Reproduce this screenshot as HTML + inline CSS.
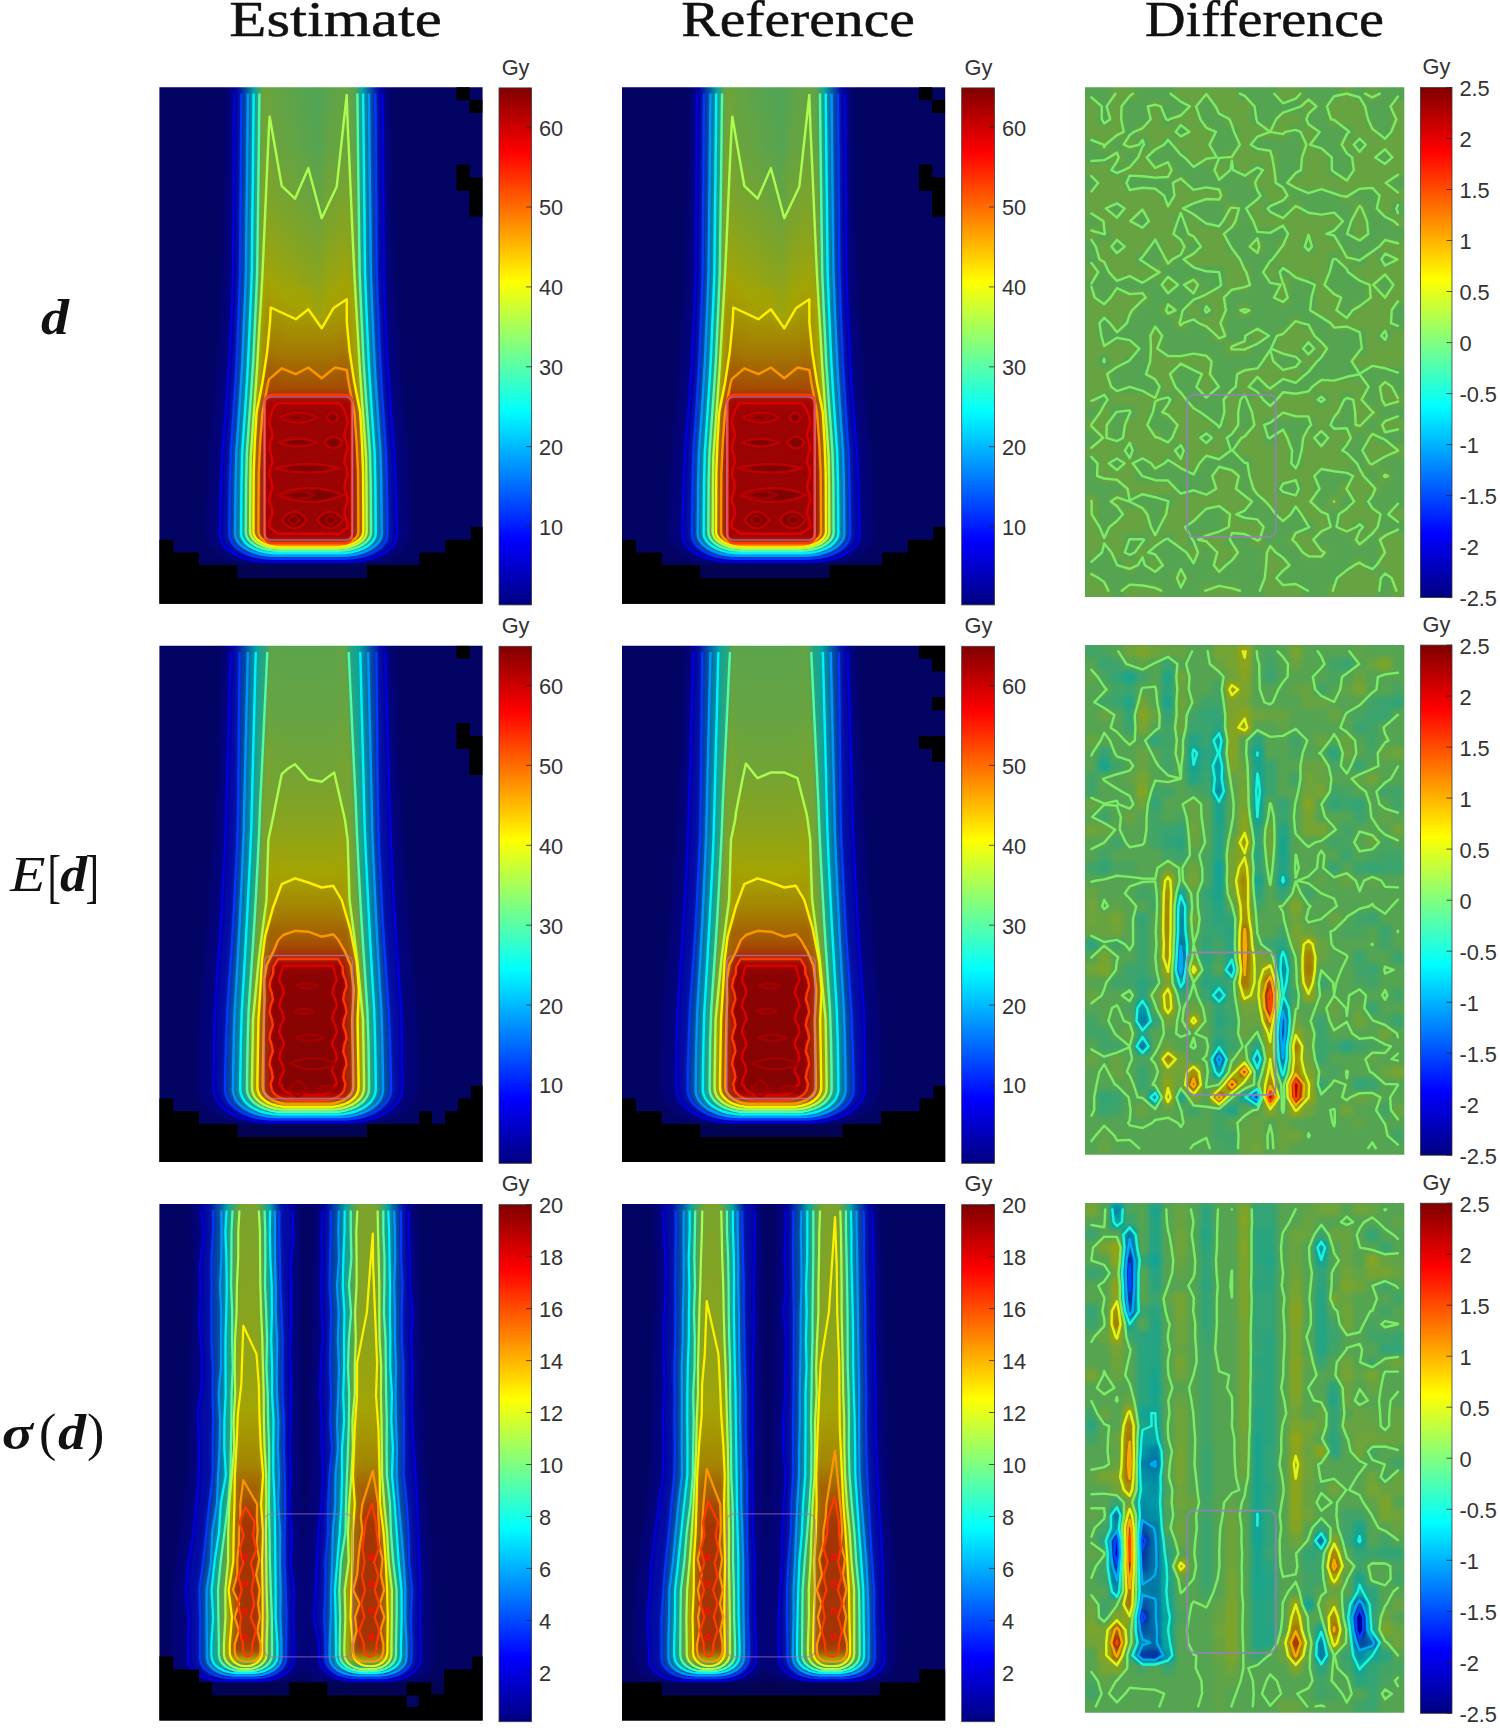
<!DOCTYPE html>
<html lang="en"><head><meta charset="utf-8"><title>Estimate / Reference / Difference</title>
<style>html,body{margin:0;padding:0;background:#fff}svg{display:block}</style></head>
<body>
<svg width="1500" height="1735" viewBox="0 0 1500 1735" role="img" aria-label="Estimate, reference and difference dose maps">
<defs>
<filter id="jet" x="-5%" y="-5%" width="110%" height="110%" color-interpolation-filters="sRGB"><feGaussianBlur stdDeviation="2.6 2.2"/><feComponentTransfer><feFuncR type="table" tableValues="0.015 0.015 0.015 0.015 0.330 0.645 0.645 0.645 0.330"/><feFuncG type="table" tableValues="0.015 0.015 0.330 0.645 0.645 0.645 0.330 0.015 0.015"/><feFuncB type="table" tableValues="0.330 0.645 0.645 0.645 0.330 0.015 0.015 0.015 0.015"/><feFuncA type="linear" slope="0" intercept="1"/></feComponentTransfer></filter>
<filter id="jetd" x="-5%" y="-5%" width="110%" height="110%" color-interpolation-filters="sRGB"><feGaussianBlur stdDeviation="2.6 2.6"/><feComponentTransfer><feFuncR type="table" tableValues="0.015 0.015 0.015 0.015 0.330 0.645 0.645 0.645 0.330"/><feFuncG type="table" tableValues="0.015 0.015 0.330 0.645 0.645 0.645 0.330 0.015 0.015"/><feFuncB type="table" tableValues="0.330 0.645 0.645 0.645 0.330 0.015 0.015 0.015 0.015"/><feFuncA type="linear" slope="0" intercept="1"/></feComponentTransfer></filter>
<filter id="soft" x="-5%" y="-5%" width="110%" height="110%"><feGaussianBlur stdDeviation="0.6"/></filter>
<linearGradient id="cb" x1="0" y1="1" x2="0" y2="0"><stop offset="0.000" stop-color="#000080"/><stop offset="0.125" stop-color="#0000ff"/><stop offset="0.250" stop-color="#0080ff"/><stop offset="0.375" stop-color="#00ffff"/><stop offset="0.500" stop-color="#80ff80"/><stop offset="0.625" stop-color="#ffff00"/><stop offset="0.750" stop-color="#ff8000"/><stop offset="0.875" stop-color="#ff0000"/><stop offset="1.000" stop-color="#800000"/></linearGradient>
<linearGradient id="core00" gradientUnits="userSpaceOnUse" x1="0" y1="87.3" x2="0" y2="603.7"><stop offset="0.0000" stop-color="#838383"/><stop offset="0.1162" stop-color="#868686"/><stop offset="0.2130" stop-color="#8c8c8c"/><stop offset="0.3292" stop-color="#969696"/><stop offset="0.4376" stop-color="#a2a2a2"/><stop offset="0.5074" stop-color="#afafaf"/><stop offset="0.5538" stop-color="#bababa"/><stop offset="0.5809" stop-color="#c1c1c1"/><stop offset="0.5945" stop-color="#cacaca"/><stop offset="0.6022" stop-color="#dadada"/><stop offset="0.6158" stop-color="#e0e0e0"/><stop offset="0.6390" stop-color="#e2e2e2"/><stop offset="0.8521" stop-color="#e3e3e3"/><stop offset="0.8714" stop-color="#e0e0e0"/><stop offset="0.8830" stop-color="#c4c4c4"/><stop offset="0.9218" stop-color="#000000"/><stop offset="0.9992" stop-color="#000000"/></linearGradient>
<clipPath id="l00"><rect x="159.4" y="93.6" width="323.2" height="516.4"/></clipPath>
<clipPath id="c00"><rect x="159.4" y="87.3" width="323.2" height="516.4"/></clipPath>
<linearGradient id="core10" gradientUnits="userSpaceOnUse" x1="0" y1="87.3" x2="0" y2="603.7"><stop offset="0.0000" stop-color="#838383"/><stop offset="0.1162" stop-color="#868686"/><stop offset="0.2130" stop-color="#8c8c8c"/><stop offset="0.3292" stop-color="#969696"/><stop offset="0.4376" stop-color="#a2a2a2"/><stop offset="0.5074" stop-color="#afafaf"/><stop offset="0.5538" stop-color="#bababa"/><stop offset="0.5809" stop-color="#c1c1c1"/><stop offset="0.5945" stop-color="#cacaca"/><stop offset="0.6022" stop-color="#dadada"/><stop offset="0.6158" stop-color="#e0e0e0"/><stop offset="0.6390" stop-color="#e2e2e2"/><stop offset="0.8521" stop-color="#e3e3e3"/><stop offset="0.8714" stop-color="#e0e0e0"/><stop offset="0.8830" stop-color="#c4c4c4"/><stop offset="0.9218" stop-color="#000000"/><stop offset="0.9992" stop-color="#000000"/></linearGradient>
<clipPath id="l10"><rect x="622" y="93.6" width="323.2" height="516.4"/></clipPath>
<clipPath id="c10"><rect x="622" y="87.3" width="323.2" height="516.4"/></clipPath>
<linearGradient id="core01" gradientUnits="userSpaceOnUse" x1="0" y1="645.7" x2="0" y2="1162.1"><stop offset="0.0000" stop-color="#838383"/><stop offset="0.1356" stop-color="#868686"/><stop offset="0.2421" stop-color="#8c8c8c"/><stop offset="0.3582" stop-color="#969696"/><stop offset="0.4609" stop-color="#a2a2a2"/><stop offset="0.5190" stop-color="#afafaf"/><stop offset="0.5596" stop-color="#bababa"/><stop offset="0.5868" stop-color="#c6c6c6"/><stop offset="0.6061" stop-color="#d2d2d2"/><stop offset="0.6235" stop-color="#e6e6e6"/><stop offset="0.6468" stop-color="#eaeaea"/><stop offset="0.8482" stop-color="#ebebeb"/><stop offset="0.8637" stop-color="#e7e7e7"/><stop offset="0.8792" stop-color="#cccccc"/><stop offset="0.9256" stop-color="#000000"/><stop offset="0.9992" stop-color="#000000"/></linearGradient>
<clipPath id="l01"><rect x="159.4" y="652" width="323.2" height="516.4"/></clipPath>
<clipPath id="c01"><rect x="159.4" y="645.7" width="323.2" height="516.4"/></clipPath>
<linearGradient id="core11" gradientUnits="userSpaceOnUse" x1="0" y1="645.7" x2="0" y2="1162.1"><stop offset="0.0000" stop-color="#838383"/><stop offset="0.1356" stop-color="#868686"/><stop offset="0.2421" stop-color="#8c8c8c"/><stop offset="0.3582" stop-color="#969696"/><stop offset="0.4609" stop-color="#a2a2a2"/><stop offset="0.5190" stop-color="#afafaf"/><stop offset="0.5596" stop-color="#bababa"/><stop offset="0.5868" stop-color="#c6c6c6"/><stop offset="0.6061" stop-color="#d2d2d2"/><stop offset="0.6235" stop-color="#e6e6e6"/><stop offset="0.6468" stop-color="#eaeaea"/><stop offset="0.8482" stop-color="#ebebeb"/><stop offset="0.8637" stop-color="#e7e7e7"/><stop offset="0.8792" stop-color="#cccccc"/><stop offset="0.9256" stop-color="#000000"/><stop offset="0.9992" stop-color="#000000"/></linearGradient>
<clipPath id="l11"><rect x="622" y="652" width="323.2" height="516.4"/></clipPath>
<clipPath id="c11"><rect x="622" y="645.7" width="323.2" height="516.4"/></clipPath>
<linearGradient id="core02" gradientUnits="userSpaceOnUse" x1="0" y1="1204.1" x2="0" y2="1720.5"><stop offset="0.0000" stop-color="#8f8f8f"/><stop offset="0.2324" stop-color="#959595"/><stop offset="0.3873" stop-color="#9e9e9e"/><stop offset="0.5035" stop-color="#acacac"/><stop offset="0.5616" stop-color="#bdbdbd"/><stop offset="0.5926" stop-color="#c6c6c6"/><stop offset="0.6197" stop-color="#cbcbcb"/><stop offset="0.6584" stop-color="#cccccc"/><stop offset="0.8443" stop-color="#cccccc"/><stop offset="0.8637" stop-color="#c6c6c6"/><stop offset="0.8792" stop-color="#a6a6a6"/><stop offset="0.9256" stop-color="#000000"/><stop offset="0.9992" stop-color="#000000"/></linearGradient>
<clipPath id="l02"><rect x="159.4" y="1210.4" width="323.2" height="516.4"/></clipPath>
<clipPath id="c02"><rect x="159.4" y="1204.1" width="323.2" height="516.4"/></clipPath>
<linearGradient id="core12" gradientUnits="userSpaceOnUse" x1="0" y1="1204.1" x2="0" y2="1720.5"><stop offset="0.0000" stop-color="#8f8f8f"/><stop offset="0.2324" stop-color="#959595"/><stop offset="0.3873" stop-color="#9e9e9e"/><stop offset="0.5035" stop-color="#acacac"/><stop offset="0.5616" stop-color="#bdbdbd"/><stop offset="0.5926" stop-color="#c6c6c6"/><stop offset="0.6197" stop-color="#cbcbcb"/><stop offset="0.6584" stop-color="#cccccc"/><stop offset="0.8443" stop-color="#cccccc"/><stop offset="0.8637" stop-color="#c6c6c6"/><stop offset="0.8792" stop-color="#a6a6a6"/><stop offset="0.9256" stop-color="#000000"/><stop offset="0.9992" stop-color="#000000"/></linearGradient>
<clipPath id="l12"><rect x="622" y="1210.4" width="323.2" height="516.4"/></clipPath>
<clipPath id="c12"><rect x="622" y="1204.1" width="323.2" height="516.4"/></clipPath>
<clipPath id="c20"><rect x="1085" y="87.3" width="319.3" height="509.8"/></clipPath>
<clipPath id="c21"><rect x="1085" y="644.9" width="319.3" height="509.8"/></clipPath>
<clipPath id="c22"><rect x="1085" y="1203" width="319.3" height="509.8"/></clipPath>
</defs>
<rect width="1500" height="1735" fill="#fff"/>
<text x="229.3" y="35.7" font-family="'Liberation Serif','DejaVu Serif',serif" font-size="50" fill="#111" text-anchor="start" textLength="212.5" lengthAdjust="spacingAndGlyphs" stroke="#111" stroke-width="0.5">Estimate</text>
<text x="681.3" y="35.7" font-family="'Liberation Serif','DejaVu Serif',serif" font-size="50" fill="#111" text-anchor="start" textLength="233.5" lengthAdjust="spacingAndGlyphs" stroke="#111" stroke-width="0.5">Reference</text>
<text x="1145" y="35.7" font-family="'Liberation Serif','DejaVu Serif',serif" font-size="50" fill="#111" text-anchor="start" textLength="239" lengthAdjust="spacingAndGlyphs" stroke="#111" stroke-width="0.5">Difference</text>
<text x="41" y="334" font-family="'Liberation Serif','DejaVu Serif',serif" font-size="51" font-weight="bold" font-style="italic" fill="#111" textLength="28" lengthAdjust="spacingAndGlyphs">d</text>
<text y="891" font-family="'Liberation Serif','DejaVu Serif',serif" font-size="50" fill="#111"><tspan x="10" font-style="italic" textLength="35.5" lengthAdjust="spacingAndGlyphs">E</tspan><tspan x="47.5" dy="4.5" font-size="59" textLength="13.5" lengthAdjust="spacingAndGlyphs">[</tspan><tspan x="60" dy="-4.5" font-size="51" font-weight="bold" font-style="italic" textLength="27" lengthAdjust="spacingAndGlyphs">d</tspan><tspan x="85.5" dy="4.5" font-size="59" textLength="13.5" lengthAdjust="spacingAndGlyphs">]</tspan></text>
<text y="1449" font-family="'Liberation Serif','DejaVu Serif',serif" font-size="50" fill="#111"><tspan x="2" font-size="49" font-weight="bold" font-style="italic" textLength="31" lengthAdjust="spacingAndGlyphs">σ</tspan><tspan x="39" dy="1" font-size="52">(</tspan><tspan x="58" dy="-1" font-size="51" font-weight="bold" font-style="italic" textLength="28" lengthAdjust="spacingAndGlyphs">d</tspan><tspan x="87" dy="1" font-size="52">)</tspan></text>
<rect x="499" y="87.9" width="32.6" height="517" fill="url(#cb)" stroke="#3a3a3a" stroke-width="0.8"/><text x="515.6" y="74.5" font-family="'Liberation Sans','DejaVu Sans',sans-serif" font-size="21.8" fill="#333" text-anchor="middle" >Gy</text><path d="M526.1 526.6H531.6" stroke="#222" stroke-width="1" opacity=".75"/><text x="539" y="535" font-family="'Liberation Sans','DejaVu Sans',sans-serif" font-size="21.8" fill="#333" text-anchor="start" >10</text><path d="M526.1 446.7H531.6" stroke="#222" stroke-width="1" opacity=".75"/><text x="539" y="455.1" font-family="'Liberation Sans','DejaVu Sans',sans-serif" font-size="21.8" fill="#333" text-anchor="start" >20</text><path d="M526.1 366.8H531.6" stroke="#222" stroke-width="1" opacity=".75"/><text x="539" y="375.2" font-family="'Liberation Sans','DejaVu Sans',sans-serif" font-size="21.8" fill="#333" text-anchor="start" >30</text><path d="M526.1 286.9H531.6" stroke="#222" stroke-width="1" opacity=".75"/><text x="539" y="295.3" font-family="'Liberation Sans','DejaVu Sans',sans-serif" font-size="21.8" fill="#333" text-anchor="start" >40</text><path d="M526.1 207H531.6" stroke="#222" stroke-width="1" opacity=".75"/><text x="539" y="215.4" font-family="'Liberation Sans','DejaVu Sans',sans-serif" font-size="21.8" fill="#333" text-anchor="start" >50</text><path d="M526.1 127.1H531.6" stroke="#222" stroke-width="1" opacity=".75"/><text x="539" y="135.5" font-family="'Liberation Sans','DejaVu Sans',sans-serif" font-size="21.8" fill="#333" text-anchor="start" >60</text>
<rect x="961.7" y="87.9" width="32.8" height="517" fill="url(#cb)" stroke="#3a3a3a" stroke-width="0.8"/><text x="978.4" y="74.5" font-family="'Liberation Sans','DejaVu Sans',sans-serif" font-size="21.8" fill="#333" text-anchor="middle" >Gy</text><path d="M989 526.6H994.5" stroke="#222" stroke-width="1" opacity=".75"/><text x="1001.9" y="535" font-family="'Liberation Sans','DejaVu Sans',sans-serif" font-size="21.8" fill="#333" text-anchor="start" >10</text><path d="M989 446.7H994.5" stroke="#222" stroke-width="1" opacity=".75"/><text x="1001.9" y="455.1" font-family="'Liberation Sans','DejaVu Sans',sans-serif" font-size="21.8" fill="#333" text-anchor="start" >20</text><path d="M989 366.8H994.5" stroke="#222" stroke-width="1" opacity=".75"/><text x="1001.9" y="375.2" font-family="'Liberation Sans','DejaVu Sans',sans-serif" font-size="21.8" fill="#333" text-anchor="start" >30</text><path d="M989 286.9H994.5" stroke="#222" stroke-width="1" opacity=".75"/><text x="1001.9" y="295.3" font-family="'Liberation Sans','DejaVu Sans',sans-serif" font-size="21.8" fill="#333" text-anchor="start" >40</text><path d="M989 207H994.5" stroke="#222" stroke-width="1" opacity=".75"/><text x="1001.9" y="215.4" font-family="'Liberation Sans','DejaVu Sans',sans-serif" font-size="21.8" fill="#333" text-anchor="start" >50</text><path d="M989 127.1H994.5" stroke="#222" stroke-width="1" opacity=".75"/><text x="1001.9" y="135.5" font-family="'Liberation Sans','DejaVu Sans',sans-serif" font-size="21.8" fill="#333" text-anchor="start" >60</text>
<rect x="1420.4" y="87.5" width="31.6" height="510.1" fill="url(#cb)" stroke="#3a3a3a" stroke-width="0.8"/><text x="1436.5" y="74.1" font-family="'Liberation Sans','DejaVu Sans',sans-serif" font-size="21.8" fill="#333" text-anchor="middle" >Gy</text><path d="M1446.5 597.6H1452" stroke="#222" stroke-width="1" opacity=".75"/><text x="1459.4" y="606" font-family="'Liberation Sans','DejaVu Sans',sans-serif" font-size="21.8" fill="#333" text-anchor="start" >-2.5</text><path d="M1446.5 546.6H1452" stroke="#222" stroke-width="1" opacity=".75"/><text x="1459.4" y="555" font-family="'Liberation Sans','DejaVu Sans',sans-serif" font-size="21.8" fill="#333" text-anchor="start" >-2</text><path d="M1446.5 495.6H1452" stroke="#222" stroke-width="1" opacity=".75"/><text x="1459.4" y="504" font-family="'Liberation Sans','DejaVu Sans',sans-serif" font-size="21.8" fill="#333" text-anchor="start" >-1.5</text><path d="M1446.5 444.6H1452" stroke="#222" stroke-width="1" opacity=".75"/><text x="1459.4" y="453" font-family="'Liberation Sans','DejaVu Sans',sans-serif" font-size="21.8" fill="#333" text-anchor="start" >-1</text><path d="M1446.5 393.6H1452" stroke="#222" stroke-width="1" opacity=".75"/><text x="1459.4" y="402" font-family="'Liberation Sans','DejaVu Sans',sans-serif" font-size="21.8" fill="#333" text-anchor="start" >-0.5</text><path d="M1446.5 342.6H1452" stroke="#222" stroke-width="1" opacity=".75"/><text x="1459.4" y="350.9" font-family="'Liberation Sans','DejaVu Sans',sans-serif" font-size="21.8" fill="#333" text-anchor="start" >0</text><path d="M1446.5 291.5H1452" stroke="#222" stroke-width="1" opacity=".75"/><text x="1459.4" y="299.9" font-family="'Liberation Sans','DejaVu Sans',sans-serif" font-size="21.8" fill="#333" text-anchor="start" >0.5</text><path d="M1446.5 240.5H1452" stroke="#222" stroke-width="1" opacity=".75"/><text x="1459.4" y="248.9" font-family="'Liberation Sans','DejaVu Sans',sans-serif" font-size="21.8" fill="#333" text-anchor="start" >1</text><path d="M1446.5 189.5H1452" stroke="#222" stroke-width="1" opacity=".75"/><text x="1459.4" y="197.9" font-family="'Liberation Sans','DejaVu Sans',sans-serif" font-size="21.8" fill="#333" text-anchor="start" >1.5</text><path d="M1446.5 138.5H1452" stroke="#222" stroke-width="1" opacity=".75"/><text x="1459.4" y="146.9" font-family="'Liberation Sans','DejaVu Sans',sans-serif" font-size="21.8" fill="#333" text-anchor="start" >2</text><path d="M1446.5 87.5H1452" stroke="#222" stroke-width="1" opacity=".75"/><text x="1459.4" y="95.9" font-family="'Liberation Sans','DejaVu Sans',sans-serif" font-size="21.8" fill="#333" text-anchor="start" >2.5</text>
<rect x="499" y="646.3" width="32.6" height="517" fill="url(#cb)" stroke="#3a3a3a" stroke-width="0.8"/><text x="515.6" y="632.9" font-family="'Liberation Sans','DejaVu Sans',sans-serif" font-size="21.8" fill="#333" text-anchor="middle" >Gy</text><path d="M526.1 1085H531.6" stroke="#222" stroke-width="1" opacity=".75"/><text x="539" y="1093.4" font-family="'Liberation Sans','DejaVu Sans',sans-serif" font-size="21.8" fill="#333" text-anchor="start" >10</text><path d="M526.1 1005.1H531.6" stroke="#222" stroke-width="1" opacity=".75"/><text x="539" y="1013.5" font-family="'Liberation Sans','DejaVu Sans',sans-serif" font-size="21.8" fill="#333" text-anchor="start" >20</text><path d="M526.1 925.2H531.6" stroke="#222" stroke-width="1" opacity=".75"/><text x="539" y="933.6" font-family="'Liberation Sans','DejaVu Sans',sans-serif" font-size="21.8" fill="#333" text-anchor="start" >30</text><path d="M526.1 845.3H531.6" stroke="#222" stroke-width="1" opacity=".75"/><text x="539" y="853.7" font-family="'Liberation Sans','DejaVu Sans',sans-serif" font-size="21.8" fill="#333" text-anchor="start" >40</text><path d="M526.1 765.4H531.6" stroke="#222" stroke-width="1" opacity=".75"/><text x="539" y="773.8" font-family="'Liberation Sans','DejaVu Sans',sans-serif" font-size="21.8" fill="#333" text-anchor="start" >50</text><path d="M526.1 685.5H531.6" stroke="#222" stroke-width="1" opacity=".75"/><text x="539" y="693.9" font-family="'Liberation Sans','DejaVu Sans',sans-serif" font-size="21.8" fill="#333" text-anchor="start" >60</text>
<rect x="961.7" y="646.3" width="32.8" height="517" fill="url(#cb)" stroke="#3a3a3a" stroke-width="0.8"/><text x="978.4" y="632.9" font-family="'Liberation Sans','DejaVu Sans',sans-serif" font-size="21.8" fill="#333" text-anchor="middle" >Gy</text><path d="M989 1085H994.5" stroke="#222" stroke-width="1" opacity=".75"/><text x="1001.9" y="1093.4" font-family="'Liberation Sans','DejaVu Sans',sans-serif" font-size="21.8" fill="#333" text-anchor="start" >10</text><path d="M989 1005.1H994.5" stroke="#222" stroke-width="1" opacity=".75"/><text x="1001.9" y="1013.5" font-family="'Liberation Sans','DejaVu Sans',sans-serif" font-size="21.8" fill="#333" text-anchor="start" >20</text><path d="M989 925.2H994.5" stroke="#222" stroke-width="1" opacity=".75"/><text x="1001.9" y="933.6" font-family="'Liberation Sans','DejaVu Sans',sans-serif" font-size="21.8" fill="#333" text-anchor="start" >30</text><path d="M989 845.3H994.5" stroke="#222" stroke-width="1" opacity=".75"/><text x="1001.9" y="853.7" font-family="'Liberation Sans','DejaVu Sans',sans-serif" font-size="21.8" fill="#333" text-anchor="start" >40</text><path d="M989 765.4H994.5" stroke="#222" stroke-width="1" opacity=".75"/><text x="1001.9" y="773.8" font-family="'Liberation Sans','DejaVu Sans',sans-serif" font-size="21.8" fill="#333" text-anchor="start" >50</text><path d="M989 685.5H994.5" stroke="#222" stroke-width="1" opacity=".75"/><text x="1001.9" y="693.9" font-family="'Liberation Sans','DejaVu Sans',sans-serif" font-size="21.8" fill="#333" text-anchor="start" >60</text>
<rect x="1420.4" y="645.1" width="31.6" height="510.1" fill="url(#cb)" stroke="#3a3a3a" stroke-width="0.8"/><text x="1436.5" y="631.7" font-family="'Liberation Sans','DejaVu Sans',sans-serif" font-size="21.8" fill="#333" text-anchor="middle" >Gy</text><path d="M1446.5 1155.2H1452" stroke="#222" stroke-width="1" opacity=".75"/><text x="1459.4" y="1163.6" font-family="'Liberation Sans','DejaVu Sans',sans-serif" font-size="21.8" fill="#333" text-anchor="start" >-2.5</text><path d="M1446.5 1104.2H1452" stroke="#222" stroke-width="1" opacity=".75"/><text x="1459.4" y="1112.6" font-family="'Liberation Sans','DejaVu Sans',sans-serif" font-size="21.8" fill="#333" text-anchor="start" >-2</text><path d="M1446.5 1053.2H1452" stroke="#222" stroke-width="1" opacity=".75"/><text x="1459.4" y="1061.6" font-family="'Liberation Sans','DejaVu Sans',sans-serif" font-size="21.8" fill="#333" text-anchor="start" >-1.5</text><path d="M1446.5 1002.2H1452" stroke="#222" stroke-width="1" opacity=".75"/><text x="1459.4" y="1010.6" font-family="'Liberation Sans','DejaVu Sans',sans-serif" font-size="21.8" fill="#333" text-anchor="start" >-1</text><path d="M1446.5 951.2H1452" stroke="#222" stroke-width="1" opacity=".75"/><text x="1459.4" y="959.6" font-family="'Liberation Sans','DejaVu Sans',sans-serif" font-size="21.8" fill="#333" text-anchor="start" >-0.5</text><path d="M1446.5 900.2H1452" stroke="#222" stroke-width="1" opacity=".75"/><text x="1459.4" y="908.6" font-family="'Liberation Sans','DejaVu Sans',sans-serif" font-size="21.8" fill="#333" text-anchor="start" >0</text><path d="M1446.5 849.1H1452" stroke="#222" stroke-width="1" opacity=".75"/><text x="1459.4" y="857.5" font-family="'Liberation Sans','DejaVu Sans',sans-serif" font-size="21.8" fill="#333" text-anchor="start" >0.5</text><path d="M1446.5 798.1H1452" stroke="#222" stroke-width="1" opacity=".75"/><text x="1459.4" y="806.5" font-family="'Liberation Sans','DejaVu Sans',sans-serif" font-size="21.8" fill="#333" text-anchor="start" >1</text><path d="M1446.5 747.1H1452" stroke="#222" stroke-width="1" opacity=".75"/><text x="1459.4" y="755.5" font-family="'Liberation Sans','DejaVu Sans',sans-serif" font-size="21.8" fill="#333" text-anchor="start" >1.5</text><path d="M1446.5 696.1H1452" stroke="#222" stroke-width="1" opacity=".75"/><text x="1459.4" y="704.5" font-family="'Liberation Sans','DejaVu Sans',sans-serif" font-size="21.8" fill="#333" text-anchor="start" >2</text><path d="M1446.5 645.1H1452" stroke="#222" stroke-width="1" opacity=".75"/><text x="1459.4" y="653.5" font-family="'Liberation Sans','DejaVu Sans',sans-serif" font-size="21.8" fill="#333" text-anchor="start" >2.5</text>
<rect x="499" y="1204.7" width="32.6" height="517" fill="url(#cb)" stroke="#3a3a3a" stroke-width="0.8"/><text x="515.6" y="1191.3" font-family="'Liberation Sans','DejaVu Sans',sans-serif" font-size="21.8" fill="#333" text-anchor="middle" >Gy</text><path d="M526.1 1672.3H531.6" stroke="#222" stroke-width="1" opacity=".75"/><text x="539" y="1680.7" font-family="'Liberation Sans','DejaVu Sans',sans-serif" font-size="21.8" fill="#333" text-anchor="start" >2</text><path d="M526.1 1620.4H531.6" stroke="#222" stroke-width="1" opacity=".75"/><text x="539" y="1628.8" font-family="'Liberation Sans','DejaVu Sans',sans-serif" font-size="21.8" fill="#333" text-anchor="start" >4</text><path d="M526.1 1568.4H531.6" stroke="#222" stroke-width="1" opacity=".75"/><text x="539" y="1576.8" font-family="'Liberation Sans','DejaVu Sans',sans-serif" font-size="21.8" fill="#333" text-anchor="start" >6</text><path d="M526.1 1516.5H531.6" stroke="#222" stroke-width="1" opacity=".75"/><text x="539" y="1524.9" font-family="'Liberation Sans','DejaVu Sans',sans-serif" font-size="21.8" fill="#333" text-anchor="start" >8</text><path d="M526.1 1464.5H531.6" stroke="#222" stroke-width="1" opacity=".75"/><text x="539" y="1472.9" font-family="'Liberation Sans','DejaVu Sans',sans-serif" font-size="21.8" fill="#333" text-anchor="start" >10</text><path d="M526.1 1412.5H531.6" stroke="#222" stroke-width="1" opacity=".75"/><text x="539" y="1420.9" font-family="'Liberation Sans','DejaVu Sans',sans-serif" font-size="21.8" fill="#333" text-anchor="start" >12</text><path d="M526.1 1360.6H531.6" stroke="#222" stroke-width="1" opacity=".75"/><text x="539" y="1369" font-family="'Liberation Sans','DejaVu Sans',sans-serif" font-size="21.8" fill="#333" text-anchor="start" >14</text><path d="M526.1 1308.6H531.6" stroke="#222" stroke-width="1" opacity=".75"/><text x="539" y="1317" font-family="'Liberation Sans','DejaVu Sans',sans-serif" font-size="21.8" fill="#333" text-anchor="start" >16</text><path d="M526.1 1256.7H531.6" stroke="#222" stroke-width="1" opacity=".75"/><text x="539" y="1265.1" font-family="'Liberation Sans','DejaVu Sans',sans-serif" font-size="21.8" fill="#333" text-anchor="start" >18</text><path d="M526.1 1204.7H531.6" stroke="#222" stroke-width="1" opacity=".75"/><text x="539" y="1213.1" font-family="'Liberation Sans','DejaVu Sans',sans-serif" font-size="21.8" fill="#333" text-anchor="start" >20</text>
<rect x="961.7" y="1204.7" width="32.8" height="517" fill="url(#cb)" stroke="#3a3a3a" stroke-width="0.8"/><text x="978.4" y="1191.3" font-family="'Liberation Sans','DejaVu Sans',sans-serif" font-size="21.8" fill="#333" text-anchor="middle" >Gy</text><path d="M989 1672.3H994.5" stroke="#222" stroke-width="1" opacity=".75"/><text x="1001.9" y="1680.7" font-family="'Liberation Sans','DejaVu Sans',sans-serif" font-size="21.8" fill="#333" text-anchor="start" >2</text><path d="M989 1620.4H994.5" stroke="#222" stroke-width="1" opacity=".75"/><text x="1001.9" y="1628.8" font-family="'Liberation Sans','DejaVu Sans',sans-serif" font-size="21.8" fill="#333" text-anchor="start" >4</text><path d="M989 1568.4H994.5" stroke="#222" stroke-width="1" opacity=".75"/><text x="1001.9" y="1576.8" font-family="'Liberation Sans','DejaVu Sans',sans-serif" font-size="21.8" fill="#333" text-anchor="start" >6</text><path d="M989 1516.5H994.5" stroke="#222" stroke-width="1" opacity=".75"/><text x="1001.9" y="1524.9" font-family="'Liberation Sans','DejaVu Sans',sans-serif" font-size="21.8" fill="#333" text-anchor="start" >8</text><path d="M989 1464.5H994.5" stroke="#222" stroke-width="1" opacity=".75"/><text x="1001.9" y="1472.9" font-family="'Liberation Sans','DejaVu Sans',sans-serif" font-size="21.8" fill="#333" text-anchor="start" >10</text><path d="M989 1412.5H994.5" stroke="#222" stroke-width="1" opacity=".75"/><text x="1001.9" y="1420.9" font-family="'Liberation Sans','DejaVu Sans',sans-serif" font-size="21.8" fill="#333" text-anchor="start" >12</text><path d="M989 1360.6H994.5" stroke="#222" stroke-width="1" opacity=".75"/><text x="1001.9" y="1369" font-family="'Liberation Sans','DejaVu Sans',sans-serif" font-size="21.8" fill="#333" text-anchor="start" >14</text><path d="M989 1308.6H994.5" stroke="#222" stroke-width="1" opacity=".75"/><text x="1001.9" y="1317" font-family="'Liberation Sans','DejaVu Sans',sans-serif" font-size="21.8" fill="#333" text-anchor="start" >16</text><path d="M989 1256.7H994.5" stroke="#222" stroke-width="1" opacity=".75"/><text x="1001.9" y="1265.1" font-family="'Liberation Sans','DejaVu Sans',sans-serif" font-size="21.8" fill="#333" text-anchor="start" >18</text><path d="M989 1204.7H994.5" stroke="#222" stroke-width="1" opacity=".75"/><text x="1001.9" y="1213.1" font-family="'Liberation Sans','DejaVu Sans',sans-serif" font-size="21.8" fill="#333" text-anchor="start" >20</text>
<rect x="1420.4" y="1203.2" width="31.6" height="510.1" fill="url(#cb)" stroke="#3a3a3a" stroke-width="0.8"/><text x="1436.5" y="1189.8" font-family="'Liberation Sans','DejaVu Sans',sans-serif" font-size="21.8" fill="#333" text-anchor="middle" >Gy</text><path d="M1446.5 1713.3H1452" stroke="#222" stroke-width="1" opacity=".75"/><text x="1459.4" y="1721.7" font-family="'Liberation Sans','DejaVu Sans',sans-serif" font-size="21.8" fill="#333" text-anchor="start" >-2.5</text><path d="M1446.5 1662.3H1452" stroke="#222" stroke-width="1" opacity=".75"/><text x="1459.4" y="1670.7" font-family="'Liberation Sans','DejaVu Sans',sans-serif" font-size="21.8" fill="#333" text-anchor="start" >-2</text><path d="M1446.5 1611.3H1452" stroke="#222" stroke-width="1" opacity=".75"/><text x="1459.4" y="1619.7" font-family="'Liberation Sans','DejaVu Sans',sans-serif" font-size="21.8" fill="#333" text-anchor="start" >-1.5</text><path d="M1446.5 1560.3H1452" stroke="#222" stroke-width="1" opacity=".75"/><text x="1459.4" y="1568.7" font-family="'Liberation Sans','DejaVu Sans',sans-serif" font-size="21.8" fill="#333" text-anchor="start" >-1</text><path d="M1446.5 1509.3H1452" stroke="#222" stroke-width="1" opacity=".75"/><text x="1459.4" y="1517.7" font-family="'Liberation Sans','DejaVu Sans',sans-serif" font-size="21.8" fill="#333" text-anchor="start" >-0.5</text><path d="M1446.5 1458.2H1452" stroke="#222" stroke-width="1" opacity=".75"/><text x="1459.4" y="1466.7" font-family="'Liberation Sans','DejaVu Sans',sans-serif" font-size="21.8" fill="#333" text-anchor="start" >0</text><path d="M1446.5 1407.2H1452" stroke="#222" stroke-width="1" opacity=".75"/><text x="1459.4" y="1415.6" font-family="'Liberation Sans','DejaVu Sans',sans-serif" font-size="21.8" fill="#333" text-anchor="start" >0.5</text><path d="M1446.5 1356.2H1452" stroke="#222" stroke-width="1" opacity=".75"/><text x="1459.4" y="1364.6" font-family="'Liberation Sans','DejaVu Sans',sans-serif" font-size="21.8" fill="#333" text-anchor="start" >1</text><path d="M1446.5 1305.2H1452" stroke="#222" stroke-width="1" opacity=".75"/><text x="1459.4" y="1313.6" font-family="'Liberation Sans','DejaVu Sans',sans-serif" font-size="21.8" fill="#333" text-anchor="start" >1.5</text><path d="M1446.5 1254.2H1452" stroke="#222" stroke-width="1" opacity=".75"/><text x="1459.4" y="1262.6" font-family="'Liberation Sans','DejaVu Sans',sans-serif" font-size="21.8" fill="#333" text-anchor="start" >2</text><path d="M1446.5 1203.2H1452" stroke="#222" stroke-width="1" opacity=".75"/><text x="1459.4" y="1211.6" font-family="'Liberation Sans','DejaVu Sans',sans-serif" font-size="21.8" fill="#333" text-anchor="start" >2.5</text>
<g clip-path="url(#c00)"><g filter="url(#jet)"><rect x="129.4" y="57.3" width="383.2" height="576.4" fill="#060606"/><polygon points="227.2,62.3 227.1,92.3 226.4,122.3 225.7,152.3 224.9,182.3 224.2,212.3 223.5,242.3 222.8,272.3 221.2,302.3 219.3,332.3 217.5,362.3 214.8,392.3 211.9,422.3 209,452.3 207.5,482.3 206.4,512.3 205.8,533 206.7,538.9 209.5,544.6 214.1,550 220.3,554.9 227.9,559 236.8,562.4 246.6,564.9 257,566.5 267.8,567 349,567 359.8,566.5 370.2,564.9 380,562.4 388.9,559 396.5,554.9 402.7,550 407.3,544.6 410.1,538.9 411,533 410.4,512.3 409.3,482.3 407.8,452.3 404.9,422.3 402,392.3 399.3,362.3 397.5,332.3 395.6,302.3 394,272.3 393.3,242.3 392.6,212.3 391.9,182.3 391.1,152.3 390.4,122.3 389.7,92.3 389.6,62.3" fill="#0f0f0f"/><polygon points="234.2,62.3 234.2,92.3 234,122.3 233.8,152.3 233.6,182.3 233.4,212.3 233.2,242.3 233,272.3 232,302.3 230.6,332.3 229.3,362.3 227.2,392.3 224.8,422.3 222.4,452.3 221.1,482.3 220.2,512.3 219.8,535 220.6,539.7 222.8,544.2 226.5,548.5 231.5,552.4 237.7,555.7 244.8,558.4 252.7,560.4 261.1,561.6 269.8,562 347,562 355.7,561.6 364.1,560.4 372,558.4 379.1,555.7 385.3,552.4 390.3,548.5 394,544.2 396.2,539.7 397,535 396.6,512.3 395.7,482.3 394.4,452.3 392,422.3 389.6,392.3 387.5,362.3 386.2,332.3 384.8,302.3 383.8,272.3 383.6,242.3 383.4,212.3 383.2,182.3 383,152.3 382.8,122.3 382.6,92.3 382.6,62.3" fill="#232323"/><polygon points="241.5,62.3 241.5,92.3 241.2,122.3 241,152.3 240.8,182.3 240.5,212.3 240.3,242.3 240.1,272.3 239.1,302.3 237.9,332.3 236.7,362.3 234.9,392.3 232.9,422.3 230.9,452.3 230.1,482.3 229.6,512.3 229.4,534.8 230.1,539 232.1,543 235.3,546.8 239.7,550.2 245.1,553.2 251.4,555.6 258.4,557.4 265.8,558.4 273.4,558.8 343.4,558.8 351,558.4 358.4,557.4 365.4,555.6 371.7,553.2 377.1,550.2 381.5,546.8 384.7,543 386.7,539 387.4,534.8 387.2,512.3 386.7,482.3 385.9,452.3 383.9,422.3 381.9,392.3 380.1,362.3 378.9,332.3 377.7,302.3 376.7,272.3 376.5,242.3 376.3,212.3 376,182.3 375.8,152.3 375.6,122.3 375.3,92.3 375.3,62.3" fill="#3a3a3a"/><polygon points="248,62.3 247.9,92.3 247.6,122.3 247.3,152.3 247,182.3 246.6,212.3 246.3,242.3 246,272.3 244.9,302.3 243.6,332.3 242.3,362.3 240.5,392.3 238.5,422.3 236.4,452.3 235.6,482.3 235.3,512.3 235.1,533.8 235.7,537.6 237.5,541.3 240.5,544.8 244.5,547.9 249.4,550.7 255.1,552.9 261.4,554.5 268.2,555.5 275.1,555.8 341.7,555.8 348.6,555.5 355.4,554.5 361.7,552.9 367.4,550.7 372.3,547.9 376.3,544.8 379.3,541.3 381.1,537.6 381.7,533.8 381.5,512.3 381.2,482.3 380.4,452.3 378.3,422.3 376.3,392.3 374.5,362.3 373.2,332.3 371.9,302.3 370.8,272.3 370.5,242.3 370.2,212.3 369.8,182.3 369.5,152.3 369.2,122.3 368.9,92.3 368.8,62.3" fill="#515151"/><polygon points="253.8,62.3 253.7,92.3 253.4,122.3 253.1,152.3 252.8,182.3 252.4,212.3 252.1,242.3 251.8,272.3 250.7,302.3 249.4,332.3 248.1,362.3 246.3,392.3 244.3,422.3 242.2,452.3 241.5,482.3 241.2,512.3 241.1,533.3 241.6,536.8 243.3,540.1 245.9,543.3 249.5,546.2 254,548.6 259.1,550.6 264.8,552.1 270.8,553 277.1,553.3 339.7,553.3 346,553 352,552.1 357.7,550.6 362.8,548.6 367.3,546.2 370.9,543.3 373.5,540.1 375.2,536.8 375.7,533.3 375.6,512.3 375.3,482.3 374.6,452.3 372.5,422.3 370.5,392.3 368.7,362.3 367.4,332.3 366.1,302.3 365,272.3 364.7,242.3 364.4,212.3 364,182.3 363.7,152.3 363.4,122.3 363.1,92.3 363,62.3" fill="#686868"/><polygon points="259.6,62.3 259.5,92.3 259.1,122.3 258.8,152.3 258.4,182.3 258,212.3 257.6,242.3 257.2,272.3 256,302.3 254.6,332.3 253.2,362.3 251.2,392.3 249,422.3 246.9,452.3 246.1,482.3 245.9,512.3 245.8,532.4 246.3,535.6 247.8,538.7 250.2,541.6 253.5,544.3 257.6,546.6 262.3,548.4 267.5,549.8 273.1,550.6 278.8,550.9 338,550.9 343.7,550.6 349.3,549.8 354.5,548.4 359.2,546.6 363.3,544.3 366.6,541.6 369,538.7 370.5,535.6 371,532.4 370.9,512.3 370.7,482.3 369.9,452.3 367.8,422.3 365.6,392.3 363.6,362.3 362.2,332.3 360.8,302.3 359.6,272.3 359.2,242.3 358.8,212.3 358.4,182.3 358,152.3 357.7,122.3 357.3,92.3 357.2,62.3" fill="#8b8b8b"/><polygon points="269,127.3 267.6,157.3 266.3,187.3 265,217.3 263.7,247.3 262.3,277.3 260.6,307.3 258.8,337.3 257.1,367.3 255,397.3 252.8,427.3 250.7,457.3 250.3,487.3 250.2,517.3 250.1,531.7 250.6,534.7 251.9,537.5 254.1,540.2 257.1,542.6 260.8,544.7 265.1,546.4 269.8,547.7 274.9,548.4 280.1,548.7 336.7,548.7 341.9,548.4 347,547.7 351.7,546.4 356,544.7 359.7,542.6 362.7,540.2 364.9,537.5 366.2,534.7 366.7,531.7 366.6,517.3 366.5,487.3 366.1,457.3 364,427.3 361.8,397.3 359.7,367.3 358,337.3 356.2,307.3 354.5,277.3 353.1,247.3 351.8,217.3 350.5,187.3 349.2,157.3 347.8,127.3 346.7,95 336.7,186.7 321.7,218.3 308.3,168.3 295,198.7 281.7,185.8 269.7,116.7" fill="#a2a2a2"/><polygon points="270,322.3 267.1,352.3 262.5,382.3 256.6,412.3 254.8,442.3 253.7,472.3 253.5,502.3 253.4,531.7 253.8,534.3 255,536.8 257,539.2 259.7,541.3 263,543.2 266.9,544.7 271.2,545.8 275.7,546.5 280.4,546.7 336.4,546.7 341.1,546.5 345.6,545.8 349.9,544.7 353.8,543.2 357.1,541.3 359.8,539.2 361.8,536.8 363,534.3 363.4,531.7 363.3,502.3 363.1,472.3 362,442.3 360.2,412.3 354.3,382.3 349.7,352.3 346.8,322.3 346.7,299.2 333.3,308.3 321.7,328.3 308.3,309.2 295.8,319.2 270.8,307.5" fill="#b9b9b9"/><polygon points="267.9,383.3 262.3,413.3 260.1,443.3 258.7,473.3 258.5,503.3 258.4,531.9 258.7,534.2 259.8,536.3 261.5,538.4 263.8,540.3 266.6,541.9 269.9,543.2 273.5,544.1 277.4,544.7 281.4,544.9 335.4,544.9 339.4,544.7 343.3,544.1 346.9,543.2 350.2,541.9 353,540.3 355.3,538.4 357,536.3 358.1,534.2 358.4,531.9 358.3,503.3 358.1,473.3 356.7,443.3 354.5,413.3 348.8,383.3 346.7,370 335,367.5 321.7,378.3 308.3,367.5 295.8,374.2 281.7,368.3 269.2,379.2" fill="#d1d1d1"/><polygon points="264.8,401.8 265.1,399.6 266.1,397.7 267.7,396.1 269.6,395.1 271.8,394.8 345,394.8 347.2,395.1 349.1,396.1 350.7,397.7 351.7,399.6 352,401.8 352,536.3 351.7,538.5 350.7,540.4 349.1,542 347.2,543 345,543.3 271.8,543.3 269.6,543 267.7,542 266.1,540.4 265.1,538.5 264.8,536.3" fill="#e8e8e8"/><polygon points="277.1,403.3 272.6,409.8 270.4,416.4 269,422.9 271.3,429.4 272.5,435.9 270.3,442.4 269.1,449 271.4,455.5 272.5,462 270.1,468.5 269.2,475.1 271.6,481.6 272.4,488.1 269.9,494.6 269.2,501.2 271.7,507.7 272.3,514.2 269.8,520.8 269.3,527.3 277.9,533.8 338.9,533.8 347.5,527.3 347,520.8 344.5,514.2 345.1,507.7 347.6,501.2 346.9,494.6 344.4,488.1 345.2,481.6 347.6,475.1 346.7,468.5 344.3,462 345.4,455.5 347.7,449 346.5,442.4 344.3,435.9 345.5,429.4 347.8,422.9 346.4,416.4 344.2,409.8 339.7,403.3" fill="#ffffff"/><rect x="129.4" y="57.3" width="383.2" height="576.4" fill="url(#core00)" style="mix-blend-mode:darken"/><polygon points="280,417.5 284.6,415.2 289.2,413.7 293.8,412.8 298.4,412.5 302.9,412.8 307.5,413.7 312.1,415.2 316.7,417.5 312.1,419.8 307.5,421.3 302.9,422.2 298.4,422.5 293.8,422.2 289.2,421.3 284.6,419.8" fill="#efefef"/><polygon points="326.7,417.5 328.1,415.2 329.6,413.7 331,412.8 332.5,412.5 333.9,412.8 335.4,413.7 336.8,415.2 338.3,417.5 336.8,419.8 335.4,421.3 333.9,422.2 332.5,422.5 331,422.2 329.6,421.3 328.1,419.8" fill="#efefef"/><polygon points="279.2,442.5 283.9,440.6 288.6,439.5 293.3,438.7 297.9,438.5 302.6,438.7 307.3,439.5 312,440.6 316.7,442.5 312,444.4 307.3,445.5 302.6,446.3 297.9,446.5 293.3,446.3 288.6,445.5 283.9,444.4" fill="#efefef"/><polygon points="324.2,442.5 326.5,439.7 328.8,438 331,436.9 333.3,436.5 335.6,436.9 337.8,438 340.1,439.7 342.4,442.5 340.1,445.3 337.8,447 335.6,448.1 333.3,448.5 331,448.1 328.8,447 326.5,445.3" fill="#efefef"/><polygon points="275,468.3 283.1,466.3 291.2,465 299.4,464.3 307.5,464 315.6,464.3 323.8,465 331.9,466.3 340,468.3 331.9,470.3 323.8,471.6 315.6,472.3 307.5,472.6 299.4,472.3 291.2,471.6 283.1,470.3" fill="#efefef"/><polygon points="277.5,495 285.7,491.8 293.9,489.7 302.2,488.4 310.4,488 318.6,488.4 326.8,489.7 335.1,491.8 343.3,495 335.1,498.2 326.8,500.3 318.6,501.6 310.4,502 302.2,501.6 293.9,500.3 285.7,498.2" fill="#efefef"/><polygon points="281.7,520 284.8,516.1 287.9,513.6 291.1,512 294.2,511.5 297.3,512 300.4,513.6 303.6,516.1 306.7,520 303.6,523.9 300.4,526.4 297.3,528 294.2,528.5 291.1,528 287.9,526.4 284.8,523.9" fill="#efefef"/><polygon points="316.7,520 320,516.1 323.3,513.6 326.7,512 330,511.5 333.3,512 336.6,513.6 340,516.1 343.3,520 340,523.9 336.6,526.4 333.3,528 330,528.5 326.7,528 323.3,526.4 320,523.9" fill="#efefef"/><rect x="259.4" y="87.3" width="13" height="300" fill="#fff" opacity="0.050"/><rect x="272.4" y="87.3" width="13" height="300" fill="#fff" opacity="0.025"/><rect x="337.4" y="87.3" width="13" height="300" fill="#fff" opacity="0.030"/><rect x="298.4" y="87.3" width="13" height="200" fill="#000" opacity="0.020"/><rect x="311.4" y="87.3" width="13" height="230" fill="#000" opacity="0.030"/></g><g clip-path="url(#l00)"><g fill="none" stroke-width="2.45" stroke-linejoin="round" stroke-linecap="round" opacity=".97" filter="url(#soft)"><path d="M234.2 62.3 L234.2 92.3 L234 122.3 L233.8 152.3 L233.6 182.3 L233.4 212.3 L233.2 242.3 L233 272.3 L232 302.3 L230.6 332.3 L229.3 362.3 L227.2 392.3 L224.8 422.3 L222.4 452.3 L221.1 482.3 L220.2 512.3 L219.8 535 L220.6 539.7 L222.8 544.2 L226.5 548.5 L231.5 552.4 L237.7 555.7 L244.8 558.4 L252.7 560.4 L261.1 561.6 L269.8 562 L347 562 L355.7 561.6 L364.1 560.4 L372 558.4 L379.1 555.7 L385.3 552.4 L390.3 548.5 L394 544.2 L396.2 539.7 L397 535 L396.6 512.3 L395.7 482.3 L394.4 452.3 L392 422.3 L389.6 392.3 L387.5 362.3 L386.2 332.3 L384.8 302.3 L383.8 272.3 L383.6 242.3 L383.4 212.3 L383.2 182.3 L383 152.3 L382.8 122.3 L382.6 92.3 L382.6 62.3Z" stroke="#0000dc"/><path d="M241.5 62.3 L241.5 92.3 L241.2 122.3 L241 152.3 L240.8 182.3 L240.5 212.3 L240.3 242.3 L240.1 272.3 L239.1 302.3 L237.9 332.3 L236.7 362.3 L234.9 392.3 L232.9 422.3 L230.9 452.3 L230.1 482.3 L229.6 512.3 L229.4 534.8 L230.1 539 L232.1 543 L235.3 546.8 L239.7 550.2 L245.1 553.2 L251.4 555.6 L258.4 557.4 L265.8 558.4 L273.4 558.8 L343.4 558.8 L351 558.4 L358.4 557.4 L365.4 555.6 L371.7 553.2 L377.1 550.2 L381.5 546.8 L384.7 543 L386.7 539 L387.4 534.8 L387.2 512.3 L386.7 482.3 L385.9 452.3 L383.9 422.3 L381.9 392.3 L380.1 362.3 L378.9 332.3 L377.7 302.3 L376.7 272.3 L376.5 242.3 L376.3 212.3 L376 182.3 L375.8 152.3 L375.6 122.3 L375.3 92.3 L375.3 62.3Z" stroke="#003aff"/><path d="M248 62.3 L247.9 92.3 L247.6 122.3 L247.3 152.3 L247 182.3 L246.6 212.3 L246.3 242.3 L246 272.3 L244.9 302.3 L243.6 332.3 L242.3 362.3 L240.5 392.3 L238.5 422.3 L236.4 452.3 L235.6 482.3 L235.3 512.3 L235.1 533.8 L235.7 537.6 L237.5 541.3 L240.5 544.8 L244.5 547.9 L249.4 550.7 L255.1 552.9 L261.4 554.5 L268.2 555.5 L275.1 555.8 L341.7 555.8 L348.6 555.5 L355.4 554.5 L361.7 552.9 L367.4 550.7 L372.3 547.9 L376.3 544.8 L379.3 541.3 L381.1 537.6 L381.7 533.8 L381.5 512.3 L381.2 482.3 L380.4 452.3 L378.3 422.3 L376.3 392.3 L374.5 362.3 L373.2 332.3 L371.9 302.3 L370.8 272.3 L370.5 242.3 L370.2 212.3 L369.8 182.3 L369.5 152.3 L369.2 122.3 L368.9 92.3 L368.8 62.3Z" stroke="#0097ff"/><path d="M253.8 62.3 L253.7 92.3 L253.4 122.3 L253.1 152.3 L252.8 182.3 L252.4 212.3 L252.1 242.3 L251.8 272.3 L250.7 302.3 L249.4 332.3 L248.1 362.3 L246.3 392.3 L244.3 422.3 L242.2 452.3 L241.5 482.3 L241.2 512.3 L241.1 533.3 L241.6 536.8 L243.3 540.1 L245.9 543.3 L249.5 546.2 L254 548.6 L259.1 550.6 L264.8 552.1 L270.8 553 L277.1 553.3 L339.7 553.3 L346 553 L352 552.1 L357.7 550.6 L362.8 548.6 L367.3 546.2 L370.9 543.3 L373.5 540.1 L375.2 536.8 L375.7 533.3 L375.6 512.3 L375.3 482.3 L374.6 452.3 L372.5 422.3 L370.5 392.3 L368.7 362.3 L367.4 332.3 L366.1 302.3 L365 272.3 L364.7 242.3 L364.4 212.3 L364 182.3 L363.7 152.3 L363.4 122.3 L363.1 92.3 L363 62.3Z" stroke="#00f3ff"/><path d="M259.6 62.3 L259.5 92.3 L259.1 122.3 L258.8 152.3 L258.4 182.3 L258 212.3 L257.6 242.3 L257.2 272.3 L256 302.3 L254.6 332.3 L253.2 362.3 L251.2 392.3 L249 422.3 L246.9 452.3 L246.1 482.3 L245.9 512.3 L245.8 532.4 L246.3 535.6 L247.8 538.7 L250.2 541.6 L253.5 544.3 L257.6 546.6 L262.3 548.4 L267.5 549.8 L273.1 550.6 L278.8 550.9 L338 550.9 L343.7 550.6 L349.3 549.8 L354.5 548.4 L359.2 546.6 L363.3 544.3 L366.6 541.6 L369 538.7 L370.5 535.6 L371 532.4 L370.9 512.3 L370.7 482.3 L369.9 452.3 L367.8 422.3 L365.6 392.3 L363.6 362.3 L362.2 332.3 L360.8 302.3 L359.6 272.3 L359.2 242.3 L358.8 212.3 L358.4 182.3 L358 152.3 L357.7 122.3 L357.3 92.3 L357.2 62.3Z" stroke="#51ffae"/><path d="M269 127.3 L267.6 157.3 L266.3 187.3 L265 217.3 L263.7 247.3 L262.3 277.3 L260.6 307.3 L258.8 337.3 L257.1 367.3 L255 397.3 L252.8 427.3 L250.7 457.3 L250.3 487.3 L250.2 517.3 L250.1 531.7 L250.6 534.7 L251.9 537.5 L254.1 540.2 L257.1 542.6 L260.8 544.7 L265.1 546.4 L269.8 547.7 L274.9 548.4 L280.1 548.7 L336.7 548.7 L341.9 548.4 L347 547.7 L351.7 546.4 L356 544.7 L359.7 542.6 L362.7 540.2 L364.9 537.5 L366.2 534.7 L366.7 531.7 L366.6 517.3 L366.5 487.3 L366.1 457.3 L364 427.3 L361.8 397.3 L359.7 367.3 L358 337.3 L356.2 307.3 L354.5 277.3 L353.1 247.3 L351.8 217.3 L350.5 187.3 L349.2 157.3 L347.8 127.3 L346.7 95 L336.7 186.7 L321.7 218.3 L308.3 168.3 L295 198.7 L281.7 185.8 L269.7 116.7Z" stroke="#aeff51"/><path d="M270 322.3 L267.1 352.3 L262.5 382.3 L256.6 412.3 L254.8 442.3 L253.7 472.3 L253.5 502.3 L253.4 531.7 L253.8 534.3 L255 536.8 L257 539.2 L259.7 541.3 L263 543.2 L266.9 544.7 L271.2 545.8 L275.7 546.5 L280.4 546.7 L336.4 546.7 L341.1 546.5 L345.6 545.8 L349.9 544.7 L353.8 543.2 L357.1 541.3 L359.8 539.2 L361.8 536.8 L363 534.3 L363.4 531.7 L363.3 502.3 L363.1 472.3 L362 442.3 L360.2 412.3 L354.3 382.3 L349.7 352.3 L346.8 322.3 L346.7 299.2 L333.3 308.3 L321.7 328.3 L308.3 309.2 L295.8 319.2 L270.8 307.5Z" stroke="#fff300"/><path d="M267.9 383.3 L262.3 413.3 L260.1 443.3 L258.7 473.3 L258.5 503.3 L258.4 531.9 L258.7 534.2 L259.8 536.3 L261.5 538.4 L263.8 540.3 L266.6 541.9 L269.9 543.2 L273.5 544.1 L277.4 544.7 L281.4 544.9 L335.4 544.9 L339.4 544.7 L343.3 544.1 L346.9 543.2 L350.2 541.9 L353 540.3 L355.3 538.4 L357 536.3 L358.1 534.2 L358.4 531.9 L358.3 503.3 L358.1 473.3 L356.7 443.3 L354.5 413.3 L348.8 383.3 L346.7 370 L335 367.5 L321.7 378.3 L308.3 367.5 L295.8 374.2 L281.7 368.3 L269.2 379.2Z" stroke="#ff9700"/><path d="M264.8 401.8 L265.1 399.6 L266.1 397.7 L267.7 396.1 L269.6 395.1 L271.8 394.8 L345 394.8 L347.2 395.1 L349.1 396.1 L350.7 397.7 L351.7 399.6 L352 401.8 L352 536.3 L351.7 538.5 L350.7 540.4 L349.1 542 L347.2 543 L345 543.3 L271.8 543.3 L269.6 543 L267.7 542 L266.1 540.4 L265.1 538.5 L264.8 536.3Z" stroke="#ff3a00"/><path d="M277.1 403.3 L272.6 409.8 L270.4 416.4 L269 422.9 L271.3 429.4 L272.5 435.9 L270.3 442.4 L269.1 449 L271.4 455.5 L272.5 462 L270.1 468.5 L269.2 475.1 L271.6 481.6 L272.4 488.1 L269.9 494.6 L269.2 501.2 L271.7 507.7 L272.3 514.2 L269.8 520.8 L269.3 527.3 L277.9 533.8 L338.9 533.8 L347.5 527.3 L347 520.8 L344.5 514.2 L345.1 507.7 L347.6 501.2 L346.9 494.6 L344.4 488.1 L345.2 481.6 L347.6 475.1 L346.7 468.5 L344.3 462 L345.4 455.5 L347.7 449 L346.5 442.4 L344.3 435.9 L345.5 429.4 L347.8 422.9 L346.4 416.4 L344.2 409.8 L339.7 403.3Z" stroke="#dc0000"/><path d="M280 417.5 L284.6 415.2 L289.2 413.7 L293.8 412.8 L298.4 412.5 L302.9 412.8 L307.5 413.7 L312.1 415.2 L316.7 417.5 L312.1 419.8 L307.5 421.3 L302.9 422.2 L298.4 422.5 L293.8 422.2 L289.2 421.3 L284.6 419.8Z" stroke="#c00000"/><path d="M326.7 417.5 L328.1 415.2 L329.6 413.7 L331 412.8 L332.5 412.5 L333.9 412.8 L335.4 413.7 L336.8 415.2 L338.3 417.5 L336.8 419.8 L335.4 421.3 L333.9 422.2 L332.5 422.5 L331 422.2 L329.6 421.3 L328.1 419.8Z" stroke="#c00000"/><path d="M279.2 442.5 L283.9 440.6 L288.6 439.5 L293.3 438.7 L297.9 438.5 L302.6 438.7 L307.3 439.5 L312 440.6 L316.7 442.5 L312 444.4 L307.3 445.5 L302.6 446.3 L297.9 446.5 L293.3 446.3 L288.6 445.5 L283.9 444.4Z" stroke="#c00000"/><path d="M324.2 442.5 L326.5 439.7 L328.8 438 L331 436.9 L333.3 436.5 L335.6 436.9 L337.8 438 L340.1 439.7 L342.4 442.5 L340.1 445.3 L337.8 447 L335.6 448.1 L333.3 448.5 L331 448.1 L328.8 447 L326.5 445.3Z" stroke="#c00000"/><path d="M275 468.3 L283.1 466.3 L291.2 465 L299.4 464.3 L307.5 464 L315.6 464.3 L323.8 465 L331.9 466.3 L340 468.3 L331.9 470.3 L323.8 471.6 L315.6 472.3 L307.5 472.6 L299.4 472.3 L291.2 471.6 L283.1 470.3Z" stroke="#c00000"/><path d="M277.5 495 L285.7 491.8 L293.9 489.7 L302.2 488.4 L310.4 488 L318.6 488.4 L326.8 489.7 L335.1 491.8 L343.3 495 L335.1 498.2 L326.8 500.3 L318.6 501.6 L310.4 502 L302.2 501.6 L293.9 500.3 L285.7 498.2Z" stroke="#c00000"/><path d="M281.7 520 L284.8 516.1 L287.9 513.6 L291.1 512 L294.2 511.5 L297.3 512 L300.4 513.6 L303.6 516.1 L306.7 520 L303.6 523.9 L300.4 526.4 L297.3 528 L294.2 528.5 L291.1 528 L287.9 526.4 L284.8 523.9Z" stroke="#c00000"/><path d="M316.7 520 L320 516.1 L323.3 513.6 L326.7 512 L330 511.5 L333.3 512 L336.6 513.6 L340 516.1 L343.3 520 L340 523.9 L336.6 526.4 L333.3 528 L330 528.5 L326.7 528 L323.3 526.4 L320 523.9Z" stroke="#c00000"/><path d="M286.4 417.5 L288.9 416.5 L291.4 415.8 L293.9 415.4 L296.4 415.3 L298.9 415.4 L301.4 415.8 L303.9 416.5 L306.4 417.5 L303.9 418.5 L301.4 419.2 L298.9 419.6 L296.4 419.7 L293.9 419.6 L291.4 419.2 L288.9 418.5Z" stroke="#a50000"/><path d="M284.4 495 L288.1 493.3 L291.9 492.3 L295.6 491.6 L299.4 491.4 L303.1 491.6 L306.9 492.3 L310.6 493.3 L314.4 495 L310.6 496.7 L306.9 497.7 L303.1 498.4 L299.4 498.6 L295.6 498.4 L291.9 497.7 L288.1 496.7Z" stroke="#a50000"/><path d="M288.4 520 L289.8 518.1 L291.1 516.8 L292.5 516.1 L293.9 515.8 L295.3 516.1 L296.6 516.8 L298 518.1 L299.4 520 L298 521.9 L296.6 523.2 L295.3 523.9 L293.9 524.2 L292.5 523.9 L291.1 523.2 L289.8 521.9Z" stroke="#a50000"/><path d="M325.4 520 L326.8 518.1 L328.1 516.8 L329.5 516.1 L330.9 515.8 L332.3 516.1 L333.6 516.8 L335 518.1 L336.4 520 L335 521.9 L333.6 523.2 L332.3 523.9 L330.9 524.2 L329.5 523.9 L328.1 523.2 L326.8 521.9Z" stroke="#a50000"/></g></g><rect x="264.2" y="397" width="88.3" height="143" rx="7" ry="7" fill="none" stroke="#c070c8" stroke-width="1.5" opacity=".7"/><path d="M157.4 605.7L157.4 539.7L173.3 539.7L173.3 552.5L199 552.5L199 565.3L237.5 565.3L237.5 578.2L367 578.2L367 565.3L419.5 565.3L419.5 552.5L445.2 552.5L445.2 539.7L470.8 539.7L470.8 526.8L484.6 526.8L484.6 605.7ZM456.5 87h13.2v13.2h-13.2ZM469.4 99.9h13.2v13.2h-13.2ZM456.5 164.6h13.2v13.2h-13.2ZM456.5 177.5h13.2v13.2h-13.2ZM469.4 177.5h13.2v13.2h-13.2ZM469.4 190.4h13.2v13.2h-13.2ZM469.4 203.4h13.2v13.2h-13.2Z" fill="#000"/></g>
<g clip-path="url(#c10)"><g filter="url(#jet)"><rect x="592" y="57.3" width="383.2" height="576.4" fill="#060606"/><polygon points="689.8,62.3 689.7,92.3 689,122.3 688.3,152.3 687.5,182.3 686.8,212.3 686.1,242.3 685.4,272.3 683.8,302.3 681.9,332.3 680.1,362.3 677.4,392.3 674.5,422.3 671.6,452.3 670.1,482.3 669,512.3 668.4,533 669.3,538.9 672.1,544.6 676.7,550 682.9,554.9 690.5,559 699.4,562.4 709.2,564.9 719.6,566.5 730.4,567 811.6,567 822.4,566.5 832.8,564.9 842.6,562.4 851.5,559 859.1,554.9 865.3,550 869.9,544.6 872.7,538.9 873.6,533 873,512.3 871.9,482.3 870.4,452.3 867.5,422.3 864.6,392.3 861.9,362.3 860.1,332.3 858.2,302.3 856.6,272.3 855.9,242.3 855.2,212.3 854.5,182.3 853.7,152.3 853,122.3 852.3,92.3 852.2,62.3" fill="#0f0f0f"/><polygon points="696.8,62.3 696.8,92.3 696.6,122.3 696.4,152.3 696.2,182.3 696,212.3 695.8,242.3 695.6,272.3 694.6,302.3 693.2,332.3 691.9,362.3 689.8,392.3 687.4,422.3 685,452.3 683.7,482.3 682.8,512.3 682.4,535 683.2,539.7 685.4,544.2 689.1,548.5 694.1,552.4 700.3,555.7 707.4,558.4 715.3,560.4 723.7,561.6 732.4,562 809.6,562 818.3,561.6 826.7,560.4 834.6,558.4 841.7,555.7 847.9,552.4 852.9,548.5 856.6,544.2 858.8,539.7 859.6,535 859.2,512.3 858.3,482.3 857,452.3 854.6,422.3 852.2,392.3 850.1,362.3 848.8,332.3 847.4,302.3 846.4,272.3 846.2,242.3 846,212.3 845.8,182.3 845.6,152.3 845.4,122.3 845.2,92.3 845.2,62.3" fill="#232323"/><polygon points="704.1,62.3 704.1,92.3 703.8,122.3 703.6,152.3 703.4,182.3 703.1,212.3 702.9,242.3 702.7,272.3 701.7,302.3 700.5,332.3 699.3,362.3 697.5,392.3 695.5,422.3 693.5,452.3 692.7,482.3 692.2,512.3 692,534.8 692.7,539 694.7,543 697.9,546.8 702.3,550.2 707.7,553.2 714,555.6 721,557.4 728.4,558.4 736,558.8 806,558.8 813.6,558.4 821,557.4 828,555.6 834.3,553.2 839.7,550.2 844.1,546.8 847.3,543 849.3,539 850,534.8 849.8,512.3 849.3,482.3 848.5,452.3 846.5,422.3 844.5,392.3 842.7,362.3 841.5,332.3 840.3,302.3 839.3,272.3 839.1,242.3 838.9,212.3 838.6,182.3 838.4,152.3 838.2,122.3 837.9,92.3 837.9,62.3" fill="#3a3a3a"/><polygon points="710.6,62.3 710.5,92.3 710.2,122.3 709.9,152.3 709.6,182.3 709.2,212.3 708.9,242.3 708.6,272.3 707.5,302.3 706.2,332.3 704.9,362.3 703.1,392.3 701.1,422.3 699,452.3 698.2,482.3 697.9,512.3 697.7,533.8 698.3,537.6 700.1,541.3 703.1,544.8 707.1,547.9 712,550.7 717.7,552.9 724,554.5 730.8,555.5 737.7,555.8 804.3,555.8 811.2,555.5 818,554.5 824.3,552.9 830,550.7 834.9,547.9 838.9,544.8 841.9,541.3 843.7,537.6 844.3,533.8 844.1,512.3 843.8,482.3 843,452.3 840.9,422.3 838.9,392.3 837.1,362.3 835.8,332.3 834.5,302.3 833.4,272.3 833.1,242.3 832.8,212.3 832.4,182.3 832.1,152.3 831.8,122.3 831.5,92.3 831.4,62.3" fill="#515151"/><polygon points="716.4,62.3 716.3,92.3 716,122.3 715.7,152.3 715.4,182.3 715,212.3 714.7,242.3 714.4,272.3 713.3,302.3 712,332.3 710.7,362.3 708.9,392.3 706.9,422.3 704.8,452.3 704.1,482.3 703.8,512.3 703.7,533.3 704.2,536.8 705.9,540.1 708.5,543.3 712.1,546.2 716.6,548.6 721.7,550.6 727.4,552.1 733.4,553 739.7,553.3 802.3,553.3 808.6,553 814.6,552.1 820.3,550.6 825.4,548.6 829.9,546.2 833.5,543.3 836.1,540.1 837.8,536.8 838.3,533.3 838.2,512.3 837.9,482.3 837.2,452.3 835.1,422.3 833.1,392.3 831.3,362.3 830,332.3 828.7,302.3 827.6,272.3 827.3,242.3 827,212.3 826.6,182.3 826.3,152.3 826,122.3 825.7,92.3 825.6,62.3" fill="#686868"/><polygon points="722.2,62.3 722.1,92.3 721.7,122.3 721.4,152.3 721,182.3 720.6,212.3 720.2,242.3 719.8,272.3 718.6,302.3 717.2,332.3 715.8,362.3 713.8,392.3 711.6,422.3 709.5,452.3 708.7,482.3 708.5,512.3 708.4,532.4 708.9,535.6 710.4,538.7 712.8,541.6 716.1,544.3 720.2,546.6 724.9,548.4 730.1,549.8 735.7,550.6 741.4,550.9 800.6,550.9 806.3,550.6 811.9,549.8 817.1,548.4 821.8,546.6 825.9,544.3 829.2,541.6 831.6,538.7 833.1,535.6 833.6,532.4 833.5,512.3 833.3,482.3 832.5,452.3 830.4,422.3 828.2,392.3 826.2,362.3 824.8,332.3 823.4,302.3 822.2,272.3 821.8,242.3 821.4,212.3 821,182.3 820.6,152.3 820.3,122.3 819.9,92.3 819.8,62.3" fill="#8b8b8b"/><polygon points="731.6,127.3 730.2,157.3 728.9,187.3 727.6,217.3 726.3,247.3 724.9,277.3 723.2,307.3 721.4,337.3 719.7,367.3 717.6,397.3 715.4,427.3 713.3,457.3 712.9,487.3 712.8,517.3 712.7,531.7 713.2,534.7 714.5,537.5 716.7,540.2 719.7,542.6 723.4,544.7 727.7,546.4 732.4,547.7 737.5,548.4 742.7,548.7 799.3,548.7 804.5,548.4 809.6,547.7 814.3,546.4 818.6,544.7 822.3,542.6 825.3,540.2 827.5,537.5 828.8,534.7 829.3,531.7 829.2,517.3 829.1,487.3 828.7,457.3 826.6,427.3 824.4,397.3 822.3,367.3 820.6,337.3 818.8,307.3 817.1,277.3 815.7,247.3 814.4,217.3 813.1,187.3 811.8,157.3 810.4,127.3 809.3,95 799.3,186.7 784.3,218.3 770.9,168.3 757.6,198.7 744.3,185.8 732.3,116.7" fill="#a2a2a2"/><polygon points="732.6,322.3 729.7,352.3 725.1,382.3 719.2,412.3 717.4,442.3 716.3,472.3 716.1,502.3 716,531.7 716.4,534.3 717.6,536.8 719.6,539.2 722.3,541.3 725.6,543.2 729.5,544.7 733.8,545.8 738.3,546.5 743,546.7 799,546.7 803.7,546.5 808.2,545.8 812.5,544.7 816.4,543.2 819.7,541.3 822.4,539.2 824.4,536.8 825.6,534.3 826,531.7 825.9,502.3 825.7,472.3 824.6,442.3 822.8,412.3 816.9,382.3 812.3,352.3 809.4,322.3 809.3,299.2 795.9,308.3 784.3,328.3 770.9,309.2 758.4,319.2 733.4,307.5" fill="#b9b9b9"/><polygon points="730.5,383.3 724.9,413.3 722.7,443.3 721.3,473.3 721.1,503.3 721,531.9 721.3,534.2 722.4,536.3 724.1,538.4 726.4,540.3 729.2,541.9 732.5,543.2 736.1,544.1 740,544.7 744,544.9 798,544.9 802,544.7 805.9,544.1 809.5,543.2 812.8,541.9 815.6,540.3 817.9,538.4 819.6,536.3 820.7,534.2 821,531.9 820.9,503.3 820.7,473.3 819.3,443.3 817.1,413.3 811.5,383.3 809.3,370 797.6,367.5 784.3,378.3 770.9,367.5 758.4,374.2 744.3,368.3 731.8,379.2" fill="#d1d1d1"/><polygon points="727.4,401.8 727.7,399.6 728.7,397.7 730.3,396.1 732.2,395.1 734.4,394.8 807.6,394.8 809.8,395.1 811.7,396.1 813.3,397.7 814.3,399.6 814.6,401.8 814.6,536.3 814.3,538.5 813.3,540.4 811.7,542 809.8,543 807.6,543.3 734.4,543.3 732.2,543 730.3,542 728.7,540.4 727.7,538.5 727.4,536.3" fill="#e8e8e8"/><polygon points="739.7,403.3 735.2,409.8 733,416.4 731.6,422.9 733.9,429.4 735.1,435.9 732.9,442.4 731.7,449 734,455.5 735.1,462 732.7,468.5 731.8,475.1 734.2,481.6 735,488.1 732.5,494.6 731.8,501.2 734.3,507.7 734.9,514.2 732.4,520.8 731.9,527.3 740.5,533.8 801.5,533.8 810.1,527.3 809.6,520.8 807.1,514.2 807.7,507.7 810.2,501.2 809.5,494.6 807,488.1 807.8,481.6 810.2,475.1 809.3,468.5 806.9,462 808,455.5 810.3,449 809.1,442.4 806.9,435.9 808.1,429.4 810.4,422.9 809,416.4 806.8,409.8 802.3,403.3" fill="#ffffff"/><rect x="592" y="57.3" width="383.2" height="576.4" fill="url(#core10)" style="mix-blend-mode:darken"/><polygon points="742.6,417.5 747.2,415.2 751.8,413.7 756.4,412.8 761,412.5 765.5,412.8 770.1,413.7 774.7,415.2 779.3,417.5 774.7,419.8 770.1,421.3 765.5,422.2 761,422.5 756.4,422.2 751.8,421.3 747.2,419.8" fill="#efefef"/><polygon points="789.3,417.5 790.8,415.2 792.2,413.7 793.6,412.8 795.1,412.5 796.5,412.8 798,413.7 799.4,415.2 800.9,417.5 799.4,419.8 798,421.3 796.5,422.2 795.1,422.5 793.6,422.2 792.2,421.3 790.8,419.8" fill="#efefef"/><polygon points="741.8,442.5 746.5,440.6 751.2,439.5 755.9,438.7 760.5,438.5 765.2,438.7 769.9,439.5 774.6,440.6 779.3,442.5 774.6,444.4 769.9,445.5 765.2,446.3 760.5,446.5 755.9,446.3 751.2,445.5 746.5,444.4" fill="#efefef"/><polygon points="786.8,442.5 789.1,439.7 791.3,438 793.6,436.9 795.9,436.5 798.2,436.9 800.5,438 802.7,439.7 805,442.5 802.7,445.3 800.5,447 798.2,448.1 795.9,448.5 793.6,448.1 791.3,447 789.1,445.3" fill="#efefef"/><polygon points="737.6,468.3 745.7,466.3 753.9,465 762,464.3 770.1,464 778.2,464.3 786.4,465 794.5,466.3 802.6,468.3 794.5,470.3 786.4,471.6 778.2,472.3 770.1,472.6 762,472.3 753.9,471.6 745.7,470.3" fill="#efefef"/><polygon points="740.1,495 748.3,491.8 756.5,489.7 764.8,488.4 773,488 781.2,488.4 789.5,489.7 797.7,491.8 805.9,495 797.7,498.2 789.5,500.3 781.2,501.6 773,502 764.8,501.6 756.5,500.3 748.3,498.2" fill="#efefef"/><polygon points="744.3,520 747.4,516.1 750.5,513.6 753.7,512 756.8,511.5 759.9,512 763,513.6 766.2,516.1 769.3,520 766.2,523.9 763,526.4 759.9,528 756.8,528.5 753.7,528 750.5,526.4 747.4,523.9" fill="#efefef"/><polygon points="779.3,520 782.6,516.1 785.9,513.6 789.3,512 792.6,511.5 795.9,512 799.2,513.6 802.6,516.1 805.9,520 802.6,523.9 799.2,526.4 795.9,528 792.6,528.5 789.3,528 785.9,526.4 782.6,523.9" fill="#efefef"/><rect x="722" y="87.3" width="13" height="300" fill="#fff" opacity="0.050"/><rect x="735" y="87.3" width="13" height="300" fill="#fff" opacity="0.025"/><rect x="800" y="87.3" width="13" height="300" fill="#fff" opacity="0.030"/><rect x="761" y="87.3" width="13" height="200" fill="#000" opacity="0.020"/><rect x="774" y="87.3" width="13" height="230" fill="#000" opacity="0.030"/></g><g clip-path="url(#l10)"><g fill="none" stroke-width="2.45" stroke-linejoin="round" stroke-linecap="round" opacity=".97" filter="url(#soft)"><path d="M696.8 62.3 L696.8 92.3 L696.6 122.3 L696.4 152.3 L696.2 182.3 L696 212.3 L695.8 242.3 L695.6 272.3 L694.6 302.3 L693.2 332.3 L691.9 362.3 L689.8 392.3 L687.4 422.3 L685 452.3 L683.7 482.3 L682.8 512.3 L682.4 535 L683.2 539.7 L685.4 544.2 L689.1 548.5 L694.1 552.4 L700.3 555.7 L707.4 558.4 L715.3 560.4 L723.7 561.6 L732.4 562 L809.6 562 L818.3 561.6 L826.7 560.4 L834.6 558.4 L841.7 555.7 L847.9 552.4 L852.9 548.5 L856.6 544.2 L858.8 539.7 L859.6 535 L859.2 512.3 L858.3 482.3 L857 452.3 L854.6 422.3 L852.2 392.3 L850.1 362.3 L848.8 332.3 L847.4 302.3 L846.4 272.3 L846.2 242.3 L846 212.3 L845.8 182.3 L845.6 152.3 L845.4 122.3 L845.2 92.3 L845.2 62.3Z" stroke="#0000dc"/><path d="M704.1 62.3 L704.1 92.3 L703.8 122.3 L703.6 152.3 L703.4 182.3 L703.1 212.3 L702.9 242.3 L702.7 272.3 L701.7 302.3 L700.5 332.3 L699.3 362.3 L697.5 392.3 L695.5 422.3 L693.5 452.3 L692.7 482.3 L692.2 512.3 L692 534.8 L692.7 539 L694.7 543 L697.9 546.8 L702.3 550.2 L707.7 553.2 L714 555.6 L721 557.4 L728.4 558.4 L736 558.8 L806 558.8 L813.6 558.4 L821 557.4 L828 555.6 L834.3 553.2 L839.7 550.2 L844.1 546.8 L847.3 543 L849.3 539 L850 534.8 L849.8 512.3 L849.3 482.3 L848.5 452.3 L846.5 422.3 L844.5 392.3 L842.7 362.3 L841.5 332.3 L840.3 302.3 L839.3 272.3 L839.1 242.3 L838.9 212.3 L838.6 182.3 L838.4 152.3 L838.2 122.3 L837.9 92.3 L837.9 62.3Z" stroke="#003aff"/><path d="M710.6 62.3 L710.5 92.3 L710.2 122.3 L709.9 152.3 L709.6 182.3 L709.2 212.3 L708.9 242.3 L708.6 272.3 L707.5 302.3 L706.2 332.3 L704.9 362.3 L703.1 392.3 L701.1 422.3 L699 452.3 L698.2 482.3 L697.9 512.3 L697.7 533.8 L698.3 537.6 L700.1 541.3 L703.1 544.8 L707.1 547.9 L712 550.7 L717.7 552.9 L724 554.5 L730.8 555.5 L737.7 555.8 L804.3 555.8 L811.2 555.5 L818 554.5 L824.3 552.9 L830 550.7 L834.9 547.9 L838.9 544.8 L841.9 541.3 L843.7 537.6 L844.3 533.8 L844.1 512.3 L843.8 482.3 L843 452.3 L840.9 422.3 L838.9 392.3 L837.1 362.3 L835.8 332.3 L834.5 302.3 L833.4 272.3 L833.1 242.3 L832.8 212.3 L832.4 182.3 L832.1 152.3 L831.8 122.3 L831.5 92.3 L831.4 62.3Z" stroke="#0097ff"/><path d="M716.4 62.3 L716.3 92.3 L716 122.3 L715.7 152.3 L715.4 182.3 L715 212.3 L714.7 242.3 L714.4 272.3 L713.3 302.3 L712 332.3 L710.7 362.3 L708.9 392.3 L706.9 422.3 L704.8 452.3 L704.1 482.3 L703.8 512.3 L703.7 533.3 L704.2 536.8 L705.9 540.1 L708.5 543.3 L712.1 546.2 L716.6 548.6 L721.7 550.6 L727.4 552.1 L733.4 553 L739.7 553.3 L802.3 553.3 L808.6 553 L814.6 552.1 L820.3 550.6 L825.4 548.6 L829.9 546.2 L833.5 543.3 L836.1 540.1 L837.8 536.8 L838.3 533.3 L838.2 512.3 L837.9 482.3 L837.2 452.3 L835.1 422.3 L833.1 392.3 L831.3 362.3 L830 332.3 L828.7 302.3 L827.6 272.3 L827.3 242.3 L827 212.3 L826.6 182.3 L826.3 152.3 L826 122.3 L825.7 92.3 L825.6 62.3Z" stroke="#00f3ff"/><path d="M722.2 62.3 L722.1 92.3 L721.7 122.3 L721.4 152.3 L721 182.3 L720.6 212.3 L720.2 242.3 L719.8 272.3 L718.6 302.3 L717.2 332.3 L715.8 362.3 L713.8 392.3 L711.6 422.3 L709.5 452.3 L708.7 482.3 L708.5 512.3 L708.4 532.4 L708.9 535.6 L710.4 538.7 L712.8 541.6 L716.1 544.3 L720.2 546.6 L724.9 548.4 L730.1 549.8 L735.7 550.6 L741.4 550.9 L800.6 550.9 L806.3 550.6 L811.9 549.8 L817.1 548.4 L821.8 546.6 L825.9 544.3 L829.2 541.6 L831.6 538.7 L833.1 535.6 L833.6 532.4 L833.5 512.3 L833.3 482.3 L832.5 452.3 L830.4 422.3 L828.2 392.3 L826.2 362.3 L824.8 332.3 L823.4 302.3 L822.2 272.3 L821.8 242.3 L821.4 212.3 L821 182.3 L820.6 152.3 L820.3 122.3 L819.9 92.3 L819.8 62.3Z" stroke="#51ffae"/><path d="M731.6 127.3 L730.2 157.3 L728.9 187.3 L727.6 217.3 L726.3 247.3 L724.9 277.3 L723.2 307.3 L721.4 337.3 L719.7 367.3 L717.6 397.3 L715.4 427.3 L713.3 457.3 L712.9 487.3 L712.8 517.3 L712.7 531.7 L713.2 534.7 L714.5 537.5 L716.7 540.2 L719.7 542.6 L723.4 544.7 L727.7 546.4 L732.4 547.7 L737.5 548.4 L742.7 548.7 L799.3 548.7 L804.5 548.4 L809.6 547.7 L814.3 546.4 L818.6 544.7 L822.3 542.6 L825.3 540.2 L827.5 537.5 L828.8 534.7 L829.3 531.7 L829.2 517.3 L829.1 487.3 L828.7 457.3 L826.6 427.3 L824.4 397.3 L822.3 367.3 L820.6 337.3 L818.8 307.3 L817.1 277.3 L815.7 247.3 L814.4 217.3 L813.1 187.3 L811.8 157.3 L810.4 127.3 L809.3 95 L799.3 186.7 L784.3 218.3 L770.9 168.3 L757.6 198.7 L744.3 185.8 L732.3 116.7Z" stroke="#aeff51"/><path d="M732.6 322.3 L729.7 352.3 L725.1 382.3 L719.2 412.3 L717.4 442.3 L716.3 472.3 L716.1 502.3 L716 531.7 L716.4 534.3 L717.6 536.8 L719.6 539.2 L722.3 541.3 L725.6 543.2 L729.5 544.7 L733.8 545.8 L738.3 546.5 L743 546.7 L799 546.7 L803.7 546.5 L808.2 545.8 L812.5 544.7 L816.4 543.2 L819.7 541.3 L822.4 539.2 L824.4 536.8 L825.6 534.3 L826 531.7 L825.9 502.3 L825.7 472.3 L824.6 442.3 L822.8 412.3 L816.9 382.3 L812.3 352.3 L809.4 322.3 L809.3 299.2 L795.9 308.3 L784.3 328.3 L770.9 309.2 L758.4 319.2 L733.4 307.5Z" stroke="#fff300"/><path d="M730.5 383.3 L724.9 413.3 L722.7 443.3 L721.3 473.3 L721.1 503.3 L721 531.9 L721.3 534.2 L722.4 536.3 L724.1 538.4 L726.4 540.3 L729.2 541.9 L732.5 543.2 L736.1 544.1 L740 544.7 L744 544.9 L798 544.9 L802 544.7 L805.9 544.1 L809.5 543.2 L812.8 541.9 L815.6 540.3 L817.9 538.4 L819.6 536.3 L820.7 534.2 L821 531.9 L820.9 503.3 L820.7 473.3 L819.3 443.3 L817.1 413.3 L811.5 383.3 L809.3 370 L797.6 367.5 L784.3 378.3 L770.9 367.5 L758.4 374.2 L744.3 368.3 L731.8 379.2Z" stroke="#ff9700"/><path d="M727.4 401.8 L727.7 399.6 L728.7 397.7 L730.3 396.1 L732.2 395.1 L734.4 394.8 L807.6 394.8 L809.8 395.1 L811.7 396.1 L813.3 397.7 L814.3 399.6 L814.6 401.8 L814.6 536.3 L814.3 538.5 L813.3 540.4 L811.7 542 L809.8 543 L807.6 543.3 L734.4 543.3 L732.2 543 L730.3 542 L728.7 540.4 L727.7 538.5 L727.4 536.3Z" stroke="#ff3a00"/><path d="M739.7 403.3 L735.2 409.8 L733 416.4 L731.6 422.9 L733.9 429.4 L735.1 435.9 L732.9 442.4 L731.7 449 L734 455.5 L735.1 462 L732.7 468.5 L731.8 475.1 L734.2 481.6 L735 488.1 L732.5 494.6 L731.8 501.2 L734.3 507.7 L734.9 514.2 L732.4 520.8 L731.9 527.3 L740.5 533.8 L801.5 533.8 L810.1 527.3 L809.6 520.8 L807.1 514.2 L807.7 507.7 L810.2 501.2 L809.5 494.6 L807 488.1 L807.8 481.6 L810.2 475.1 L809.3 468.5 L806.9 462 L808 455.5 L810.3 449 L809.1 442.4 L806.9 435.9 L808.1 429.4 L810.4 422.9 L809 416.4 L806.8 409.8 L802.3 403.3Z" stroke="#dc0000"/><path d="M742.6 417.5 L747.2 415.2 L751.8 413.7 L756.4 412.8 L761 412.5 L765.5 412.8 L770.1 413.7 L774.7 415.2 L779.3 417.5 L774.7 419.8 L770.1 421.3 L765.5 422.2 L761 422.5 L756.4 422.2 L751.8 421.3 L747.2 419.8Z" stroke="#c00000"/><path d="M789.3 417.5 L790.8 415.2 L792.2 413.7 L793.6 412.8 L795.1 412.5 L796.5 412.8 L798 413.7 L799.4 415.2 L800.9 417.5 L799.4 419.8 L798 421.3 L796.5 422.2 L795.1 422.5 L793.6 422.2 L792.2 421.3 L790.8 419.8Z" stroke="#c00000"/><path d="M741.8 442.5 L746.5 440.6 L751.2 439.5 L755.9 438.7 L760.5 438.5 L765.2 438.7 L769.9 439.5 L774.6 440.6 L779.3 442.5 L774.6 444.4 L769.9 445.5 L765.2 446.3 L760.5 446.5 L755.9 446.3 L751.2 445.5 L746.5 444.4Z" stroke="#c00000"/><path d="M786.8 442.5 L789.1 439.7 L791.3 438 L793.6 436.9 L795.9 436.5 L798.2 436.9 L800.5 438 L802.7 439.7 L805 442.5 L802.7 445.3 L800.5 447 L798.2 448.1 L795.9 448.5 L793.6 448.1 L791.3 447 L789.1 445.3Z" stroke="#c00000"/><path d="M737.6 468.3 L745.7 466.3 L753.9 465 L762 464.3 L770.1 464 L778.2 464.3 L786.4 465 L794.5 466.3 L802.6 468.3 L794.5 470.3 L786.4 471.6 L778.2 472.3 L770.1 472.6 L762 472.3 L753.9 471.6 L745.7 470.3Z" stroke="#c00000"/><path d="M740.1 495 L748.3 491.8 L756.5 489.7 L764.8 488.4 L773 488 L781.2 488.4 L789.5 489.7 L797.7 491.8 L805.9 495 L797.7 498.2 L789.5 500.3 L781.2 501.6 L773 502 L764.8 501.6 L756.5 500.3 L748.3 498.2Z" stroke="#c00000"/><path d="M744.3 520 L747.4 516.1 L750.5 513.6 L753.7 512 L756.8 511.5 L759.9 512 L763 513.6 L766.2 516.1 L769.3 520 L766.2 523.9 L763 526.4 L759.9 528 L756.8 528.5 L753.7 528 L750.5 526.4 L747.4 523.9Z" stroke="#c00000"/><path d="M779.3 520 L782.6 516.1 L785.9 513.6 L789.3 512 L792.6 511.5 L795.9 512 L799.2 513.6 L802.6 516.1 L805.9 520 L802.6 523.9 L799.2 526.4 L795.9 528 L792.6 528.5 L789.3 528 L785.9 526.4 L782.6 523.9Z" stroke="#c00000"/><path d="M749 417.5 L751.5 416.5 L754 415.8 L756.5 415.4 L759 415.3 L761.5 415.4 L764 415.8 L766.5 416.5 L769 417.5 L766.5 418.5 L764 419.2 L761.5 419.6 L759 419.7 L756.5 419.6 L754 419.2 L751.5 418.5Z" stroke="#a50000"/><path d="M747 495 L750.8 493.3 L754.5 492.3 L758.2 491.6 L762 491.4 L765.8 491.6 L769.5 492.3 L773.2 493.3 L777 495 L773.2 496.7 L769.5 497.7 L765.8 498.4 L762 498.6 L758.2 498.4 L754.5 497.7 L750.8 496.7Z" stroke="#a50000"/><path d="M751 520 L752.4 518.1 L753.8 516.8 L755.1 516.1 L756.5 515.8 L757.9 516.1 L759.2 516.8 L760.6 518.1 L762 520 L760.6 521.9 L759.2 523.2 L757.9 523.9 L756.5 524.2 L755.1 523.9 L753.8 523.2 L752.4 521.9Z" stroke="#a50000"/><path d="M788 520 L789.4 518.1 L790.8 516.8 L792.1 516.1 L793.5 515.8 L794.9 516.1 L796.2 516.8 L797.6 518.1 L799 520 L797.6 521.9 L796.2 523.2 L794.9 523.9 L793.5 524.2 L792.1 523.9 L790.8 523.2 L789.4 521.9Z" stroke="#a50000"/></g></g><rect x="726.8" y="397" width="88.3" height="143" rx="7" ry="7" fill="none" stroke="#c070c8" stroke-width="1.5" opacity=".7"/><path d="M620 605.7L620 539.7L635.9 539.7L635.9 552.5L661.6 552.5L661.6 565.3L700.1 565.3L700.1 578.2L829.6 578.2L829.6 565.3L882.1 565.3L882.1 552.5L907.8 552.5L907.8 539.7L933.4 539.7L933.4 526.8L947.2 526.8L947.2 605.7ZM919.1 87h13.2v13.2h-13.2ZM932 99.9h13.2v13.2h-13.2ZM919.1 164.6h13.2v13.2h-13.2ZM919.1 177.5h13.2v13.2h-13.2ZM932 177.5h13.2v13.2h-13.2ZM932 190.4h13.2v13.2h-13.2ZM932 203.4h13.2v13.2h-13.2Z" fill="#000"/></g>
<g clip-path="url(#c01)"><g filter="url(#jet)"><rect x="129.4" y="615.7" width="383.2" height="576.4" fill="#060606"/><polygon points="222.9,620.7 222.7,650.7 221.2,680.7 219.7,710.7 218.3,740.7 216.8,770.7 215.3,800.7 213.9,830.7 212,860.7 209.7,890.7 207.5,920.7 204.9,950.7 202.2,980.7 199.5,1010.7 198.3,1040.7 197.8,1070.7 197.6,1087.5 198.6,1094.4 201.7,1101.2 206.7,1107.5 213.5,1113.2 221.9,1118.1 231.6,1122.1 242.3,1125.1 253.8,1126.9 265.6,1127.5 350.4,1127.5 362.2,1126.9 373.7,1125.1 384.4,1122.1 394.1,1118.1 402.5,1113.2 409.3,1107.5 414.3,1101.2 417.4,1094.4 418.4,1087.5 418.2,1070.7 417.7,1040.7 416.5,1010.7 413.8,980.7 411.1,950.7 408.5,920.7 406.3,890.7 404,860.7 402.1,830.7 400.7,800.7 399.2,770.7 397.7,740.7 396.3,710.7 394.8,680.7 393.3,650.7 393.1,620.7" fill="#0f0f0f"/><polygon points="230.9,620.7 230.8,650.7 229.9,680.7 229,710.7 228.2,740.7 227.3,770.7 226.4,800.7 225.6,830.7 224.3,860.7 222.6,890.7 221,920.7 219,950.7 216.9,980.7 214.8,1010.7 214,1040.7 213.7,1070.7 213.6,1088.5 214.4,1094.4 216.9,1100.1 221,1105.5 226.5,1110.4 233.2,1114.5 241.1,1117.9 249.8,1120.4 259,1122 268.6,1122.5 347.4,1122.5 357,1122 366.2,1120.4 374.9,1117.9 382.8,1114.5 389.5,1110.4 395,1105.5 399.1,1100.1 401.6,1094.4 402.4,1088.5 402.3,1070.7 402,1040.7 401.2,1010.7 399.1,980.7 397,950.7 395,920.7 393.4,890.7 391.7,860.7 390.4,830.7 389.6,800.7 388.7,770.7 387.8,740.7 387,710.7 386.1,680.7 385.2,650.7 385.1,620.7" fill="#232323"/><polygon points="239.7,620.7 239.7,650.7 239.4,680.7 239.1,710.7 238.8,740.7 238.5,770.7 238.2,800.7 237.7,830.7 236.4,860.7 234.9,890.7 233.4,920.7 231.5,950.7 229.4,980.7 227.3,1010.7 226.1,1040.7 225.3,1070.7 225,1089.5 225.7,1094.7 227.9,1099.8 231.4,1104.5 236.2,1108.8 242.1,1112.5 249,1115.5 256.6,1117.7 264.7,1119 273,1119.5 343,1119.5 351.3,1119 359.4,1117.7 367,1115.5 373.9,1112.5 379.8,1108.8 384.6,1104.5 388.1,1099.8 390.3,1094.7 391,1089.5 390.7,1070.7 389.9,1040.7 388.7,1010.7 386.6,980.7 384.5,950.7 382.6,920.7 381.1,890.7 379.6,860.7 378.3,830.7 377.8,800.7 377.5,770.7 377.2,740.7 376.9,710.7 376.6,680.7 376.3,650.7 376.3,620.7" fill="#3a3a3a"/><polygon points="248,620.7 247.9,650.7 247.2,680.7 246.5,710.7 245.8,740.7 245.1,770.7 244.4,800.7 243.8,830.7 242.6,860.7 241.2,890.7 239.8,920.7 238.2,950.7 236.5,980.7 234.7,1010.7 233.8,1040.7 233.2,1070.7 233,1090 233.7,1094.7 235.6,1099.2 238.8,1103.5 243.1,1107.4 248.4,1110.7 254.5,1113.4 261.3,1115.4 268.5,1116.6 276,1117 340,1117 347.5,1116.6 354.7,1115.4 361.5,1113.4 367.6,1110.7 372.9,1107.4 377.2,1103.5 380.4,1099.2 382.3,1094.7 383,1090 382.8,1070.7 382.2,1040.7 381.3,1010.7 379.5,980.7 377.8,950.7 376.2,920.7 374.8,890.7 373.4,860.7 372.2,830.7 371.6,800.7 370.9,770.7 370.2,740.7 369.5,710.7 368.8,680.7 368.1,650.7 368,620.7" fill="#515151"/><polygon points="255.9,620.7 255.8,650.7 255,680.7 254.3,710.7 253.5,740.7 252.7,770.7 252,800.7 251.2,830.7 249.9,860.7 248.4,890.7 246.9,920.7 245.3,950.7 243.6,980.7 241.8,1010.7 240.9,1040.7 240.4,1070.7 240.2,1089.5 240.8,1093.8 242.6,1098.1 245.4,1102 249.3,1105.6 254.1,1108.7 259.7,1111.2 265.9,1113 272.4,1114.1 279.2,1114.5 336.8,1114.5 343.6,1114.1 350.1,1113 356.3,1111.2 361.9,1108.7 366.7,1105.6 370.6,1102 373.4,1098.1 375.2,1093.8 375.8,1089.5 375.6,1070.7 375.1,1040.7 374.2,1010.7 372.4,980.7 370.7,950.7 369.1,920.7 367.6,890.7 366.1,860.7 364.8,830.7 364,800.7 363.3,770.7 362.5,740.7 361.7,710.7 361,680.7 360.2,650.7 360.1,620.7" fill="#686868"/><polygon points="267.6,620.7 267.4,650.7 266,680.7 264.6,710.7 263.2,740.7 261.8,770.7 260.3,800.7 259.2,830.7 257.8,860.7 256.2,890.7 254.5,920.7 252.6,950.7 250.6,980.7 248.6,1010.7 247.7,1040.7 247.2,1070.7 247,1089 247.5,1093 249.2,1096.9 251.8,1100.5 255.4,1103.8 259.9,1106.6 265,1108.9 270.7,1110.6 276.7,1111.7 283,1112 333,1112 339.3,1111.7 345.3,1110.6 351,1108.9 356.1,1106.6 360.6,1103.8 364.2,1100.5 366.8,1096.9 368.5,1093 369,1089 368.9,1070.7 368.4,1040.7 367.4,1010.7 365.4,980.7 363.4,950.7 361.5,920.7 359.8,890.7 358.2,860.7 356.8,830.7 355.7,800.7 354.2,770.7 352.8,740.7 351.4,710.7 350,680.7 348.6,650.7 348.4,620.7" fill="#8b8b8b"/><polygon points="268.4,839.7 267.4,869.7 266.5,899.7 262.6,929.7 258.8,959.7 255.9,989.7 253,1019.7 252.5,1049.7 252,1079.7 252,1088.5 252.5,1092.1 254,1095.7 256.4,1099 259.7,1102 263.8,1104.6 268.5,1106.7 273.7,1108.2 279.3,1109.2 285,1109.5 331,1109.5 336.7,1109.2 342.3,1108.2 347.5,1106.7 352.2,1104.6 356.3,1102 359.6,1099 362,1095.7 363.5,1092.1 364,1088.5 364,1079.7 363.5,1049.7 363,1019.7 360.1,989.7 357.2,959.7 353.4,929.7 349.5,899.7 348.6,869.7 347.6,839.7 345,820 334.2,772.5 321.7,781.7 308.3,779.2 295,764.2 288,768.5 281.7,774.2 272.5,820" fill="#a2a2a2"/><polygon points="258.4,1020 257.9,1050 257.4,1080 257.4,1088 257.9,1091.3 259.2,1094.5 261.4,1097.5 264.4,1100.2 268.1,1102.6 272.4,1104.5 277.1,1105.9 282.2,1106.7 287.4,1107 328.6,1107 333.8,1106.7 338.9,1105.9 343.6,1104.5 347.9,1102.6 351.6,1100.2 354.6,1097.5 356.8,1094.5 358.1,1091.3 358.6,1088 358.6,1080 358.1,1050 357.6,1020 359,990 356.7,961.7 350,928.3 341.7,900 333.3,885.8 321.7,887.5 308.3,882.5 295,878.3 281.7,884.2 273.3,906.7 265,936.7 262,960 260.6,985" fill="#b9b9b9"/><polygon points="263.8,1020 263.2,1050 262.7,1080 262.7,1087 263.1,1090 264.3,1092.8 266.3,1095.5 269,1097.9 272.3,1100 276.2,1101.7 280.5,1103 285,1103.7 289.7,1104 326.3,1104 331,1103.7 335.5,1103 339.8,1101.7 343.7,1100 347,1097.9 349.7,1095.5 351.7,1092.8 352.9,1090 353.3,1087 353.3,1080 352.8,1050 352.2,1020 353.8,990 351,966 345,951.7 338.3,940 333.3,934.2 321.7,936.7 308.3,931.7 295,930.8 283.3,935 278.3,940 273.3,951.7 266.7,965 264.2,980 264.5,1000" fill="#d1d1d1"/><polygon points="278,959 273.3,967 273.2,973.5 270.5,980 269.4,986.5 271.7,993 272.8,999.5 270.5,1006 269.4,1012.5 271.7,1019 272.8,1025.5 270.5,1032 269.4,1038.5 271.7,1045 272.8,1051.5 270.5,1058 269.4,1064.5 271.7,1071 272.8,1077.5 270.5,1084 271.1,1086.5 271.8,1090.1 274,1093.5 277.5,1096.4 282.1,1098.6 287.4,1100 293.1,1100.5 322.9,1100.5 328.6,1100 333.9,1098.6 338.5,1096.4 342,1093.5 344.2,1090.1 344.9,1086.5 345.5,1084 343.2,1077.5 344.3,1071 346.6,1064.5 345.5,1058 343.2,1051.5 344.3,1045 346.6,1038.5 345.5,1032 343.2,1025.5 344.3,1019 346.6,1012.5 345.5,1006 343.2,999.5 344.3,993 346.6,986.5 345.5,980 342.8,973.5 342.7,967 338,959" fill="#e8e8e8"/><polygon points="283,965.8 280.9,973.8 279.2,980.3 282.4,986.8 283.9,993.3 280.6,999.8 279.1,1006.3 282.4,1012.8 283.9,1019.3 280.6,1025.8 279.1,1032.3 282.4,1038.8 283.9,1045.3 280.6,1051.8 279.1,1058.3 282.4,1064.8 283.9,1071.3 280.6,1077.8 279.1,1084.3 281.5,1085 282,1087.6 283.6,1090 286.2,1092.1 289.5,1093.7 293.4,1094.7 297.5,1095 318.5,1095 322.6,1094.7 326.5,1093.7 329.8,1092.1 332.4,1090 334,1087.6 334.5,1085 336.9,1084.3 335.4,1077.8 332.1,1071.3 333.6,1064.8 336.9,1058.3 335.4,1051.8 332.1,1045.3 333.6,1038.8 336.9,1032.3 335.4,1025.8 332.1,1019.3 333.6,1012.8 336.9,1006.3 335.4,999.8 332.1,993.3 333.6,986.8 336.8,980.3 335.1,973.8 333,965.8" fill="#ffffff"/><rect x="129.4" y="615.7" width="383.2" height="576.4" fill="url(#core01)" style="mix-blend-mode:darken"/><rect x="259.4" y="645.7" width="13" height="260" fill="#fff" opacity="0.030"/><rect x="337.4" y="645.7" width="13" height="260" fill="#fff" opacity="0.020"/></g><g clip-path="url(#l01)"><g fill="none" stroke-width="2.45" stroke-linejoin="round" stroke-linecap="round" opacity=".97" filter="url(#soft)"><path d="M230.9 620.7 L230.8 650.7 L229.9 680.7 L229 710.7 L228.2 740.7 L227.3 770.7 L226.4 800.7 L225.6 830.7 L224.3 860.7 L222.6 890.7 L221 920.7 L219 950.7 L216.9 980.7 L214.8 1010.7 L214 1040.7 L213.7 1070.7 L213.6 1088.5 L214.4 1094.4 L216.9 1100.1 L221 1105.5 L226.5 1110.4 L233.2 1114.5 L241.1 1117.9 L249.8 1120.4 L259 1122 L268.6 1122.5 L347.4 1122.5 L357 1122 L366.2 1120.4 L374.9 1117.9 L382.8 1114.5 L389.5 1110.4 L395 1105.5 L399.1 1100.1 L401.6 1094.4 L402.4 1088.5 L402.3 1070.7 L402 1040.7 L401.2 1010.7 L399.1 980.7 L397 950.7 L395 920.7 L393.4 890.7 L391.7 860.7 L390.4 830.7 L389.6 800.7 L388.7 770.7 L387.8 740.7 L387 710.7 L386.1 680.7 L385.2 650.7 L385.1 620.7Z" stroke="#0000dc"/><path d="M239.7 620.7 L239.7 650.7 L239.4 680.7 L239.1 710.7 L238.8 740.7 L238.5 770.7 L238.2 800.7 L237.7 830.7 L236.4 860.7 L234.9 890.7 L233.4 920.7 L231.5 950.7 L229.4 980.7 L227.3 1010.7 L226.1 1040.7 L225.3 1070.7 L225 1089.5 L225.7 1094.7 L227.9 1099.8 L231.4 1104.5 L236.2 1108.8 L242.1 1112.5 L249 1115.5 L256.6 1117.7 L264.7 1119 L273 1119.5 L343 1119.5 L351.3 1119 L359.4 1117.7 L367 1115.5 L373.9 1112.5 L379.8 1108.8 L384.6 1104.5 L388.1 1099.8 L390.3 1094.7 L391 1089.5 L390.7 1070.7 L389.9 1040.7 L388.7 1010.7 L386.6 980.7 L384.5 950.7 L382.6 920.7 L381.1 890.7 L379.6 860.7 L378.3 830.7 L377.8 800.7 L377.5 770.7 L377.2 740.7 L376.9 710.7 L376.6 680.7 L376.3 650.7 L376.3 620.7Z" stroke="#003aff"/><path d="M248 620.7 L247.9 650.7 L247.2 680.7 L246.5 710.7 L245.8 740.7 L245.1 770.7 L244.4 800.7 L243.8 830.7 L242.6 860.7 L241.2 890.7 L239.8 920.7 L238.2 950.7 L236.5 980.7 L234.7 1010.7 L233.8 1040.7 L233.2 1070.7 L233 1090 L233.7 1094.7 L235.6 1099.2 L238.8 1103.5 L243.1 1107.4 L248.4 1110.7 L254.5 1113.4 L261.3 1115.4 L268.5 1116.6 L276 1117 L340 1117 L347.5 1116.6 L354.7 1115.4 L361.5 1113.4 L367.6 1110.7 L372.9 1107.4 L377.2 1103.5 L380.4 1099.2 L382.3 1094.7 L383 1090 L382.8 1070.7 L382.2 1040.7 L381.3 1010.7 L379.5 980.7 L377.8 950.7 L376.2 920.7 L374.8 890.7 L373.4 860.7 L372.2 830.7 L371.6 800.7 L370.9 770.7 L370.2 740.7 L369.5 710.7 L368.8 680.7 L368.1 650.7 L368 620.7Z" stroke="#0097ff"/><path d="M255.9 620.7 L255.8 650.7 L255 680.7 L254.3 710.7 L253.5 740.7 L252.7 770.7 L252 800.7 L251.2 830.7 L249.9 860.7 L248.4 890.7 L246.9 920.7 L245.3 950.7 L243.6 980.7 L241.8 1010.7 L240.9 1040.7 L240.4 1070.7 L240.2 1089.5 L240.8 1093.8 L242.6 1098.1 L245.4 1102 L249.3 1105.6 L254.1 1108.7 L259.7 1111.2 L265.9 1113 L272.4 1114.1 L279.2 1114.5 L336.8 1114.5 L343.6 1114.1 L350.1 1113 L356.3 1111.2 L361.9 1108.7 L366.7 1105.6 L370.6 1102 L373.4 1098.1 L375.2 1093.8 L375.8 1089.5 L375.6 1070.7 L375.1 1040.7 L374.2 1010.7 L372.4 980.7 L370.7 950.7 L369.1 920.7 L367.6 890.7 L366.1 860.7 L364.8 830.7 L364 800.7 L363.3 770.7 L362.5 740.7 L361.7 710.7 L361 680.7 L360.2 650.7 L360.1 620.7Z" stroke="#00f3ff"/><path d="M267.6 620.7 L267.4 650.7 L266 680.7 L264.6 710.7 L263.2 740.7 L261.8 770.7 L260.3 800.7 L259.2 830.7 L257.8 860.7 L256.2 890.7 L254.5 920.7 L252.6 950.7 L250.6 980.7 L248.6 1010.7 L247.7 1040.7 L247.2 1070.7 L247 1089 L247.5 1093 L249.2 1096.9 L251.8 1100.5 L255.4 1103.8 L259.9 1106.6 L265 1108.9 L270.7 1110.6 L276.7 1111.7 L283 1112 L333 1112 L339.3 1111.7 L345.3 1110.6 L351 1108.9 L356.1 1106.6 L360.6 1103.8 L364.2 1100.5 L366.8 1096.9 L368.5 1093 L369 1089 L368.9 1070.7 L368.4 1040.7 L367.4 1010.7 L365.4 980.7 L363.4 950.7 L361.5 920.7 L359.8 890.7 L358.2 860.7 L356.8 830.7 L355.7 800.7 L354.2 770.7 L352.8 740.7 L351.4 710.7 L350 680.7 L348.6 650.7 L348.4 620.7Z" stroke="#51ffae"/><path d="M268.4 839.7 L267.4 869.7 L266.5 899.7 L262.6 929.7 L258.8 959.7 L255.9 989.7 L253 1019.7 L252.5 1049.7 L252 1079.7 L252 1088.5 L252.5 1092.1 L254 1095.7 L256.4 1099 L259.7 1102 L263.8 1104.6 L268.5 1106.7 L273.7 1108.2 L279.3 1109.2 L285 1109.5 L331 1109.5 L336.7 1109.2 L342.3 1108.2 L347.5 1106.7 L352.2 1104.6 L356.3 1102 L359.6 1099 L362 1095.7 L363.5 1092.1 L364 1088.5 L364 1079.7 L363.5 1049.7 L363 1019.7 L360.1 989.7 L357.2 959.7 L353.4 929.7 L349.5 899.7 L348.6 869.7 L347.6 839.7 L345 820 L334.2 772.5 L321.7 781.7 L308.3 779.2 L295 764.2 L288 768.5 L281.7 774.2 L272.5 820Z" stroke="#aeff51"/><path d="M258.4 1020 L257.9 1050 L257.4 1080 L257.4 1088 L257.9 1091.3 L259.2 1094.5 L261.4 1097.5 L264.4 1100.2 L268.1 1102.6 L272.4 1104.5 L277.1 1105.9 L282.2 1106.7 L287.4 1107 L328.6 1107 L333.8 1106.7 L338.9 1105.9 L343.6 1104.5 L347.9 1102.6 L351.6 1100.2 L354.6 1097.5 L356.8 1094.5 L358.1 1091.3 L358.6 1088 L358.6 1080 L358.1 1050 L357.6 1020 L359 990 L356.7 961.7 L350 928.3 L341.7 900 L333.3 885.8 L321.7 887.5 L308.3 882.5 L295 878.3 L281.7 884.2 L273.3 906.7 L265 936.7 L262 960 L260.6 985Z" stroke="#fff300"/><path d="M263.8 1020 L263.2 1050 L262.7 1080 L262.7 1087 L263.1 1090 L264.3 1092.8 L266.3 1095.5 L269 1097.9 L272.3 1100 L276.2 1101.7 L280.5 1103 L285 1103.7 L289.7 1104 L326.3 1104 L331 1103.7 L335.5 1103 L339.8 1101.7 L343.7 1100 L347 1097.9 L349.7 1095.5 L351.7 1092.8 L352.9 1090 L353.3 1087 L353.3 1080 L352.8 1050 L352.2 1020 L353.8 990 L351 966 L345 951.7 L338.3 940 L333.3 934.2 L321.7 936.7 L308.3 931.7 L295 930.8 L283.3 935 L278.3 940 L273.3 951.7 L266.7 965 L264.2 980 L264.5 1000Z" stroke="#ff9700"/><path d="M278 959 L273.3 967 L273.2 973.5 L270.5 980 L269.4 986.5 L271.7 993 L272.8 999.5 L270.5 1006 L269.4 1012.5 L271.7 1019 L272.8 1025.5 L270.5 1032 L269.4 1038.5 L271.7 1045 L272.8 1051.5 L270.5 1058 L269.4 1064.5 L271.7 1071 L272.8 1077.5 L270.5 1084 L271.1 1086.5 L271.8 1090.1 L274 1093.5 L277.5 1096.4 L282.1 1098.6 L287.4 1100 L293.1 1100.5 L322.9 1100.5 L328.6 1100 L333.9 1098.6 L338.5 1096.4 L342 1093.5 L344.2 1090.1 L344.9 1086.5 L345.5 1084 L343.2 1077.5 L344.3 1071 L346.6 1064.5 L345.5 1058 L343.2 1051.5 L344.3 1045 L346.6 1038.5 L345.5 1032 L343.2 1025.5 L344.3 1019 L346.6 1012.5 L345.5 1006 L343.2 999.5 L344.3 993 L346.6 986.5 L345.5 980 L342.8 973.5 L342.7 967 L338 959Z" stroke="#ff3a00"/><path d="M283 965.8 L280.9 973.8 L279.2 980.3 L282.4 986.8 L283.9 993.3 L280.6 999.8 L279.1 1006.3 L282.4 1012.8 L283.9 1019.3 L280.6 1025.8 L279.1 1032.3 L282.4 1038.8 L283.9 1045.3 L280.6 1051.8 L279.1 1058.3 L282.4 1064.8 L283.9 1071.3 L280.6 1077.8 L279.1 1084.3 L281.5 1085 L282 1087.6 L283.6 1090 L286.2 1092.1 L289.5 1093.7 L293.4 1094.7 L297.5 1095 L318.5 1095 L322.6 1094.7 L326.5 1093.7 L329.8 1092.1 L332.4 1090 L334 1087.6 L334.5 1085 L336.9 1084.3 L335.4 1077.8 L332.1 1071.3 L333.6 1064.8 L336.9 1058.3 L335.4 1051.8 L332.1 1045.3 L333.6 1038.8 L336.9 1032.3 L335.4 1025.8 L332.1 1019.3 L333.6 1012.8 L336.9 1006.3 L335.4 999.8 L332.1 993.3 L333.6 986.8 L336.8 980.3 L335.1 973.8 L333 965.8Z" stroke="#dc0000"/><path d="M296 985.7 L298.8 984.5 L301.5 983.7 L304.2 983.3 L307 983.1 L309.8 983.3 L312.5 983.7 L315.2 984.5 L318 985.7 L315.2 986.9 L312.5 987.7 L309.8 988.1 L307 988.3 L304.2 988.1 L301.5 987.7 L298.8 986.9Z" stroke="#a50000"/><path d="M294 1011.2 L296.5 1010 L299 1009.2 L301.5 1008.8 L304 1008.6 L306.5 1008.8 L309 1009.2 L311.5 1010 L314 1011.2 L311.5 1012.4 L309 1013.2 L306.5 1013.6 L304 1013.8 L301.5 1013.6 L299 1013.2 L296.5 1012.4Z" stroke="#a50000"/><path d="M296 1037.7 L299.5 1036.3 L303 1035.4 L306.5 1034.9 L310 1034.7 L313.5 1034.9 L317 1035.4 L320.5 1036.3 L324 1037.7 L320.5 1039.1 L317 1040 L313.5 1040.5 L310 1040.7 L306.5 1040.5 L303 1040 L299.5 1039.1Z" stroke="#a50000"/><path d="M290 1063.7 L295.8 1061.1 L301.5 1059.5 L307.2 1058.5 L313 1058.2 L318.8 1058.5 L324.5 1059.5 L330.2 1061.1 L336 1063.7 L330.2 1066.3 L324.5 1067.9 L318.8 1068.9 L313 1069.2 L307.2 1068.9 L301.5 1067.9 L295.8 1066.3Z" stroke="#a50000"/><path d="M290 1088.7 L292 1085.2 L294 1083 L296 1081.7 L298 1081.2 L300 1081.7 L302 1083 L304 1085.2 L306 1088.7 L304 1092.2 L302 1094.4 L300 1095.7 L298 1096.2 L296 1095.7 L294 1094.4 L292 1092.2Z" stroke="#a50000"/><path d="M318 1088.7 L320.1 1087.4 L322.2 1086.6 L324.4 1086.1 L326.5 1085.9 L328.6 1086.1 L330.8 1086.6 L332.9 1087.4 L335 1088.7 L332.9 1090 L330.8 1090.8 L328.6 1091.3 L326.5 1091.5 L324.4 1091.3 L322.2 1090.8 L320.1 1090Z" stroke="#a50000"/></g></g><rect x="264.2" y="955.4" width="88.3" height="143" rx="7" ry="7" fill="none" stroke="#c070c8" stroke-width="1.5" opacity=".7"/><path d="M157.4 1164.1L157.4 1098.5L173.3 1098.5L173.3 1111.3L199 1111.3L199 1124.2L237.5 1124.2L237.5 1137L367 1137L367 1124.2L419.5 1124.2L419.5 1111.3L432 1111.3L432 1124.2L445 1124.2L445 1111.3L458 1111.3L458 1098.5L471 1098.5L471 1085.7L484.6 1085.7L484.6 1164.1ZM456.5 645.4h13.2v13.2h-13.2ZM456.5 723h13.2v13.2h-13.2ZM456.5 735.9h13.2v13.2h-13.2ZM469.4 735.9h13.2v13.2h-13.2ZM469.4 748.8h13.2v13.2h-13.2ZM469.4 761.8h13.2v13.2h-13.2Z" fill="#000"/></g>
<g clip-path="url(#c11)"><g filter="url(#jet)"><rect x="592" y="615.7" width="383.2" height="576.4" fill="#060606"/><polygon points="685.5,620.7 685.3,650.7 683.8,680.7 682.3,710.7 680.9,740.7 679.4,770.7 677.9,800.7 676.5,830.7 674.6,860.7 672.3,890.7 670.1,920.7 667.5,950.7 664.8,980.7 662.1,1010.7 660.9,1040.7 660.4,1070.7 660.2,1087.5 661.2,1094.4 664.3,1101.2 669.3,1107.5 676.1,1113.2 684.5,1118.1 694.2,1122.1 704.9,1125.1 716.4,1126.9 728.2,1127.5 813,1127.5 824.8,1126.9 836.3,1125.1 847,1122.1 856.7,1118.1 865.1,1113.2 871.9,1107.5 876.9,1101.2 880,1094.4 881,1087.5 880.8,1070.7 880.3,1040.7 879.1,1010.7 876.4,980.7 873.7,950.7 871.1,920.7 868.9,890.7 866.6,860.7 864.7,830.7 863.3,800.7 861.8,770.7 860.3,740.7 858.9,710.7 857.4,680.7 855.9,650.7 855.7,620.7" fill="#0f0f0f"/><polygon points="693.5,620.7 693.4,650.7 692.5,680.7 691.6,710.7 690.8,740.7 689.9,770.7 689,800.7 688.2,830.7 686.9,860.7 685.2,890.7 683.6,920.7 681.6,950.7 679.5,980.7 677.4,1010.7 676.6,1040.7 676.3,1070.7 676.2,1088.5 677,1094.4 679.5,1100.1 683.6,1105.5 689.1,1110.4 695.8,1114.5 703.7,1117.9 712.4,1120.4 721.6,1122 731.2,1122.5 810,1122.5 819.6,1122 828.8,1120.4 837.5,1117.9 845.4,1114.5 852.1,1110.4 857.6,1105.5 861.7,1100.1 864.2,1094.4 865,1088.5 864.9,1070.7 864.6,1040.7 863.8,1010.7 861.7,980.7 859.6,950.7 857.6,920.7 856,890.7 854.3,860.7 853,830.7 852.2,800.7 851.3,770.7 850.4,740.7 849.6,710.7 848.7,680.7 847.8,650.7 847.7,620.7" fill="#232323"/><polygon points="702.3,620.7 702.3,650.7 702,680.7 701.7,710.7 701.4,740.7 701.1,770.7 700.8,800.7 700.3,830.7 699,860.7 697.5,890.7 696,920.7 694.1,950.7 692,980.7 689.9,1010.7 688.7,1040.7 687.9,1070.7 687.6,1089.5 688.3,1094.7 690.5,1099.8 694,1104.5 698.8,1108.8 704.7,1112.5 711.6,1115.5 719.2,1117.7 727.3,1119 735.6,1119.5 805.6,1119.5 813.9,1119 822,1117.7 829.6,1115.5 836.5,1112.5 842.4,1108.8 847.2,1104.5 850.7,1099.8 852.9,1094.7 853.6,1089.5 853.3,1070.7 852.5,1040.7 851.3,1010.7 849.2,980.7 847.1,950.7 845.2,920.7 843.7,890.7 842.2,860.7 840.9,830.7 840.4,800.7 840.1,770.7 839.8,740.7 839.5,710.7 839.2,680.7 838.9,650.7 838.9,620.7" fill="#3a3a3a"/><polygon points="710.6,620.7 710.5,650.7 709.8,680.7 709.1,710.7 708.4,740.7 707.7,770.7 707,800.7 706.4,830.7 705.2,860.7 703.8,890.7 702.4,920.7 700.8,950.7 699.1,980.7 697.3,1010.7 696.4,1040.7 695.8,1070.7 695.6,1090 696.3,1094.7 698.2,1099.2 701.4,1103.5 705.7,1107.4 711,1110.7 717.1,1113.4 723.9,1115.4 731.1,1116.6 738.6,1117 802.6,1117 810.1,1116.6 817.3,1115.4 824.1,1113.4 830.2,1110.7 835.5,1107.4 839.8,1103.5 843,1099.2 844.9,1094.7 845.6,1090 845.4,1070.7 844.8,1040.7 843.9,1010.7 842.1,980.7 840.4,950.7 838.8,920.7 837.4,890.7 836,860.7 834.8,830.7 834.2,800.7 833.5,770.7 832.8,740.7 832.1,710.7 831.4,680.7 830.7,650.7 830.6,620.7" fill="#515151"/><polygon points="718.5,620.7 718.4,650.7 717.6,680.7 716.9,710.7 716.1,740.7 715.3,770.7 714.6,800.7 713.8,830.7 712.6,860.7 711.1,890.7 709.6,920.7 707.9,950.7 706.2,980.7 704.4,1010.7 703.5,1040.7 703,1070.7 702.8,1089.5 703.4,1093.8 705.2,1098.1 708,1102 711.9,1105.6 716.7,1108.7 722.3,1111.2 728.5,1113 735,1114.1 741.8,1114.5 799.4,1114.5 806.2,1114.1 812.7,1113 818.9,1111.2 824.5,1108.7 829.3,1105.6 833.2,1102 836,1098.1 837.8,1093.8 838.4,1089.5 838.2,1070.7 837.7,1040.7 836.8,1010.7 835,980.7 833.3,950.7 831.6,920.7 830.1,890.7 828.6,860.7 827.4,830.7 826.6,800.7 825.9,770.7 825.1,740.7 824.3,710.7 823.6,680.7 822.8,650.7 822.7,620.7" fill="#686868"/><polygon points="730.2,620.7 730,650.7 728.6,680.7 727.2,710.7 725.8,740.7 724.4,770.7 722.9,800.7 721.8,830.7 720.4,860.7 718.8,890.7 717.1,920.7 715.2,950.7 713.2,980.7 711.2,1010.7 710.2,1040.7 709.8,1070.7 709.6,1089 710.1,1093 711.8,1096.9 714.4,1100.5 718,1103.8 722.5,1106.6 727.6,1108.9 733.3,1110.6 739.3,1111.7 745.6,1112 795.6,1112 801.9,1111.7 807.9,1110.6 813.6,1108.9 818.7,1106.6 823.2,1103.8 826.8,1100.5 829.4,1096.9 831.1,1093 831.6,1089 831.5,1070.7 831,1040.7 830,1010.7 828,980.7 826,950.7 824.1,920.7 822.4,890.7 820.8,860.7 819.4,830.7 818.3,800.7 816.8,770.7 815.4,740.7 814,710.7 812.6,680.7 811.2,650.7 811,620.7" fill="#8b8b8b"/><polygon points="731,839.7 730.1,869.7 729.1,899.7 725.2,929.7 721.4,959.7 718.5,989.7 715.6,1019.7 715.1,1049.7 714.6,1079.7 714.6,1088.5 715.1,1092.1 716.6,1095.7 719,1099 722.3,1102 726.4,1104.6 731.1,1106.7 736.3,1108.2 741.9,1109.2 747.6,1109.5 793.6,1109.5 799.3,1109.2 804.9,1108.2 810.1,1106.7 814.8,1104.6 818.9,1102 822.2,1099 824.6,1095.7 826.1,1092.1 826.6,1088.5 826.6,1079.7 826.1,1049.7 825.6,1019.7 822.7,989.7 819.8,959.7 816,929.7 812.1,899.7 811.1,869.7 810.2,839.7 807.6,820 806.6,813.7 797.5,778.2 784,772.4 771.1,772.4 757.5,778.2 745.9,763.6 742,781.4 736.1,812 735.1,820" fill="#a2a2a2"/><polygon points="721,1020 720.5,1050 720,1080 720,1088 720.5,1091.3 721.8,1094.5 724,1097.5 727,1100.2 730.7,1102.6 735,1104.5 739.7,1105.9 744.8,1106.7 750,1107 791.2,1107 796.4,1106.7 801.5,1105.9 806.2,1104.5 810.5,1102.6 814.2,1100.2 817.2,1097.5 819.4,1094.5 820.7,1091.3 821.2,1088 821.2,1080 820.7,1050 820.2,1020 821.6,990 819.3,961.7 812.6,928.3 804.3,900 795.9,885.8 784.3,887.5 770.9,882.5 757.6,878.3 744.3,884.2 735.9,906.7 727.6,936.7 724.6,960 723.2,985" fill="#b9b9b9"/><polygon points="726.4,1020 725.8,1050 725.3,1080 725.3,1087 725.7,1090 726.9,1092.8 728.9,1095.5 731.6,1097.9 734.9,1100 738.8,1101.7 743.1,1103 747.6,1103.7 752.3,1104 788.9,1104 793.6,1103.7 798.1,1103 802.4,1101.7 806.3,1100 809.6,1097.9 812.3,1095.5 814.3,1092.8 815.5,1090 815.9,1087 815.9,1080 815.4,1050 814.8,1020 816.4,990 813.6,966 807.6,951.7 800.9,940 795.9,934.2 784.3,936.7 770.9,931.7 757.6,930.8 745.9,935 740.9,940 735.9,951.7 729.3,965 726.8,980 727.1,1000" fill="#d1d1d1"/><polygon points="740.6,959 735.9,967 735.8,973.5 733.1,980 732,986.5 734.3,993 735.4,999.5 733.1,1006 732,1012.5 734.3,1019 735.4,1025.5 733.1,1032 732,1038.5 734.3,1045 735.4,1051.5 733.1,1058 732,1064.5 734.3,1071 735.4,1077.5 733.1,1084 733.7,1086.5 734.4,1090.1 736.6,1093.5 740.1,1096.4 744.7,1098.6 750,1100 755.7,1100.5 785.5,1100.5 791.2,1100 796.5,1098.6 801.1,1096.4 804.6,1093.5 806.8,1090.1 807.5,1086.5 808.1,1084 805.8,1077.5 806.9,1071 809.2,1064.5 808.1,1058 805.8,1051.5 806.9,1045 809.2,1038.5 808.1,1032 805.8,1025.5 806.9,1019 809.2,1012.5 808.1,1006 805.8,999.5 806.9,993 809.2,986.5 808.1,980 805.4,973.5 805.3,967 800.6,959" fill="#e8e8e8"/><polygon points="745.6,965.8 743.5,973.8 741.8,980.3 745,986.8 746.5,993.3 743.2,999.8 741.7,1006.3 745,1012.8 746.5,1019.3 743.2,1025.8 741.7,1032.3 745,1038.8 746.5,1045.3 743.2,1051.8 741.7,1058.3 745,1064.8 746.5,1071.3 743.2,1077.8 741.7,1084.3 744.1,1085 744.6,1087.6 746.2,1090 748.8,1092.1 752.1,1093.7 756,1094.7 760.1,1095 781.1,1095 785.2,1094.7 789.1,1093.7 792.4,1092.1 795,1090 796.6,1087.6 797.1,1085 799.5,1084.3 798,1077.8 794.7,1071.3 796.2,1064.8 799.5,1058.3 798,1051.8 794.7,1045.3 796.2,1038.8 799.5,1032.3 798,1025.8 794.7,1019.3 796.2,1012.8 799.5,1006.3 798,999.8 794.7,993.3 796.2,986.8 799.4,980.3 797.7,973.8 795.6,965.8" fill="#ffffff"/><rect x="592" y="615.7" width="383.2" height="576.4" fill="url(#core11)" style="mix-blend-mode:darken"/><rect x="722" y="645.7" width="13" height="260" fill="#fff" opacity="0.030"/><rect x="800" y="645.7" width="13" height="260" fill="#fff" opacity="0.020"/></g><g clip-path="url(#l11)"><g fill="none" stroke-width="2.45" stroke-linejoin="round" stroke-linecap="round" opacity=".97" filter="url(#soft)"><path d="M693.5 620.7 L693.4 650.7 L692.5 680.7 L691.6 710.7 L690.8 740.7 L689.9 770.7 L689 800.7 L688.2 830.7 L686.9 860.7 L685.2 890.7 L683.6 920.7 L681.6 950.7 L679.5 980.7 L677.4 1010.7 L676.6 1040.7 L676.3 1070.7 L676.2 1088.5 L677 1094.4 L679.5 1100.1 L683.6 1105.5 L689.1 1110.4 L695.8 1114.5 L703.7 1117.9 L712.4 1120.4 L721.6 1122 L731.2 1122.5 L810 1122.5 L819.6 1122 L828.8 1120.4 L837.5 1117.9 L845.4 1114.5 L852.1 1110.4 L857.6 1105.5 L861.7 1100.1 L864.2 1094.4 L865 1088.5 L864.9 1070.7 L864.6 1040.7 L863.8 1010.7 L861.7 980.7 L859.6 950.7 L857.6 920.7 L856 890.7 L854.3 860.7 L853 830.7 L852.2 800.7 L851.3 770.7 L850.4 740.7 L849.6 710.7 L848.7 680.7 L847.8 650.7 L847.7 620.7Z" stroke="#0000dc"/><path d="M702.3 620.7 L702.3 650.7 L702 680.7 L701.7 710.7 L701.4 740.7 L701.1 770.7 L700.8 800.7 L700.3 830.7 L699 860.7 L697.5 890.7 L696 920.7 L694.1 950.7 L692 980.7 L689.9 1010.7 L688.7 1040.7 L687.9 1070.7 L687.6 1089.5 L688.3 1094.7 L690.5 1099.8 L694 1104.5 L698.8 1108.8 L704.7 1112.5 L711.6 1115.5 L719.2 1117.7 L727.3 1119 L735.6 1119.5 L805.6 1119.5 L813.9 1119 L822 1117.7 L829.6 1115.5 L836.5 1112.5 L842.4 1108.8 L847.2 1104.5 L850.7 1099.8 L852.9 1094.7 L853.6 1089.5 L853.3 1070.7 L852.5 1040.7 L851.3 1010.7 L849.2 980.7 L847.1 950.7 L845.2 920.7 L843.7 890.7 L842.2 860.7 L840.9 830.7 L840.4 800.7 L840.1 770.7 L839.8 740.7 L839.5 710.7 L839.2 680.7 L838.9 650.7 L838.9 620.7Z" stroke="#003aff"/><path d="M710.6 620.7 L710.5 650.7 L709.8 680.7 L709.1 710.7 L708.4 740.7 L707.7 770.7 L707 800.7 L706.4 830.7 L705.2 860.7 L703.8 890.7 L702.4 920.7 L700.8 950.7 L699.1 980.7 L697.3 1010.7 L696.4 1040.7 L695.8 1070.7 L695.6 1090 L696.3 1094.7 L698.2 1099.2 L701.4 1103.5 L705.7 1107.4 L711 1110.7 L717.1 1113.4 L723.9 1115.4 L731.1 1116.6 L738.6 1117 L802.6 1117 L810.1 1116.6 L817.3 1115.4 L824.1 1113.4 L830.2 1110.7 L835.5 1107.4 L839.8 1103.5 L843 1099.2 L844.9 1094.7 L845.6 1090 L845.4 1070.7 L844.8 1040.7 L843.9 1010.7 L842.1 980.7 L840.4 950.7 L838.8 920.7 L837.4 890.7 L836 860.7 L834.8 830.7 L834.2 800.7 L833.5 770.7 L832.8 740.7 L832.1 710.7 L831.4 680.7 L830.7 650.7 L830.6 620.7Z" stroke="#0097ff"/><path d="M718.5 620.7 L718.4 650.7 L717.6 680.7 L716.9 710.7 L716.1 740.7 L715.3 770.7 L714.6 800.7 L713.8 830.7 L712.6 860.7 L711.1 890.7 L709.6 920.7 L707.9 950.7 L706.2 980.7 L704.4 1010.7 L703.5 1040.7 L703 1070.7 L702.8 1089.5 L703.4 1093.8 L705.2 1098.1 L708 1102 L711.9 1105.6 L716.7 1108.7 L722.3 1111.2 L728.5 1113 L735 1114.1 L741.8 1114.5 L799.4 1114.5 L806.2 1114.1 L812.7 1113 L818.9 1111.2 L824.5 1108.7 L829.3 1105.6 L833.2 1102 L836 1098.1 L837.8 1093.8 L838.4 1089.5 L838.2 1070.7 L837.7 1040.7 L836.8 1010.7 L835 980.7 L833.3 950.7 L831.6 920.7 L830.1 890.7 L828.6 860.7 L827.4 830.7 L826.6 800.7 L825.9 770.7 L825.1 740.7 L824.3 710.7 L823.6 680.7 L822.8 650.7 L822.7 620.7Z" stroke="#00f3ff"/><path d="M730.2 620.7 L730 650.7 L728.6 680.7 L727.2 710.7 L725.8 740.7 L724.4 770.7 L722.9 800.7 L721.8 830.7 L720.4 860.7 L718.8 890.7 L717.1 920.7 L715.2 950.7 L713.2 980.7 L711.2 1010.7 L710.2 1040.7 L709.8 1070.7 L709.6 1089 L710.1 1093 L711.8 1096.9 L714.4 1100.5 L718 1103.8 L722.5 1106.6 L727.6 1108.9 L733.3 1110.6 L739.3 1111.7 L745.6 1112 L795.6 1112 L801.9 1111.7 L807.9 1110.6 L813.6 1108.9 L818.7 1106.6 L823.2 1103.8 L826.8 1100.5 L829.4 1096.9 L831.1 1093 L831.6 1089 L831.5 1070.7 L831 1040.7 L830 1010.7 L828 980.7 L826 950.7 L824.1 920.7 L822.4 890.7 L820.8 860.7 L819.4 830.7 L818.3 800.7 L816.8 770.7 L815.4 740.7 L814 710.7 L812.6 680.7 L811.2 650.7 L811 620.7Z" stroke="#51ffae"/><path d="M731 839.7 L730.1 869.7 L729.1 899.7 L725.2 929.7 L721.4 959.7 L718.5 989.7 L715.6 1019.7 L715.1 1049.7 L714.6 1079.7 L714.6 1088.5 L715.1 1092.1 L716.6 1095.7 L719 1099 L722.3 1102 L726.4 1104.6 L731.1 1106.7 L736.3 1108.2 L741.9 1109.2 L747.6 1109.5 L793.6 1109.5 L799.3 1109.2 L804.9 1108.2 L810.1 1106.7 L814.8 1104.6 L818.9 1102 L822.2 1099 L824.6 1095.7 L826.1 1092.1 L826.6 1088.5 L826.6 1079.7 L826.1 1049.7 L825.6 1019.7 L822.7 989.7 L819.8 959.7 L816 929.7 L812.1 899.7 L811.1 869.7 L810.2 839.7 L807.6 820 L806.6 813.7 L797.5 778.2 L784 772.4 L771.1 772.4 L757.5 778.2 L745.9 763.6 L742 781.4 L736.1 812 L735.1 820Z" stroke="#aeff51"/><path d="M721 1020 L720.5 1050 L720 1080 L720 1088 L720.5 1091.3 L721.8 1094.5 L724 1097.5 L727 1100.2 L730.7 1102.6 L735 1104.5 L739.7 1105.9 L744.8 1106.7 L750 1107 L791.2 1107 L796.4 1106.7 L801.5 1105.9 L806.2 1104.5 L810.5 1102.6 L814.2 1100.2 L817.2 1097.5 L819.4 1094.5 L820.7 1091.3 L821.2 1088 L821.2 1080 L820.7 1050 L820.2 1020 L821.6 990 L819.3 961.7 L812.6 928.3 L804.3 900 L795.9 885.8 L784.3 887.5 L770.9 882.5 L757.6 878.3 L744.3 884.2 L735.9 906.7 L727.6 936.7 L724.6 960 L723.2 985Z" stroke="#fff300"/><path d="M726.4 1020 L725.8 1050 L725.3 1080 L725.3 1087 L725.7 1090 L726.9 1092.8 L728.9 1095.5 L731.6 1097.9 L734.9 1100 L738.8 1101.7 L743.1 1103 L747.6 1103.7 L752.3 1104 L788.9 1104 L793.6 1103.7 L798.1 1103 L802.4 1101.7 L806.3 1100 L809.6 1097.9 L812.3 1095.5 L814.3 1092.8 L815.5 1090 L815.9 1087 L815.9 1080 L815.4 1050 L814.8 1020 L816.4 990 L813.6 966 L807.6 951.7 L800.9 940 L795.9 934.2 L784.3 936.7 L770.9 931.7 L757.6 930.8 L745.9 935 L740.9 940 L735.9 951.7 L729.3 965 L726.8 980 L727.1 1000Z" stroke="#ff9700"/><path d="M740.6 959 L735.9 967 L735.8 973.5 L733.1 980 L732 986.5 L734.3 993 L735.4 999.5 L733.1 1006 L732 1012.5 L734.3 1019 L735.4 1025.5 L733.1 1032 L732 1038.5 L734.3 1045 L735.4 1051.5 L733.1 1058 L732 1064.5 L734.3 1071 L735.4 1077.5 L733.1 1084 L733.7 1086.5 L734.4 1090.1 L736.6 1093.5 L740.1 1096.4 L744.7 1098.6 L750 1100 L755.7 1100.5 L785.5 1100.5 L791.2 1100 L796.5 1098.6 L801.1 1096.4 L804.6 1093.5 L806.8 1090.1 L807.5 1086.5 L808.1 1084 L805.8 1077.5 L806.9 1071 L809.2 1064.5 L808.1 1058 L805.8 1051.5 L806.9 1045 L809.2 1038.5 L808.1 1032 L805.8 1025.5 L806.9 1019 L809.2 1012.5 L808.1 1006 L805.8 999.5 L806.9 993 L809.2 986.5 L808.1 980 L805.4 973.5 L805.3 967 L800.6 959Z" stroke="#ff3a00"/><path d="M745.6 965.8 L743.5 973.8 L741.8 980.3 L745 986.8 L746.5 993.3 L743.2 999.8 L741.7 1006.3 L745 1012.8 L746.5 1019.3 L743.2 1025.8 L741.7 1032.3 L745 1038.8 L746.5 1045.3 L743.2 1051.8 L741.7 1058.3 L745 1064.8 L746.5 1071.3 L743.2 1077.8 L741.7 1084.3 L744.1 1085 L744.6 1087.6 L746.2 1090 L748.8 1092.1 L752.1 1093.7 L756 1094.7 L760.1 1095 L781.1 1095 L785.2 1094.7 L789.1 1093.7 L792.4 1092.1 L795 1090 L796.6 1087.6 L797.1 1085 L799.5 1084.3 L798 1077.8 L794.7 1071.3 L796.2 1064.8 L799.5 1058.3 L798 1051.8 L794.7 1045.3 L796.2 1038.8 L799.5 1032.3 L798 1025.8 L794.7 1019.3 L796.2 1012.8 L799.5 1006.3 L798 999.8 L794.7 993.3 L796.2 986.8 L799.4 980.3 L797.7 973.8 L795.6 965.8Z" stroke="#dc0000"/><path d="M758.6 985.7 L761.4 984.5 L764.1 983.7 L766.9 983.3 L769.6 983.1 L772.4 983.3 L775.1 983.7 L777.9 984.5 L780.6 985.7 L777.9 986.9 L775.1 987.7 L772.4 988.1 L769.6 988.3 L766.9 988.1 L764.1 987.7 L761.4 986.9Z" stroke="#a50000"/><path d="M756.6 1011.2 L759.1 1010 L761.6 1009.2 L764.1 1008.8 L766.6 1008.6 L769.1 1008.8 L771.6 1009.2 L774.1 1010 L776.6 1011.2 L774.1 1012.4 L771.6 1013.2 L769.1 1013.6 L766.6 1013.8 L764.1 1013.6 L761.6 1013.2 L759.1 1012.4Z" stroke="#a50000"/><path d="M758.6 1037.7 L762.1 1036.3 L765.6 1035.4 L769.1 1034.9 L772.6 1034.7 L776.1 1034.9 L779.6 1035.4 L783.1 1036.3 L786.6 1037.7 L783.1 1039.1 L779.6 1040 L776.1 1040.5 L772.6 1040.7 L769.1 1040.5 L765.6 1040 L762.1 1039.1Z" stroke="#a50000"/><path d="M752.6 1063.7 L758.4 1061.1 L764.1 1059.5 L769.9 1058.5 L775.6 1058.2 L781.4 1058.5 L787.1 1059.5 L792.9 1061.1 L798.6 1063.7 L792.9 1066.3 L787.1 1067.9 L781.4 1068.9 L775.6 1069.2 L769.9 1068.9 L764.1 1067.9 L758.4 1066.3Z" stroke="#a50000"/><path d="M752.6 1088.7 L754.6 1085.2 L756.6 1083 L758.6 1081.7 L760.6 1081.2 L762.6 1081.7 L764.6 1083 L766.6 1085.2 L768.6 1088.7 L766.6 1092.2 L764.6 1094.4 L762.6 1095.7 L760.6 1096.2 L758.6 1095.7 L756.6 1094.4 L754.6 1092.2Z" stroke="#a50000"/><path d="M780.6 1088.7 L782.7 1087.4 L784.9 1086.6 L787 1086.1 L789.1 1085.9 L791.2 1086.1 L793.4 1086.6 L795.5 1087.4 L797.6 1088.7 L795.5 1090 L793.4 1090.8 L791.2 1091.3 L789.1 1091.5 L787 1091.3 L784.9 1090.8 L782.7 1090Z" stroke="#a50000"/></g></g><rect x="726.8" y="955.4" width="88.3" height="143" rx="7" ry="7" fill="none" stroke="#c070c8" stroke-width="1.5" opacity=".7"/><path d="M620 1164.1L620 1098.5L635.9 1098.5L635.9 1111.3L661.6 1111.3L661.6 1124.2L700.2 1124.2L700.2 1137L842.5 1137L842.5 1124.2L881 1124.2L881 1111.3L919.5 1111.3L919.5 1098.5L933.5 1098.5L933.5 1085.7L947.2 1085.7L947.2 1164.1ZM919.1 645.4h13.2v13.2h-13.2ZM932 645.4h13.2v13.2h-13.2ZM932 658.3h13.2v13.2h-13.2ZM932 697.1h13.2v13.2h-13.2ZM919.1 735.9h13.2v13.2h-13.2ZM932 735.9h13.2v13.2h-13.2ZM932 748.8h13.2v13.2h-13.2Z" fill="#000"/></g>
<g clip-path="url(#c02)"><g filter="url(#jet)"><rect x="129.4" y="1174.1" width="383.2" height="576.4" fill="#060606"/><polygon points="191.2,1179.1 191.2,1204.1 192.3,1249.1 193.4,1294.1 190.1,1354.1 189.4,1394.4 188.6,1434.8 187.8,1475.1 179.9,1534.1 172.4,1590.1 171.5,1644.1 171.5,1658.9 172.9,1665.9 176.9,1672.4 183.2,1678 191.5,1682.3 201.1,1685 211.5,1685.9 265,1685.9 275.4,1685 285,1682.3 293.3,1678 299.6,1672.4 303.6,1665.9 305,1658.9 305,1644.1 304.2,1590.1 302.3,1534.1 300.7,1475.1 300.6,1434.8 300.6,1394.4 300.5,1354.1 300.4,1294.1 300.4,1249.1 300.3,1204.1 300.3,1179.1" fill="#0f0f0f"/><polygon points="313.7,1179.1 313.7,1204.1 312.9,1249.3 312.2,1294.4 311.4,1339.6 310.6,1384.8 309.9,1429.9 309.1,1475.1 306,1532.6 303,1590.1 302,1644.1 302,1658.9 303.4,1665.9 307.4,1672.4 313.7,1678 322,1682.3 331.6,1685 342,1685.9 393.5,1685.9 403.9,1685 413.5,1682.3 421.8,1678 428.1,1672.4 432.1,1665.9 433.5,1658.9 433.5,1644.1 432.6,1590.1 429,1532.6 425.5,1475.1 424.1,1429.9 422.7,1384.8 421.3,1339.6 419.8,1294.4 418.4,1249.3 417,1204.1 417,1179.1" fill="#0f0f0f"/><polygon points="200.2,1179.1 200.2,1204.1 203.8,1234.1 200,1264.1 200.6,1294.1 199.2,1324.1 202,1354.1 201.9,1384.3 197.6,1414.6 198.9,1444.8 198.8,1475.1 196.2,1504.6 193.3,1534.1 188.4,1562.1 185.5,1590.1 188.9,1617.1 188.1,1644.1 188.1,1658.9 189.2,1664.6 192.6,1669.9 198,1674.5 205.1,1678 213.3,1680.2 222.1,1680.9 260.3,1680.9 269.1,1680.2 277.3,1678 284.4,1674.5 289.8,1669.9 293.2,1664.6 294.3,1658.9 294.3,1644.1 293.3,1617.1 294,1590.1 290.6,1562.1 292.1,1534.1 289.2,1504.6 290.7,1475.1 289.9,1444.8 290.7,1414.6 291.1,1384.3 290.1,1354.1 291.1,1324.1 291.3,1294.1 290.6,1264.1 293.6,1234.1 292.3,1204.1 292.3,1179.1" fill="#232323"/><polygon points="322.7,1179.1 322.7,1204.1 321.7,1231.2 321.9,1258.3 320.9,1285.4 321.9,1312.5 322.7,1339.6 320.6,1366.7 320,1393.8 321.8,1420.9 321.5,1448 322.8,1475.1 321.5,1503.8 318.3,1532.6 317,1561.3 315.7,1590.1 313.6,1617.1 319,1644.1 319,1658.9 320.2,1664.6 323.6,1669.9 329,1674.5 336,1678 344.2,1680.2 353,1680.9 386.5,1680.9 395.3,1680.2 403.5,1678 410.5,1674.5 415.9,1669.9 419.3,1664.6 420.5,1658.9 420.5,1644.1 420.1,1617.1 420.5,1590.1 419.5,1561.3 418.4,1532.6 417,1503.8 415.7,1475.1 413.7,1448 412.1,1420.9 411.9,1393.8 412.3,1366.7 411.1,1339.6 412.7,1312.5 409.9,1285.4 410,1258.3 408.5,1231.2 409,1204.1 409,1179.1" fill="#232323"/><polygon points="213,1179.1 213,1204.1 213.2,1231.2 211.6,1258.3 211.7,1285.4 211.5,1312.5 211.5,1339.6 212.8,1366.7 212.7,1393.8 213.2,1420.9 212.6,1448 212.8,1475.1 209.3,1503.8 206.4,1532.6 203.2,1561.3 199.3,1590.1 200.4,1617.1 200,1644.1 200,1658.1 201,1663.3 204,1668.1 208.8,1672.2 215,1675.4 222.2,1677.4 230,1678.1 256.1,1678.1 263.8,1677.4 271.1,1675.4 277.3,1672.2 282.1,1668.1 285.1,1663.3 286.1,1658.1 286.1,1644.1 286.4,1617.1 285.7,1590.1 284.5,1561.3 284.5,1532.6 285.2,1503.8 284.6,1475.1 283.7,1448 283.8,1420.9 282.4,1393.8 282.4,1366.7 282.6,1339.6 281.5,1312.5 280.2,1285.4 279.9,1258.3 279.2,1231.2 279.5,1204.1 279.5,1179.1" fill="#3a3a3a"/><polygon points="330.8,1179.1 330.8,1204.1 330.8,1231.2 330,1258.3 329.6,1285.4 331.2,1312.5 330.6,1339.6 330,1366.7 331.2,1393.8 330.2,1420.9 332.1,1448 329.6,1475.1 328.2,1503.8 328,1532.6 325.5,1561.3 325.5,1590.1 324.3,1617.1 325.5,1644.1 325.5,1658.1 326.5,1663.3 329.5,1668.1 334.3,1672.2 340.5,1675.4 347.8,1677.4 355.5,1678.1 381.6,1678.1 389.4,1677.4 396.6,1675.4 402.9,1672.2 407.6,1668.1 410.6,1663.3 411.6,1658.1 411.6,1644.1 410.9,1617.1 412,1590.1 409.1,1561.3 408.4,1532.6 406.8,1503.8 403.6,1475.1 403.8,1448 403.9,1420.9 403.2,1393.8 403.3,1366.7 401.8,1339.6 401.6,1312.5 402.5,1285.4 401,1258.3 401.1,1231.2 400.8,1204.1 400.8,1179.1" fill="#3a3a3a"/><polygon points="221.2,1179.1 221.2,1204.1 221.6,1231.2 221.4,1258.3 220,1285.4 221.3,1312.5 221.1,1339.6 221.1,1366.7 218.7,1393.8 220.2,1420.9 219.6,1448 218.2,1475.1 216.9,1503.8 212.2,1532.6 211.1,1561.3 206.6,1590.1 206.7,1617.1 206.9,1644.1 206.9,1657.6 207.9,1662.3 210.6,1666.6 214.9,1670.3 220.4,1673.2 227,1675 233.9,1675.6 254.4,1675.6 261.3,1675 267.9,1673.2 273.5,1670.3 277.7,1666.6 280.4,1662.3 281.4,1657.6 281.4,1644.1 280.3,1617.1 280.6,1590.1 279.8,1561.3 280.1,1532.6 278.2,1503.8 278.9,1475.1 277.9,1448 278.4,1420.9 276.8,1393.8 276.7,1366.7 277.1,1339.6 275.6,1312.5 275.7,1285.4 274.9,1258.3 274.9,1231.2 274.8,1204.1 274.8,1179.1" fill="#515151"/><polygon points="339,1179.1 339,1204.1 338.3,1231.2 339.1,1258.3 337,1285.4 338.8,1312.5 337.9,1339.6 339,1366.7 338.3,1393.8 337.1,1420.9 338,1448 335.5,1475.1 335.3,1503.8 332.9,1532.6 332.3,1561.3 331.1,1590.1 330.9,1617.1 329.7,1644.1 329.7,1657.6 330.6,1662.3 333.3,1666.6 337.6,1670.3 343.2,1673.2 349.7,1675 356.7,1675.6 379.5,1675.6 386.5,1675 393,1673.2 398.6,1670.3 402.9,1666.6 405.6,1662.3 406.5,1657.6 406.5,1644.1 405.2,1617.1 405.3,1590.1 403.6,1561.3 401.3,1532.6 398.6,1503.8 396.6,1475.1 396.9,1448 395.9,1420.9 395.5,1393.8 395.9,1366.7 395,1339.6 394.9,1312.5 394.1,1285.4 395.1,1258.3 394.9,1231.2 393.8,1204.1 393.8,1179.1" fill="#515151"/><polygon points="227,1179.1 227,1204.1 225.4,1231.2 226.4,1258.3 226.8,1285.4 226.3,1312.5 225.5,1339.6 225.5,1366.7 225.7,1393.8 224.4,1420.9 224.3,1448 225.9,1475.1 220.8,1503.8 219,1532.6 214.6,1561.3 211.6,1590.1 213.1,1617.1 211.4,1644.1 211.4,1656.1 212.3,1660.5 214.8,1664.6 218.7,1668.1 223.9,1670.8 230,1672.5 236.4,1673.1 252.4,1673.1 258.9,1672.5 264.9,1670.8 270.1,1668.1 274.1,1664.6 276.6,1660.5 277.4,1656.1 277.4,1644.1 275.6,1617.1 275.6,1590.1 275.3,1561.3 275,1532.6 274.6,1503.8 273.3,1475.1 273.2,1448 273.5,1420.9 272,1393.8 272.1,1366.7 271.2,1339.6 271.9,1312.5 271.7,1285.4 270.3,1258.3 269.8,1231.2 270.2,1204.1 270.2,1179.1" fill="#686868"/><polygon points="344.8,1179.1 344.8,1204.1 344.5,1231.2 343.4,1258.3 342.8,1285.4 344.4,1312.5 344.1,1339.6 344.2,1366.7 343.2,1393.8 344.2,1420.9 342,1448 342.1,1475.1 341.4,1503.8 339.7,1532.6 337.3,1561.3 334.9,1590.1 335.7,1617.1 336.1,1644.1 336.1,1656.1 337,1660.5 339.5,1664.6 343.4,1668.1 348.6,1670.8 354.6,1672.5 361.1,1673.1 376,1673.1 382.5,1672.5 388.5,1670.8 393.7,1668.1 397.6,1664.6 400.1,1660.5 401,1656.1 401,1644.1 401.6,1617.1 401.5,1590.1 398.6,1561.3 396.7,1532.6 394.6,1503.8 392,1475.1 392.9,1448 391.3,1420.9 391.9,1393.8 390.2,1366.7 390.3,1339.6 389.8,1312.5 390,1285.4 389.5,1258.3 389.1,1231.2 388,1204.1 388,1179.1" fill="#686868"/><polygon points="232.8,1179.1 232.8,1204.1 231.5,1231.2 231.4,1258.3 231.1,1285.4 232.2,1312.5 232.1,1339.6 232.8,1366.7 231.6,1393.8 231.4,1420.9 230.9,1448 230.4,1475.1 228.1,1503.8 224.5,1532.6 220.7,1561.3 218,1590.1 218.4,1617.1 218.9,1644.1 218.9,1655.1 219.7,1659.2 221.9,1663.1 225.4,1666.4 229.9,1669 235.2,1670.6 240.9,1671.1 250,1671.1 255.7,1670.6 261,1669 265.5,1666.4 269,1663.1 271.2,1659.2 272,1655.1 272,1644.1 271.8,1617.1 270.8,1590.1 269.9,1561.3 269.5,1532.6 268.9,1503.8 269.1,1475.1 269.1,1448 268.1,1420.9 267.7,1393.8 266.4,1366.7 267.1,1339.6 266.2,1312.5 265,1285.4 265.3,1258.3 265.2,1231.2 264.3,1204.1 264.3,1179.1" fill="#808080"/><polygon points="350.7,1179.1 350.7,1204.1 350.8,1231.2 351.4,1258.3 349,1285.4 351.1,1312.5 348.9,1339.6 348,1366.7 349.2,1393.8 348.9,1420.9 348.1,1448 347,1475.1 346,1503.8 345.5,1532.6 340.9,1561.3 339.3,1590.1 340.1,1617.1 339.7,1644.1 339.7,1655.1 340.5,1659.2 342.6,1663.1 346.1,1666.4 350.7,1669 356,1670.6 361.7,1671.1 374,1671.1 379.7,1670.6 385,1669 389.5,1666.4 393,1663.1 395.2,1659.2 396,1655.1 396,1644.1 396.6,1617.1 396.6,1590.1 393.2,1561.3 390.9,1532.6 390,1503.8 386.9,1475.1 386.6,1448 386.8,1420.9 386.1,1393.8 385.8,1366.7 385.5,1339.6 383.9,1312.5 384.4,1285.4 384.5,1258.3 383.3,1231.2 383.3,1204.1 383.3,1179.1" fill="#808080"/><polygon points="239.8,1179.1 239.8,1204.1 238.3,1231.2 238.2,1258.3 236.9,1285.4 236.6,1312.5 235,1339.6 234.7,1366.7 235.2,1393.8 233.6,1420.9 234.2,1448 231.8,1475.1 229.4,1503.8 228.2,1532.6 228.1,1561.3 225.3,1590.1 225.5,1617.1 223.9,1644.1 223.9,1654.1 224.6,1658 226.5,1661.6 229.5,1664.7 233.4,1667.1 238,1668.6 242.9,1669.1 247.6,1669.1 252.5,1668.6 257.1,1667.1 261,1664.7 264.1,1661.6 266,1658 266.6,1654.1 266.6,1644.1 267.4,1617.1 266.6,1590.1 266.3,1561.3 265.9,1532.6 266.4,1503.8 266.2,1475.1 264.6,1448 263.8,1420.9 263.7,1393.8 262.9,1366.7 262.3,1339.6 261.1,1312.5 260.3,1285.4 260.1,1258.3 259.9,1231.2 258.5,1204.1 258.5,1179.1" fill="#a2a2a2"/><polygon points="357.7,1179.1 357.7,1204.1 356.3,1231.2 356.6,1258.3 356.6,1285.4 355.1,1312.5 355.8,1339.6 354.8,1366.7 354.8,1393.8 352.4,1420.9 352.9,1448 351.4,1475.1 349.2,1503.8 347.9,1532.6 348.7,1561.3 344.7,1590.1 345.4,1617.1 344.4,1644.1 344.4,1654.1 345,1658 346.9,1661.6 349.9,1664.7 353.9,1667.1 358.5,1668.6 363.4,1669.1 372.5,1669.1 377.4,1668.6 382,1667.1 385.9,1664.7 388.9,1661.6 390.8,1658 391.5,1654.1 391.5,1644.1 391.8,1617.1 391.9,1590.1 388.6,1561.3 387.1,1532.6 384.2,1503.8 382.1,1475.1 381.8,1448 381.5,1420.9 380.9,1393.8 381.2,1366.7 379.6,1339.6 379.3,1312.5 379.3,1285.4 378.7,1258.3 378,1231.2 377.5,1204.1 377.5,1179.1" fill="#a2a2a2"/><polygon points="242.3,1354.1 241.3,1384.3 237.8,1414.6 236.6,1444.8 234.8,1475.1 234.5,1503.8 233.6,1532.6 233.3,1561.3 228.6,1590.1 232,1617.1 229.7,1644.1 229.7,1652.1 230.2,1655.7 231.7,1659.1 234.1,1662 237.2,1664.2 240.8,1665.6 244.7,1666.1 247.2,1666.1 251.1,1665.6 254.7,1664.2 257.8,1662 260.2,1659.1 261.7,1655.7 262.2,1652.1 262.2,1644.1 262.8,1617.1 262.7,1590.1 262.1,1561.3 263.1,1532.6 261.1,1503.8 263.1,1475.1 260.6,1444.8 259.4,1414.6 258.8,1384.3 256.5,1354.1 243.3,1325.7" fill="#b9b9b9"/><polygon points="370.3,1265.1 366.9,1312.1 357.1,1363.1 357,1395.6 354.7,1428.1 352.9,1475.1 354.8,1503.8 352.7,1532.6 352.4,1561.3 351.3,1590.1 350.5,1617.1 352.8,1644.1 352.8,1652.1 353.3,1655.7 354.8,1659.1 357.2,1662 360.3,1664.2 363.9,1665.6 367.8,1666.1 372.4,1666.1 376.2,1665.6 379.9,1664.2 383,1662 385.3,1659.1 386.8,1655.7 387.4,1652.1 387.4,1644.1 387.8,1617.1 387.1,1590.1 385.7,1561.3 383.6,1532.6 380,1503.8 379.7,1475.1 378.4,1428.1 376,1395.6 377.1,1363.1 375,1312.1 373.1,1265.1 372.8,1233.5" fill="#b9b9b9"/><polygon points="240.3,1504.1 240.4,1517.4 239,1530.8 238.9,1544.1 237.3,1559.4 237.3,1574.8 232.9,1590.1 239.1,1603.6 234.6,1617.1 239,1630.6 234.7,1644.1 234.7,1650.6 235,1653.4 236,1656.1 237.6,1658.4 239.7,1660.1 242.1,1661.2 244.7,1661.6 250.7,1661.6 253.2,1661.2 255.7,1660.1 257.7,1658.4 259.3,1656.1 260.3,1653.4 260.7,1650.6 260.7,1644.1 257.3,1630.6 260,1617.1 258,1603.6 259.8,1590.1 256.2,1574.8 259.2,1559.4 256.6,1544.1 257.7,1530.8 256.9,1517.4 257.1,1504.1 243.3,1480.3" fill="#d1d1d1"/><polygon points="362.3,1504.1 360.8,1517.4 362.4,1530.8 359.9,1544.1 358.3,1559.4 357.1,1574.8 353.1,1590.1 359.6,1603.6 355,1617.1 356.6,1630.6 353.1,1644.1 353.1,1650.6 353.4,1653.4 354.4,1656.1 356,1658.4 358.1,1660.1 360.5,1661.2 363.1,1661.6 373.3,1661.6 375.9,1661.2 378.3,1660.1 380.4,1658.4 381.9,1656.1 382.9,1653.4 383.3,1650.6 383.3,1644.1 380.4,1630.6 384.4,1617.1 380,1603.6 384.1,1590.1 380.9,1574.8 382.5,1559.4 379,1544.1 379.3,1530.8 378.4,1517.4 378.3,1504.1 372.8,1471" fill="#d1d1d1"/><polygon points="239.5,1522.1 243.7,1535.7 239.7,1549.3 243.4,1562.9 238.4,1576.5 241.7,1590.1 237.8,1603.6 240.9,1617.1 239.7,1630.6 242.9,1644.1 242.9,1647.6 243.1,1649.9 243.5,1652.1 244.3,1654 245.2,1655.4 246.4,1656.3 247.6,1656.6 247.6,1656.6 248.8,1656.3 249.9,1655.4 250.9,1654 251.6,1652.1 252.1,1649.9 252.3,1647.6 252.3,1644.1 256,1630.6 250.7,1617.1 254.2,1603.6 251.6,1590.1 253.9,1576.5 250.9,1562.9 256.4,1549.3 253.1,1535.7 254.5,1522.1 245.4,1507.1" fill="#e8e8e8"/><polygon points="366,1520.1 364,1534.1 362.4,1548.1 364.6,1562.1 361.9,1576.1 365,1590.1 361.2,1603.6 364.3,1617.1 359.1,1630.6 363.9,1644.1 363.9,1647.6 364.1,1649.9 364.7,1652.1 365.6,1654 366.9,1655.4 368.3,1656.3 369.9,1656.6 370.5,1656.6 372,1656.3 373.5,1655.4 374.7,1654 375.7,1652.1 376.3,1649.9 376.5,1647.6 376.5,1644.1 379.2,1630.6 374.7,1617.1 379.2,1603.6 374.7,1590.1 378.4,1576.1 374.1,1562.1 378.9,1548.1 376.8,1534.1 375.5,1520.1 371.9,1503.7" fill="#e8e8e8"/><rect x="129.4" y="1174.1" width="383.2" height="576.4" fill="url(#core02)" style="mix-blend-mode:darken"/></g><g clip-path="url(#l02)"><g fill="none" stroke-width="2.25" stroke-linejoin="round" opacity=".97" filter="url(#soft)"><path d="M200.2 1179.1 L200.2 1204.1 L203.8 1234.1 L200 1264.1 L200.6 1294.1 L199.2 1324.1 L202 1354.1 L201.9 1384.3 L197.6 1414.6 L198.9 1444.8 L198.8 1475.1 L196.2 1504.6 L193.3 1534.1 L188.4 1562.1 L185.5 1590.1 L188.9 1617.1 L188.1 1644.1 L188.1 1658.9 L189.2 1664.6 L192.6 1669.9 L198 1674.5 L205.1 1678 L213.3 1680.2 L222.1 1680.9 L260.3 1680.9 L269.1 1680.2 L277.3 1678 L284.4 1674.5 L289.8 1669.9 L293.2 1664.6 L294.3 1658.9 L294.3 1644.1 L293.3 1617.1 L294 1590.1 L290.6 1562.1 L292.1 1534.1 L289.2 1504.6 L290.7 1475.1 L289.9 1444.8 L290.7 1414.6 L291.1 1384.3 L290.1 1354.1 L291.1 1324.1 L291.3 1294.1 L290.6 1264.1 L293.6 1234.1 L292.3 1204.1 L292.3 1179.1Z" stroke="#0000dc"/><path d="M322.7 1179.1 L322.7 1204.1 L321.7 1231.2 L321.9 1258.3 L320.9 1285.4 L321.9 1312.5 L322.7 1339.6 L320.6 1366.7 L320 1393.8 L321.8 1420.9 L321.5 1448 L322.8 1475.1 L321.5 1503.8 L318.3 1532.6 L317 1561.3 L315.7 1590.1 L313.6 1617.1 L319 1644.1 L319 1658.9 L320.2 1664.6 L323.6 1669.9 L329 1674.5 L336 1678 L344.2 1680.2 L353 1680.9 L386.5 1680.9 L395.3 1680.2 L403.5 1678 L410.5 1674.5 L415.9 1669.9 L419.3 1664.6 L420.5 1658.9 L420.5 1644.1 L420.1 1617.1 L420.5 1590.1 L419.5 1561.3 L418.4 1532.6 L417 1503.8 L415.7 1475.1 L413.7 1448 L412.1 1420.9 L411.9 1393.8 L412.3 1366.7 L411.1 1339.6 L412.7 1312.5 L409.9 1285.4 L410 1258.3 L408.5 1231.2 L409 1204.1 L409 1179.1Z" stroke="#0000dc"/><path d="M213 1179.1 L213 1204.1 L213.2 1231.2 L211.6 1258.3 L211.7 1285.4 L211.5 1312.5 L211.5 1339.6 L212.8 1366.7 L212.7 1393.8 L213.2 1420.9 L212.6 1448 L212.8 1475.1 L209.3 1503.8 L206.4 1532.6 L203.2 1561.3 L199.3 1590.1 L200.4 1617.1 L200 1644.1 L200 1658.1 L201 1663.3 L204 1668.1 L208.8 1672.2 L215 1675.4 L222.2 1677.4 L230 1678.1 L256.1 1678.1 L263.8 1677.4 L271.1 1675.4 L277.3 1672.2 L282.1 1668.1 L285.1 1663.3 L286.1 1658.1 L286.1 1644.1 L286.4 1617.1 L285.7 1590.1 L284.5 1561.3 L284.5 1532.6 L285.2 1503.8 L284.6 1475.1 L283.7 1448 L283.8 1420.9 L282.4 1393.8 L282.4 1366.7 L282.6 1339.6 L281.5 1312.5 L280.2 1285.4 L279.9 1258.3 L279.2 1231.2 L279.5 1204.1 L279.5 1179.1Z" stroke="#003aff"/><path d="M330.8 1179.1 L330.8 1204.1 L330.8 1231.2 L330 1258.3 L329.6 1285.4 L331.2 1312.5 L330.6 1339.6 L330 1366.7 L331.2 1393.8 L330.2 1420.9 L332.1 1448 L329.6 1475.1 L328.2 1503.8 L328 1532.6 L325.5 1561.3 L325.5 1590.1 L324.3 1617.1 L325.5 1644.1 L325.5 1658.1 L326.5 1663.3 L329.5 1668.1 L334.3 1672.2 L340.5 1675.4 L347.8 1677.4 L355.5 1678.1 L381.6 1678.1 L389.4 1677.4 L396.6 1675.4 L402.9 1672.2 L407.6 1668.1 L410.6 1663.3 L411.6 1658.1 L411.6 1644.1 L410.9 1617.1 L412 1590.1 L409.1 1561.3 L408.4 1532.6 L406.8 1503.8 L403.6 1475.1 L403.8 1448 L403.9 1420.9 L403.2 1393.8 L403.3 1366.7 L401.8 1339.6 L401.6 1312.5 L402.5 1285.4 L401 1258.3 L401.1 1231.2 L400.8 1204.1 L400.8 1179.1Z" stroke="#003aff"/><path d="M221.2 1179.1 L221.2 1204.1 L221.6 1231.2 L221.4 1258.3 L220 1285.4 L221.3 1312.5 L221.1 1339.6 L221.1 1366.7 L218.7 1393.8 L220.2 1420.9 L219.6 1448 L218.2 1475.1 L216.9 1503.8 L212.2 1532.6 L211.1 1561.3 L206.6 1590.1 L206.7 1617.1 L206.9 1644.1 L206.9 1657.6 L207.9 1662.3 L210.6 1666.6 L214.9 1670.3 L220.4 1673.2 L227 1675 L233.9 1675.6 L254.4 1675.6 L261.3 1675 L267.9 1673.2 L273.5 1670.3 L277.7 1666.6 L280.4 1662.3 L281.4 1657.6 L281.4 1644.1 L280.3 1617.1 L280.6 1590.1 L279.8 1561.3 L280.1 1532.6 L278.2 1503.8 L278.9 1475.1 L277.9 1448 L278.4 1420.9 L276.8 1393.8 L276.7 1366.7 L277.1 1339.6 L275.6 1312.5 L275.7 1285.4 L274.9 1258.3 L274.9 1231.2 L274.8 1204.1 L274.8 1179.1Z" stroke="#0097ff"/><path d="M339 1179.1 L339 1204.1 L338.3 1231.2 L339.1 1258.3 L337 1285.4 L338.8 1312.5 L337.9 1339.6 L339 1366.7 L338.3 1393.8 L337.1 1420.9 L338 1448 L335.5 1475.1 L335.3 1503.8 L332.9 1532.6 L332.3 1561.3 L331.1 1590.1 L330.9 1617.1 L329.7 1644.1 L329.7 1657.6 L330.6 1662.3 L333.3 1666.6 L337.6 1670.3 L343.2 1673.2 L349.7 1675 L356.7 1675.6 L379.5 1675.6 L386.5 1675 L393 1673.2 L398.6 1670.3 L402.9 1666.6 L405.6 1662.3 L406.5 1657.6 L406.5 1644.1 L405.2 1617.1 L405.3 1590.1 L403.6 1561.3 L401.3 1532.6 L398.6 1503.8 L396.6 1475.1 L396.9 1448 L395.9 1420.9 L395.5 1393.8 L395.9 1366.7 L395 1339.6 L394.9 1312.5 L394.1 1285.4 L395.1 1258.3 L394.9 1231.2 L393.8 1204.1 L393.8 1179.1Z" stroke="#0097ff"/><path d="M227 1179.1 L227 1204.1 L225.4 1231.2 L226.4 1258.3 L226.8 1285.4 L226.3 1312.5 L225.5 1339.6 L225.5 1366.7 L225.7 1393.8 L224.4 1420.9 L224.3 1448 L225.9 1475.1 L220.8 1503.8 L219 1532.6 L214.6 1561.3 L211.6 1590.1 L213.1 1617.1 L211.4 1644.1 L211.4 1656.1 L212.3 1660.5 L214.8 1664.6 L218.7 1668.1 L223.9 1670.8 L230 1672.5 L236.4 1673.1 L252.4 1673.1 L258.9 1672.5 L264.9 1670.8 L270.1 1668.1 L274.1 1664.6 L276.6 1660.5 L277.4 1656.1 L277.4 1644.1 L275.6 1617.1 L275.6 1590.1 L275.3 1561.3 L275 1532.6 L274.6 1503.8 L273.3 1475.1 L273.2 1448 L273.5 1420.9 L272 1393.8 L272.1 1366.7 L271.2 1339.6 L271.9 1312.5 L271.7 1285.4 L270.3 1258.3 L269.8 1231.2 L270.2 1204.1 L270.2 1179.1Z" stroke="#00f3ff"/><path d="M344.8 1179.1 L344.8 1204.1 L344.5 1231.2 L343.4 1258.3 L342.8 1285.4 L344.4 1312.5 L344.1 1339.6 L344.2 1366.7 L343.2 1393.8 L344.2 1420.9 L342 1448 L342.1 1475.1 L341.4 1503.8 L339.7 1532.6 L337.3 1561.3 L334.9 1590.1 L335.7 1617.1 L336.1 1644.1 L336.1 1656.1 L337 1660.5 L339.5 1664.6 L343.4 1668.1 L348.6 1670.8 L354.6 1672.5 L361.1 1673.1 L376 1673.1 L382.5 1672.5 L388.5 1670.8 L393.7 1668.1 L397.6 1664.6 L400.1 1660.5 L401 1656.1 L401 1644.1 L401.6 1617.1 L401.5 1590.1 L398.6 1561.3 L396.7 1532.6 L394.6 1503.8 L392 1475.1 L392.9 1448 L391.3 1420.9 L391.9 1393.8 L390.2 1366.7 L390.3 1339.6 L389.8 1312.5 L390 1285.4 L389.5 1258.3 L389.1 1231.2 L388 1204.1 L388 1179.1Z" stroke="#00f3ff"/><path d="M232.8 1179.1 L232.8 1204.1 L231.5 1231.2 L231.4 1258.3 L231.1 1285.4 L232.2 1312.5 L232.1 1339.6 L232.8 1366.7 L231.6 1393.8 L231.4 1420.9 L230.9 1448 L230.4 1475.1 L228.1 1503.8 L224.5 1532.6 L220.7 1561.3 L218 1590.1 L218.4 1617.1 L218.9 1644.1 L218.9 1655.1 L219.7 1659.2 L221.9 1663.1 L225.4 1666.4 L229.9 1669 L235.2 1670.6 L240.9 1671.1 L250 1671.1 L255.7 1670.6 L261 1669 L265.5 1666.4 L269 1663.1 L271.2 1659.2 L272 1655.1 L272 1644.1 L271.8 1617.1 L270.8 1590.1 L269.9 1561.3 L269.5 1532.6 L268.9 1503.8 L269.1 1475.1 L269.1 1448 L268.1 1420.9 L267.7 1393.8 L266.4 1366.7 L267.1 1339.6 L266.2 1312.5 L265 1285.4 L265.3 1258.3 L265.2 1231.2 L264.3 1204.1 L264.3 1179.1Z" stroke="#51ffae"/><path d="M350.7 1179.1 L350.7 1204.1 L350.8 1231.2 L351.4 1258.3 L349 1285.4 L351.1 1312.5 L348.9 1339.6 L348 1366.7 L349.2 1393.8 L348.9 1420.9 L348.1 1448 L347 1475.1 L346 1503.8 L345.5 1532.6 L340.9 1561.3 L339.3 1590.1 L340.1 1617.1 L339.7 1644.1 L339.7 1655.1 L340.5 1659.2 L342.6 1663.1 L346.1 1666.4 L350.7 1669 L356 1670.6 L361.7 1671.1 L374 1671.1 L379.7 1670.6 L385 1669 L389.5 1666.4 L393 1663.1 L395.2 1659.2 L396 1655.1 L396 1644.1 L396.6 1617.1 L396.6 1590.1 L393.2 1561.3 L390.9 1532.6 L390 1503.8 L386.9 1475.1 L386.6 1448 L386.8 1420.9 L386.1 1393.8 L385.8 1366.7 L385.5 1339.6 L383.9 1312.5 L384.4 1285.4 L384.5 1258.3 L383.3 1231.2 L383.3 1204.1 L383.3 1179.1Z" stroke="#51ffae"/><path d="M239.8 1179.1 L239.8 1204.1 L238.3 1231.2 L238.2 1258.3 L236.9 1285.4 L236.6 1312.5 L235 1339.6 L234.7 1366.7 L235.2 1393.8 L233.6 1420.9 L234.2 1448 L231.8 1475.1 L229.4 1503.8 L228.2 1532.6 L228.1 1561.3 L225.3 1590.1 L225.5 1617.1 L223.9 1644.1 L223.9 1654.1 L224.6 1658 L226.5 1661.6 L229.5 1664.7 L233.4 1667.1 L238 1668.6 L242.9 1669.1 L247.6 1669.1 L252.5 1668.6 L257.1 1667.1 L261 1664.7 L264.1 1661.6 L266 1658 L266.6 1654.1 L266.6 1644.1 L267.4 1617.1 L266.6 1590.1 L266.3 1561.3 L265.9 1532.6 L266.4 1503.8 L266.2 1475.1 L264.6 1448 L263.8 1420.9 L263.7 1393.8 L262.9 1366.7 L262.3 1339.6 L261.1 1312.5 L260.3 1285.4 L260.1 1258.3 L259.9 1231.2 L258.5 1204.1 L258.5 1179.1Z" stroke="#aeff51"/><path d="M357.7 1179.1 L357.7 1204.1 L356.3 1231.2 L356.6 1258.3 L356.6 1285.4 L355.1 1312.5 L355.8 1339.6 L354.8 1366.7 L354.8 1393.8 L352.4 1420.9 L352.9 1448 L351.4 1475.1 L349.2 1503.8 L347.9 1532.6 L348.7 1561.3 L344.7 1590.1 L345.4 1617.1 L344.4 1644.1 L344.4 1654.1 L345 1658 L346.9 1661.6 L349.9 1664.7 L353.9 1667.1 L358.5 1668.6 L363.4 1669.1 L372.5 1669.1 L377.4 1668.6 L382 1667.1 L385.9 1664.7 L388.9 1661.6 L390.8 1658 L391.5 1654.1 L391.5 1644.1 L391.8 1617.1 L391.9 1590.1 L388.6 1561.3 L387.1 1532.6 L384.2 1503.8 L382.1 1475.1 L381.8 1448 L381.5 1420.9 L380.9 1393.8 L381.2 1366.7 L379.6 1339.6 L379.3 1312.5 L379.3 1285.4 L378.7 1258.3 L378 1231.2 L377.5 1204.1 L377.5 1179.1Z" stroke="#aeff51"/><path d="M242.3 1354.1 L241.3 1384.3 L237.8 1414.6 L236.6 1444.8 L234.8 1475.1 L234.5 1503.8 L233.6 1532.6 L233.3 1561.3 L228.6 1590.1 L232 1617.1 L229.7 1644.1 L229.7 1652.1 L230.2 1655.7 L231.7 1659.1 L234.1 1662 L237.2 1664.2 L240.8 1665.6 L244.7 1666.1 L247.2 1666.1 L251.1 1665.6 L254.7 1664.2 L257.8 1662 L260.2 1659.1 L261.7 1655.7 L262.2 1652.1 L262.2 1644.1 L262.8 1617.1 L262.7 1590.1 L262.1 1561.3 L263.1 1532.6 L261.1 1503.8 L263.1 1475.1 L260.6 1444.8 L259.4 1414.6 L258.8 1384.3 L256.5 1354.1 L243.3 1325.7Z" stroke="#fff300"/><path d="M370.3 1265.1 L366.9 1312.1 L357.1 1363.1 L357 1395.6 L354.7 1428.1 L352.9 1475.1 L354.8 1503.8 L352.7 1532.6 L352.4 1561.3 L351.3 1590.1 L350.5 1617.1 L352.8 1644.1 L352.8 1652.1 L353.3 1655.7 L354.8 1659.1 L357.2 1662 L360.3 1664.2 L363.9 1665.6 L367.8 1666.1 L372.4 1666.1 L376.2 1665.6 L379.9 1664.2 L383 1662 L385.3 1659.1 L386.8 1655.7 L387.4 1652.1 L387.4 1644.1 L387.8 1617.1 L387.1 1590.1 L385.7 1561.3 L383.6 1532.6 L380 1503.8 L379.7 1475.1 L378.4 1428.1 L376 1395.6 L377.1 1363.1 L375 1312.1 L373.1 1265.1 L372.8 1233.5Z" stroke="#fff300"/><path d="M240.3 1504.1 L240.4 1517.4 L239 1530.8 L238.9 1544.1 L237.3 1559.4 L237.3 1574.8 L232.9 1590.1 L239.1 1603.6 L234.6 1617.1 L239 1630.6 L234.7 1644.1 L234.7 1650.6 L235 1653.4 L236 1656.1 L237.6 1658.4 L239.7 1660.1 L242.1 1661.2 L244.7 1661.6 L250.7 1661.6 L253.2 1661.2 L255.7 1660.1 L257.7 1658.4 L259.3 1656.1 L260.3 1653.4 L260.7 1650.6 L260.7 1644.1 L257.3 1630.6 L260 1617.1 L258 1603.6 L259.8 1590.1 L256.2 1574.8 L259.2 1559.4 L256.6 1544.1 L257.7 1530.8 L256.9 1517.4 L257.1 1504.1 L243.3 1480.3Z" stroke="#ff9700"/><path d="M362.3 1504.1 L360.8 1517.4 L362.4 1530.8 L359.9 1544.1 L358.3 1559.4 L357.1 1574.8 L353.1 1590.1 L359.6 1603.6 L355 1617.1 L356.6 1630.6 L353.1 1644.1 L353.1 1650.6 L353.4 1653.4 L354.4 1656.1 L356 1658.4 L358.1 1660.1 L360.5 1661.2 L363.1 1661.6 L373.3 1661.6 L375.9 1661.2 L378.3 1660.1 L380.4 1658.4 L381.9 1656.1 L382.9 1653.4 L383.3 1650.6 L383.3 1644.1 L380.4 1630.6 L384.4 1617.1 L380 1603.6 L384.1 1590.1 L380.9 1574.8 L382.5 1559.4 L379 1544.1 L379.3 1530.8 L378.4 1517.4 L378.3 1504.1 L372.8 1471Z" stroke="#ff9700"/><path d="M239.5 1522.1 L243.7 1535.7 L239.7 1549.3 L243.4 1562.9 L238.4 1576.5 L241.7 1590.1 L237.8 1603.6 L240.9 1617.1 L239.7 1630.6 L242.9 1644.1 L242.9 1647.6 L243.1 1649.9 L243.5 1652.1 L244.3 1654 L245.2 1655.4 L246.4 1656.3 L247.6 1656.6 L247.6 1656.6 L248.8 1656.3 L249.9 1655.4 L250.9 1654 L251.6 1652.1 L252.1 1649.9 L252.3 1647.6 L252.3 1644.1 L256 1630.6 L250.7 1617.1 L254.2 1603.6 L251.6 1590.1 L253.9 1576.5 L250.9 1562.9 L256.4 1549.3 L253.1 1535.7 L254.5 1522.1 L245.4 1507.1Z" stroke="#ff3a00"/><path d="M366 1520.1 L364 1534.1 L362.4 1548.1 L364.6 1562.1 L361.9 1576.1 L365 1590.1 L361.2 1603.6 L364.3 1617.1 L359.1 1630.6 L363.9 1644.1 L363.9 1647.6 L364.1 1649.9 L364.7 1652.1 L365.6 1654 L366.9 1655.4 L368.3 1656.3 L369.9 1656.6 L370.5 1656.6 L372 1656.3 L373.5 1655.4 L374.7 1654 L375.7 1652.1 L376.3 1649.9 L376.5 1647.6 L376.5 1644.1 L379.2 1630.6 L374.7 1617.1 L379.2 1603.6 L374.7 1590.1 L378.4 1576.1 L374.1 1562.1 L378.9 1548.1 L376.8 1534.1 L375.5 1520.1 L371.9 1503.7Z" stroke="#ff3a00"/><circle cx="245" cy="1557" r="2.4" stroke="#ff0f00" stroke-width="1.6"/><circle cx="245" cy="1584" r="2.4" stroke="#ff0f00" stroke-width="1.6"/><circle cx="245" cy="1611" r="2.4" stroke="#ff0f00" stroke-width="1.6"/><circle cx="245" cy="1637" r="2.4" stroke="#ff0f00" stroke-width="1.6"/><circle cx="371.1" cy="1557" r="2.4" stroke="#ff0f00" stroke-width="1.6"/><circle cx="371.1" cy="1584" r="2.4" stroke="#ff0f00" stroke-width="1.6"/><circle cx="371.1" cy="1611" r="2.4" stroke="#ff0f00" stroke-width="1.6"/><circle cx="371.1" cy="1637" r="2.4" stroke="#ff0f00" stroke-width="1.6"/></g></g><rect x="264.2" y="1513.8" width="88.3" height="143" rx="7" ry="7" fill="none" stroke="#a070c8" stroke-width="1.3" opacity=".6"/><path d="M157.4 1722.5L157.4 1656.6L173.3 1656.6L173.3 1669.6L199 1669.6L199 1682.5L212 1682.5L212 1695.4L289.5 1695.4L289.5 1682.5L327.3 1682.5L327.3 1695.4L406.7 1695.4L406.7 1682.5L431.2 1682.5L431.2 1694.3L444 1694.3L444 1669.6L472 1669.6L472 1656.6L484.6 1656.6L484.6 1722.5Z" fill="#000"/><rect x="406.7" y="1695.4" width="11.8" height="11.8" fill="#040462"/></g>
<g clip-path="url(#c12)"><g filter="url(#jet)"><rect x="592" y="1174.1" width="383.2" height="576.4" fill="#060606"/><polygon points="653.8,1179.1 653.8,1204.1 654.9,1249.1 656,1294.1 652.7,1354.1 652,1394.4 651.2,1434.8 650.4,1475.1 642.5,1534.1 635,1590.1 634.1,1644.1 634.1,1658.9 635.5,1665.9 639.5,1672.4 645.8,1678 654.1,1682.3 663.7,1685 674.1,1685.9 727.6,1685.9 738,1685 747.6,1682.3 755.9,1678 762.2,1672.4 766.2,1665.9 767.6,1658.9 767.6,1644.1 766.8,1590.1 764.9,1534.1 763.3,1475.1 763.2,1434.8 763.2,1394.4 763.1,1354.1 763,1294.1 763,1249.1 762.9,1204.1 762.9,1179.1" fill="#0f0f0f"/><polygon points="776.3,1179.1 776.3,1204.1 775.5,1249.3 774.8,1294.4 774,1339.6 773.2,1384.8 772.5,1429.9 771.7,1475.1 768.6,1532.6 765.6,1590.1 764.6,1644.1 764.6,1658.9 766,1665.9 770,1672.4 776.3,1678 784.6,1682.3 794.2,1685 804.6,1685.9 856.1,1685.9 866.5,1685 876.1,1682.3 884.4,1678 890.7,1672.4 894.7,1665.9 896.1,1658.9 896.1,1644.1 895.2,1590.1 891.6,1532.6 888.1,1475.1 886.7,1429.9 885.3,1384.8 883.9,1339.6 882.4,1294.4 881,1249.3 879.6,1204.1 879.6,1179.1" fill="#0f0f0f"/><polygon points="662.8,1179.1 662.8,1204.1 663.9,1234.1 665.8,1264.1 665.5,1294.1 663.6,1324.1 663.4,1354.1 664.5,1384.3 663,1414.6 663.4,1444.8 663.1,1475.1 658.6,1504.6 655.1,1534.1 651.2,1562.1 650.1,1590.1 647.1,1617.1 648.7,1644.1 648.7,1658.9 649.8,1664.6 653.2,1669.9 658.6,1674.5 665.7,1678 673.9,1680.2 682.7,1680.9 722.1,1680.9 730.9,1680.2 739.1,1678 746.1,1674.5 751.5,1669.9 754.9,1664.6 756.1,1658.9 756.1,1644.1 754.7,1617.1 754.4,1590.1 755.1,1562.1 753,1534.1 752.7,1504.6 752.2,1475.1 753,1444.8 752.7,1414.6 753,1384.3 753,1354.1 754.3,1324.1 753.6,1294.1 754.4,1264.1 754.8,1234.1 754.9,1204.1 754.9,1179.1" fill="#232323"/><polygon points="785.3,1179.1 785.3,1204.1 785.6,1231.2 784.4,1258.3 786,1285.4 783.4,1312.5 786.1,1339.6 785.5,1366.7 785.2,1393.8 783,1420.9 783.1,1448 785.4,1475.1 783.8,1503.8 782.1,1532.6 781.8,1561.3 780.3,1590.1 778.6,1617.1 778.7,1644.1 778.7,1658.9 779.9,1664.6 783.3,1669.9 788.7,1674.5 795.7,1678 803.9,1680.2 812.7,1680.9 850.6,1680.9 859.4,1680.2 867.6,1678 874.7,1674.5 880.1,1669.9 883.5,1664.6 884.6,1658.9 884.6,1644.1 882.9,1617.1 882.6,1590.1 882.5,1561.3 880.9,1532.6 879,1503.8 877.6,1475.1 876.4,1448 875.5,1420.9 875.6,1393.8 875.2,1366.7 874.3,1339.6 873.9,1312.5 874.1,1285.4 873.3,1258.3 873,1231.2 871.6,1204.1 871.6,1179.1" fill="#232323"/><polygon points="675.6,1179.1 675.6,1204.1 675.9,1231.2 675.5,1258.3 675.3,1285.4 675.7,1312.5 675.4,1339.6 674.4,1366.7 674.8,1393.8 674.5,1420.9 675,1448 674.4,1475.1 671.5,1503.8 669,1532.6 665.8,1561.3 663.4,1590.1 661.6,1617.1 661.5,1644.1 661.5,1658.1 662.6,1663.3 665.6,1668.1 670.3,1672.2 676.5,1675.4 683.8,1677.4 691.5,1678.1 718.8,1678.1 726.5,1677.4 733.8,1675.4 740,1672.2 744.7,1668.1 747.7,1663.3 748.8,1658.1 748.8,1644.1 748,1617.1 748.1,1590.1 747.6,1561.3 747,1532.6 747,1503.8 747.1,1475.1 746,1448 745.5,1420.9 745.7,1393.8 744.8,1366.7 744.3,1339.6 743.7,1312.5 743.8,1285.4 743,1258.3 742.5,1231.2 742.1,1204.1 742.1,1179.1" fill="#3a3a3a"/><polygon points="793.4,1179.1 793.4,1204.1 793.3,1231.2 793.2,1258.3 793.4,1285.4 793.9,1312.5 793.7,1339.6 793.7,1366.7 793.7,1393.8 793.2,1420.9 793.1,1448 793.2,1475.1 791.4,1503.8 790.9,1532.6 788.5,1561.3 787.1,1590.1 786.9,1617.1 787.5,1644.1 787.5,1658.1 788.5,1663.3 791.5,1668.1 796.3,1672.2 802.5,1675.4 809.7,1677.4 817.5,1678.1 844.8,1678.1 852.6,1677.4 859.8,1675.4 866,1672.2 870.8,1668.1 873.8,1663.3 874.8,1658.1 874.8,1644.1 874,1617.1 874.1,1590.1 872,1561.3 870.2,1532.6 868.6,1503.8 867.1,1475.1 866.3,1448 865.9,1420.9 866.2,1393.8 865.7,1366.7 865.3,1339.6 865.2,1312.5 864.6,1285.4 863.8,1258.3 864.1,1231.2 863.4,1204.1 863.4,1179.1" fill="#3a3a3a"/><polygon points="683.8,1179.1 683.8,1204.1 683.6,1231.2 683.7,1258.3 683.7,1285.4 682.9,1312.5 682.8,1339.6 681.8,1366.7 681.9,1393.8 681.8,1420.9 681.8,1448 682,1475.1 678.5,1503.8 675.7,1532.6 673,1561.3 669.4,1590.1 669.1,1617.1 668.4,1644.1 668.4,1657.6 669.4,1662.3 672,1666.6 676.3,1670.3 681.9,1673.2 688.4,1675 695.4,1675.6 716.9,1675.6 723.9,1675 730.4,1673.2 736,1670.3 740.3,1666.6 743,1662.3 743.9,1657.6 743.9,1644.1 743.5,1617.1 743.2,1590.1 743.1,1561.3 742.3,1532.6 741.3,1503.8 741.1,1475.1 740.6,1448 740.1,1420.9 740.1,1393.8 739.5,1366.7 739,1339.6 738.8,1312.5 738.2,1285.4 738.2,1258.3 737.6,1231.2 737.4,1204.1 737.4,1179.1" fill="#515151"/><polygon points="801.6,1179.1 801.6,1204.1 800.9,1231.2 801.4,1258.3 801.5,1285.4 800.7,1312.5 800.7,1339.6 800.3,1366.7 799.8,1393.8 799.9,1420.9 799.2,1448 799.1,1475.1 797.4,1503.8 796.1,1532.6 795,1561.3 793.6,1590.1 793.6,1617.1 792.9,1644.1 792.9,1657.6 793.8,1662.3 796.5,1666.6 800.8,1670.3 806.4,1673.2 812.9,1675 819.9,1675.6 841.7,1675.6 848.7,1675 855.2,1673.2 860.8,1670.3 865.1,1666.6 867.8,1662.3 868.7,1657.6 868.7,1644.1 868.5,1617.1 867.8,1590.1 866.3,1561.3 863.9,1532.6 861.6,1503.8 859.5,1475.1 859.2,1448 859.1,1420.9 859.1,1393.8 858.6,1366.7 858.2,1339.6 857.9,1312.5 857.5,1285.4 857.2,1258.3 856.6,1231.2 856.4,1204.1 856.4,1179.1" fill="#515151"/><polygon points="689.6,1179.1 689.6,1204.1 689.7,1231.2 688.7,1258.3 689.4,1285.4 689,1312.5 688.8,1339.6 687.8,1366.7 687.4,1393.8 687.3,1420.9 687.6,1448 687.4,1475.1 684.2,1503.8 681.2,1532.6 678.3,1561.3 675.1,1590.1 675,1617.1 674.2,1644.1 674.2,1656.1 675.1,1660.5 677.6,1664.6 681.5,1668.1 686.7,1670.8 692.8,1672.5 699.2,1673.1 714.5,1673.1 720.9,1672.5 727,1670.8 732.1,1668.1 736.1,1664.6 738.6,1660.5 739.5,1656.1 739.5,1644.1 738.6,1617.1 738.4,1590.1 738.3,1561.3 737.6,1532.6 736.9,1503.8 736.6,1475.1 736.2,1448 735.8,1420.9 735.5,1393.8 734.8,1366.7 734.3,1339.6 733.9,1312.5 734,1285.4 733.8,1258.3 732.9,1231.2 732.8,1204.1 732.8,1179.1" fill="#686868"/><polygon points="807.4,1179.1 807.4,1204.1 807.3,1231.2 807.2,1258.3 806.1,1285.4 806.7,1312.5 805.9,1339.6 806.6,1366.7 805.5,1393.8 805.6,1420.9 805.4,1448 805.3,1475.1 803.1,1503.8 801.9,1532.6 799.4,1561.3 798.3,1590.1 797.5,1617.1 797.1,1644.1 797.1,1656.1 797.9,1660.5 800.4,1664.6 804.4,1668.1 809.6,1670.8 815.6,1672.5 822.1,1673.1 839,1673.1 845.4,1672.5 851.5,1670.8 856.6,1668.1 860.6,1664.6 863.1,1660.5 864,1656.1 864,1644.1 863.6,1617.1 863.3,1590.1 861.2,1561.3 859.1,1532.6 857.2,1503.8 855.3,1475.1 855.1,1448 854.7,1420.9 853.8,1393.8 853.2,1366.7 853.1,1339.6 852.7,1312.5 852,1285.4 851.4,1258.3 851.4,1231.2 850.6,1204.1 850.6,1179.1" fill="#686868"/><polygon points="695.4,1179.1 695.4,1204.1 694.9,1231.2 694.4,1258.3 695,1285.4 694,1312.5 694.8,1339.6 694.6,1366.7 693.2,1393.8 693.7,1420.9 693.2,1448 692.8,1475.1 690.5,1503.8 686.7,1532.6 684.4,1561.3 680.9,1590.1 680.5,1617.1 680.3,1644.1 680.3,1655.1 681.1,1659.2 683.3,1663.1 686.8,1666.4 691.3,1669 696.6,1670.6 702.3,1671.1 713,1671.1 718.6,1670.6 724,1669 728.5,1666.4 732,1663.1 734.2,1659.2 735,1655.1 735,1644.1 734.1,1617.1 733.9,1590.1 733,1561.3 733,1532.6 732.6,1503.8 731.2,1475.1 731,1448 730.5,1420.9 730.1,1393.8 730.1,1366.7 729.2,1339.6 728.7,1312.5 728.6,1285.4 728.1,1258.3 727,1231.2 726.9,1204.1 726.9,1179.1" fill="#808080"/><polygon points="813.3,1179.1 813.3,1204.1 813.3,1231.2 813.3,1258.3 812.9,1285.4 812.5,1312.5 812.5,1339.6 811.8,1366.7 811.5,1393.8 811,1420.9 811.5,1448 811.2,1475.1 809.5,1503.8 807.2,1532.6 804.7,1561.3 802.6,1590.1 802.3,1617.1 802.1,1644.1 802.1,1655.1 802.9,1659.2 805.1,1663.1 808.6,1666.4 813.1,1669 818.4,1670.6 824.1,1671.1 837.6,1671.1 843.3,1670.6 848.6,1669 853.2,1666.4 856.7,1663.1 858.8,1659.2 859.6,1655.1 859.6,1644.1 859.4,1617.1 858.9,1590.1 856.2,1561.3 854.4,1532.6 851.7,1503.8 849.5,1475.1 848.8,1448 848.9,1420.9 848.6,1393.8 847.7,1366.7 847.6,1339.6 847.5,1312.5 847.1,1285.4 846.6,1258.3 846,1231.2 845.9,1204.1 845.9,1179.1" fill="#808080"/><polygon points="702.4,1179.1 702.4,1204.1 701.9,1231.2 701,1258.3 700.3,1285.4 699.3,1312.5 698.7,1339.6 698,1366.7 698,1393.8 696.7,1420.9 696.2,1448 694.9,1475.1 693.5,1503.8 691.7,1532.6 689.7,1561.3 687.1,1590.1 686.4,1617.1 686.7,1644.1 686.7,1654.1 687.4,1658 689.3,1661.6 692.3,1664.7 696.2,1667.1 700.8,1668.6 705.7,1669.1 710.9,1669.1 715.8,1668.6 720.4,1667.1 724.3,1664.7 727.3,1661.6 729.2,1658 729.9,1654.1 729.9,1644.1 729.8,1617.1 729.4,1590.1 728.9,1561.3 729,1532.6 728.4,1503.8 728.3,1475.1 727.8,1448 727,1420.9 726.3,1393.8 725.5,1366.7 724.4,1339.6 723.7,1312.5 723.2,1285.4 722.2,1258.3 721.7,1231.2 721.1,1204.1 721.1,1179.1" fill="#a2a2a2"/><polygon points="820.3,1179.1 820.3,1204.1 819.3,1231.2 819,1258.3 818.5,1285.4 818.4,1312.5 817.1,1339.6 816.2,1366.7 816.7,1393.8 815.1,1420.9 815,1448 814.6,1475.1 812.6,1503.8 811.4,1532.6 810.6,1561.3 808.8,1590.1 808.9,1617.1 807.9,1644.1 807.9,1654.1 808.6,1658 810.5,1661.6 813.5,1664.7 817.4,1667.1 822,1668.6 826.9,1669.1 835.2,1669.1 840.2,1668.6 844.7,1667.1 848.7,1664.7 851.7,1661.6 853.6,1658 854.2,1654.1 854.2,1644.1 854.2,1617.1 854.1,1590.1 851.5,1561.3 849.7,1532.6 846.9,1503.8 845,1475.1 844.3,1448 844.2,1420.9 843.2,1393.8 842.8,1366.7 842.2,1339.6 841.6,1312.5 841.6,1285.4 841.3,1258.3 840.9,1231.2 840.1,1204.1 840.1,1179.1" fill="#a2a2a2"/><polygon points="704.8,1354.1 702.1,1384.3 701.7,1414.6 699.1,1444.8 697.2,1475.1 696.5,1503.8 695.6,1532.6 693.8,1561.3 693.7,1590.1 692.5,1617.1 693,1644.1 693,1652.1 693.5,1655.7 695,1659.1 697.4,1662 700.5,1664.2 704.1,1665.6 708,1666.1 709.8,1666.1 713.7,1665.6 717.3,1664.2 720.5,1662 722.8,1659.1 724.3,1655.7 724.8,1652.1 724.8,1644.1 724.3,1617.1 724.5,1590.1 725.1,1561.3 724.4,1532.6 724.1,1503.8 724.7,1475.1 723.3,1444.8 721.2,1414.6 720,1384.3 718.4,1354.1 706.7,1301.2" fill="#b9b9b9"/><polygon points="831.9,1265.1 828.9,1312.1 820.7,1363.1 819.2,1395.6 817.8,1428.1 816.2,1475.1 816.6,1503.8 815.8,1532.6 814.3,1561.3 814.9,1590.1 813.7,1617.1 813.1,1644.1 813.1,1652.1 813.6,1655.7 815.1,1659.1 817.5,1662 820.6,1664.2 824.2,1665.6 828.1,1666.1 835.1,1666.1 839,1665.6 842.6,1664.2 845.7,1662 848.1,1659.1 849.6,1655.7 850.1,1652.1 850.1,1644.1 849.4,1617.1 849,1590.1 847.3,1561.3 845.5,1532.6 843.3,1503.8 842,1475.1 839.8,1428.1 839.4,1395.6 839.2,1363.1 837.2,1312.1 836.7,1265.1 835,1217.2" fill="#b9b9b9"/><polygon points="703.4,1504.1 702.6,1517.4 701.9,1530.8 701.4,1544.1 697.6,1559.4 701.6,1574.8 697.9,1590.1 700.4,1603.6 698,1617.1 699.7,1630.6 697,1644.1 697,1650.6 697.4,1653.4 698.4,1656.1 700,1658.4 702,1660.1 704.5,1661.2 707,1661.6 712.6,1661.6 715.2,1661.2 717.6,1660.1 719.7,1658.4 721.2,1656.1 722.2,1653.4 722.6,1650.6 722.6,1644.1 720.3,1630.6 723.2,1617.1 719.9,1603.6 722.9,1590.1 719.6,1574.8 722.1,1559.4 719.5,1544.1 720.7,1530.8 720.7,1517.4 720.2,1504.1 706.7,1469" fill="#d1d1d1"/><polygon points="826.4,1504.1 825.6,1517.4 823.4,1530.8 823.2,1544.1 819.2,1559.4 821.9,1574.8 816.7,1590.1 821.4,1603.6 817.9,1617.1 820.9,1630.6 816.9,1644.1 816.9,1650.6 817.2,1653.4 818.2,1656.1 819.8,1658.4 821.9,1660.1 824.3,1661.2 826.9,1661.6 837.1,1661.6 839.6,1661.2 842.1,1660.1 844.1,1658.4 845.7,1656.1 846.7,1653.4 847.1,1650.6 847.1,1644.1 844.1,1630.6 846.2,1617.1 843.1,1603.6 846.5,1590.1 842.8,1574.8 845,1559.4 840.7,1544.1 842.1,1530.8 841.4,1517.4 840.2,1504.1 835,1450.5" fill="#d1d1d1"/><polygon points="703.2,1522.1 704.4,1535.7 700.7,1549.3 704.2,1562.9 700.2,1576.5 704.1,1590.1 700.1,1603.6 704.5,1617.1 700,1630.6 703.7,1644.1 703.7,1647.6 703.9,1649.9 704.4,1652.1 705.1,1654 706.1,1655.4 707.3,1656.3 708.5,1656.6 708.5,1656.6 709.7,1656.3 710.9,1655.4 711.9,1654 712.6,1652.1 713.1,1649.9 713.3,1647.6 713.3,1644.1 717.5,1630.6 713.8,1617.1 717.5,1603.6 713.1,1590.1 717.5,1576.5 714.7,1562.9 718.4,1549.3 715.5,1535.7 718,1522.1 708,1501.1" fill="#e8e8e8"/><polygon points="827.5,1520.1 827.2,1534.1 823.4,1548.1 827.6,1562.1 823.4,1576.1 826.5,1590.1 822.1,1603.6 824.8,1617.1 821.6,1630.6 825.1,1644.1 825.1,1647.6 825.3,1649.9 825.9,1652.1 826.9,1654 828.1,1655.4 829.6,1656.3 831.1,1656.6 832.8,1656.6 834.3,1656.3 835.8,1655.4 837,1654 838,1652.1 838.6,1649.9 838.8,1647.6 838.8,1644.1 842.1,1630.6 838,1617.1 842.4,1603.6 837.9,1590.1 841.7,1576.1 838.1,1562.1 841,1548.1 839,1534.1 838.7,1520.1 834.5,1497.1" fill="#e8e8e8"/><rect x="592" y="1174.1" width="383.2" height="576.4" fill="url(#core12)" style="mix-blend-mode:darken"/></g><g clip-path="url(#l12)"><g fill="none" stroke-width="2.25" stroke-linejoin="round" opacity=".97" filter="url(#soft)"><path d="M662.8 1179.1 L662.8 1204.1 L663.9 1234.1 L665.8 1264.1 L665.5 1294.1 L663.6 1324.1 L663.4 1354.1 L664.5 1384.3 L663 1414.6 L663.4 1444.8 L663.1 1475.1 L658.6 1504.6 L655.1 1534.1 L651.2 1562.1 L650.1 1590.1 L647.1 1617.1 L648.7 1644.1 L648.7 1658.9 L649.8 1664.6 L653.2 1669.9 L658.6 1674.5 L665.7 1678 L673.9 1680.2 L682.7 1680.9 L722.1 1680.9 L730.9 1680.2 L739.1 1678 L746.1 1674.5 L751.5 1669.9 L754.9 1664.6 L756.1 1658.9 L756.1 1644.1 L754.7 1617.1 L754.4 1590.1 L755.1 1562.1 L753 1534.1 L752.7 1504.6 L752.2 1475.1 L753 1444.8 L752.7 1414.6 L753 1384.3 L753 1354.1 L754.3 1324.1 L753.6 1294.1 L754.4 1264.1 L754.8 1234.1 L754.9 1204.1 L754.9 1179.1Z" stroke="#0000dc"/><path d="M785.3 1179.1 L785.3 1204.1 L785.6 1231.2 L784.4 1258.3 L786 1285.4 L783.4 1312.5 L786.1 1339.6 L785.5 1366.7 L785.2 1393.8 L783 1420.9 L783.1 1448 L785.4 1475.1 L783.8 1503.8 L782.1 1532.6 L781.8 1561.3 L780.3 1590.1 L778.6 1617.1 L778.7 1644.1 L778.7 1658.9 L779.9 1664.6 L783.3 1669.9 L788.7 1674.5 L795.7 1678 L803.9 1680.2 L812.7 1680.9 L850.6 1680.9 L859.4 1680.2 L867.6 1678 L874.7 1674.5 L880.1 1669.9 L883.5 1664.6 L884.6 1658.9 L884.6 1644.1 L882.9 1617.1 L882.6 1590.1 L882.5 1561.3 L880.9 1532.6 L879 1503.8 L877.6 1475.1 L876.4 1448 L875.5 1420.9 L875.6 1393.8 L875.2 1366.7 L874.3 1339.6 L873.9 1312.5 L874.1 1285.4 L873.3 1258.3 L873 1231.2 L871.6 1204.1 L871.6 1179.1Z" stroke="#0000dc"/><path d="M675.6 1179.1 L675.6 1204.1 L675.9 1231.2 L675.5 1258.3 L675.3 1285.4 L675.7 1312.5 L675.4 1339.6 L674.4 1366.7 L674.8 1393.8 L674.5 1420.9 L675 1448 L674.4 1475.1 L671.5 1503.8 L669 1532.6 L665.8 1561.3 L663.4 1590.1 L661.6 1617.1 L661.5 1644.1 L661.5 1658.1 L662.6 1663.3 L665.6 1668.1 L670.3 1672.2 L676.5 1675.4 L683.8 1677.4 L691.5 1678.1 L718.8 1678.1 L726.5 1677.4 L733.8 1675.4 L740 1672.2 L744.7 1668.1 L747.7 1663.3 L748.8 1658.1 L748.8 1644.1 L748 1617.1 L748.1 1590.1 L747.6 1561.3 L747 1532.6 L747 1503.8 L747.1 1475.1 L746 1448 L745.5 1420.9 L745.7 1393.8 L744.8 1366.7 L744.3 1339.6 L743.7 1312.5 L743.8 1285.4 L743 1258.3 L742.5 1231.2 L742.1 1204.1 L742.1 1179.1Z" stroke="#003aff"/><path d="M793.4 1179.1 L793.4 1204.1 L793.3 1231.2 L793.2 1258.3 L793.4 1285.4 L793.9 1312.5 L793.7 1339.6 L793.7 1366.7 L793.7 1393.8 L793.2 1420.9 L793.1 1448 L793.2 1475.1 L791.4 1503.8 L790.9 1532.6 L788.5 1561.3 L787.1 1590.1 L786.9 1617.1 L787.5 1644.1 L787.5 1658.1 L788.5 1663.3 L791.5 1668.1 L796.3 1672.2 L802.5 1675.4 L809.7 1677.4 L817.5 1678.1 L844.8 1678.1 L852.6 1677.4 L859.8 1675.4 L866 1672.2 L870.8 1668.1 L873.8 1663.3 L874.8 1658.1 L874.8 1644.1 L874 1617.1 L874.1 1590.1 L872 1561.3 L870.2 1532.6 L868.6 1503.8 L867.1 1475.1 L866.3 1448 L865.9 1420.9 L866.2 1393.8 L865.7 1366.7 L865.3 1339.6 L865.2 1312.5 L864.6 1285.4 L863.8 1258.3 L864.1 1231.2 L863.4 1204.1 L863.4 1179.1Z" stroke="#003aff"/><path d="M683.8 1179.1 L683.8 1204.1 L683.6 1231.2 L683.7 1258.3 L683.7 1285.4 L682.9 1312.5 L682.8 1339.6 L681.8 1366.7 L681.9 1393.8 L681.8 1420.9 L681.8 1448 L682 1475.1 L678.5 1503.8 L675.7 1532.6 L673 1561.3 L669.4 1590.1 L669.1 1617.1 L668.4 1644.1 L668.4 1657.6 L669.4 1662.3 L672 1666.6 L676.3 1670.3 L681.9 1673.2 L688.4 1675 L695.4 1675.6 L716.9 1675.6 L723.9 1675 L730.4 1673.2 L736 1670.3 L740.3 1666.6 L743 1662.3 L743.9 1657.6 L743.9 1644.1 L743.5 1617.1 L743.2 1590.1 L743.1 1561.3 L742.3 1532.6 L741.3 1503.8 L741.1 1475.1 L740.6 1448 L740.1 1420.9 L740.1 1393.8 L739.5 1366.7 L739 1339.6 L738.8 1312.5 L738.2 1285.4 L738.2 1258.3 L737.6 1231.2 L737.4 1204.1 L737.4 1179.1Z" stroke="#0097ff"/><path d="M801.6 1179.1 L801.6 1204.1 L800.9 1231.2 L801.4 1258.3 L801.5 1285.4 L800.7 1312.5 L800.7 1339.6 L800.3 1366.7 L799.8 1393.8 L799.9 1420.9 L799.2 1448 L799.1 1475.1 L797.4 1503.8 L796.1 1532.6 L795 1561.3 L793.6 1590.1 L793.6 1617.1 L792.9 1644.1 L792.9 1657.6 L793.8 1662.3 L796.5 1666.6 L800.8 1670.3 L806.4 1673.2 L812.9 1675 L819.9 1675.6 L841.7 1675.6 L848.7 1675 L855.2 1673.2 L860.8 1670.3 L865.1 1666.6 L867.8 1662.3 L868.7 1657.6 L868.7 1644.1 L868.5 1617.1 L867.8 1590.1 L866.3 1561.3 L863.9 1532.6 L861.6 1503.8 L859.5 1475.1 L859.2 1448 L859.1 1420.9 L859.1 1393.8 L858.6 1366.7 L858.2 1339.6 L857.9 1312.5 L857.5 1285.4 L857.2 1258.3 L856.6 1231.2 L856.4 1204.1 L856.4 1179.1Z" stroke="#0097ff"/><path d="M689.6 1179.1 L689.6 1204.1 L689.7 1231.2 L688.7 1258.3 L689.4 1285.4 L689 1312.5 L688.8 1339.6 L687.8 1366.7 L687.4 1393.8 L687.3 1420.9 L687.6 1448 L687.4 1475.1 L684.2 1503.8 L681.2 1532.6 L678.3 1561.3 L675.1 1590.1 L675 1617.1 L674.2 1644.1 L674.2 1656.1 L675.1 1660.5 L677.6 1664.6 L681.5 1668.1 L686.7 1670.8 L692.8 1672.5 L699.2 1673.1 L714.5 1673.1 L720.9 1672.5 L727 1670.8 L732.1 1668.1 L736.1 1664.6 L738.6 1660.5 L739.5 1656.1 L739.5 1644.1 L738.6 1617.1 L738.4 1590.1 L738.3 1561.3 L737.6 1532.6 L736.9 1503.8 L736.6 1475.1 L736.2 1448 L735.8 1420.9 L735.5 1393.8 L734.8 1366.7 L734.3 1339.6 L733.9 1312.5 L734 1285.4 L733.8 1258.3 L732.9 1231.2 L732.8 1204.1 L732.8 1179.1Z" stroke="#00f3ff"/><path d="M807.4 1179.1 L807.4 1204.1 L807.3 1231.2 L807.2 1258.3 L806.1 1285.4 L806.7 1312.5 L805.9 1339.6 L806.6 1366.7 L805.5 1393.8 L805.6 1420.9 L805.4 1448 L805.3 1475.1 L803.1 1503.8 L801.9 1532.6 L799.4 1561.3 L798.3 1590.1 L797.5 1617.1 L797.1 1644.1 L797.1 1656.1 L797.9 1660.5 L800.4 1664.6 L804.4 1668.1 L809.6 1670.8 L815.6 1672.5 L822.1 1673.1 L839 1673.1 L845.4 1672.5 L851.5 1670.8 L856.6 1668.1 L860.6 1664.6 L863.1 1660.5 L864 1656.1 L864 1644.1 L863.6 1617.1 L863.3 1590.1 L861.2 1561.3 L859.1 1532.6 L857.2 1503.8 L855.3 1475.1 L855.1 1448 L854.7 1420.9 L853.8 1393.8 L853.2 1366.7 L853.1 1339.6 L852.7 1312.5 L852 1285.4 L851.4 1258.3 L851.4 1231.2 L850.6 1204.1 L850.6 1179.1Z" stroke="#00f3ff"/><path d="M695.4 1179.1 L695.4 1204.1 L694.9 1231.2 L694.4 1258.3 L695 1285.4 L694 1312.5 L694.8 1339.6 L694.6 1366.7 L693.2 1393.8 L693.7 1420.9 L693.2 1448 L692.8 1475.1 L690.5 1503.8 L686.7 1532.6 L684.4 1561.3 L680.9 1590.1 L680.5 1617.1 L680.3 1644.1 L680.3 1655.1 L681.1 1659.2 L683.3 1663.1 L686.8 1666.4 L691.3 1669 L696.6 1670.6 L702.3 1671.1 L713 1671.1 L718.6 1670.6 L724 1669 L728.5 1666.4 L732 1663.1 L734.2 1659.2 L735 1655.1 L735 1644.1 L734.1 1617.1 L733.9 1590.1 L733 1561.3 L733 1532.6 L732.6 1503.8 L731.2 1475.1 L731 1448 L730.5 1420.9 L730.1 1393.8 L730.1 1366.7 L729.2 1339.6 L728.7 1312.5 L728.6 1285.4 L728.1 1258.3 L727 1231.2 L726.9 1204.1 L726.9 1179.1Z" stroke="#51ffae"/><path d="M813.3 1179.1 L813.3 1204.1 L813.3 1231.2 L813.3 1258.3 L812.9 1285.4 L812.5 1312.5 L812.5 1339.6 L811.8 1366.7 L811.5 1393.8 L811 1420.9 L811.5 1448 L811.2 1475.1 L809.5 1503.8 L807.2 1532.6 L804.7 1561.3 L802.6 1590.1 L802.3 1617.1 L802.1 1644.1 L802.1 1655.1 L802.9 1659.2 L805.1 1663.1 L808.6 1666.4 L813.1 1669 L818.4 1670.6 L824.1 1671.1 L837.6 1671.1 L843.3 1670.6 L848.6 1669 L853.2 1666.4 L856.7 1663.1 L858.8 1659.2 L859.6 1655.1 L859.6 1644.1 L859.4 1617.1 L858.9 1590.1 L856.2 1561.3 L854.4 1532.6 L851.7 1503.8 L849.5 1475.1 L848.8 1448 L848.9 1420.9 L848.6 1393.8 L847.7 1366.7 L847.6 1339.6 L847.5 1312.5 L847.1 1285.4 L846.6 1258.3 L846 1231.2 L845.9 1204.1 L845.9 1179.1Z" stroke="#51ffae"/><path d="M702.4 1179.1 L702.4 1204.1 L701.9 1231.2 L701 1258.3 L700.3 1285.4 L699.3 1312.5 L698.7 1339.6 L698 1366.7 L698 1393.8 L696.7 1420.9 L696.2 1448 L694.9 1475.1 L693.5 1503.8 L691.7 1532.6 L689.7 1561.3 L687.1 1590.1 L686.4 1617.1 L686.7 1644.1 L686.7 1654.1 L687.4 1658 L689.3 1661.6 L692.3 1664.7 L696.2 1667.1 L700.8 1668.6 L705.7 1669.1 L710.9 1669.1 L715.8 1668.6 L720.4 1667.1 L724.3 1664.7 L727.3 1661.6 L729.2 1658 L729.9 1654.1 L729.9 1644.1 L729.8 1617.1 L729.4 1590.1 L728.9 1561.3 L729 1532.6 L728.4 1503.8 L728.3 1475.1 L727.8 1448 L727 1420.9 L726.3 1393.8 L725.5 1366.7 L724.4 1339.6 L723.7 1312.5 L723.2 1285.4 L722.2 1258.3 L721.7 1231.2 L721.1 1204.1 L721.1 1179.1Z" stroke="#aeff51"/><path d="M820.3 1179.1 L820.3 1204.1 L819.3 1231.2 L819 1258.3 L818.5 1285.4 L818.4 1312.5 L817.1 1339.6 L816.2 1366.7 L816.7 1393.8 L815.1 1420.9 L815 1448 L814.6 1475.1 L812.6 1503.8 L811.4 1532.6 L810.6 1561.3 L808.8 1590.1 L808.9 1617.1 L807.9 1644.1 L807.9 1654.1 L808.6 1658 L810.5 1661.6 L813.5 1664.7 L817.4 1667.1 L822 1668.6 L826.9 1669.1 L835.2 1669.1 L840.2 1668.6 L844.7 1667.1 L848.7 1664.7 L851.7 1661.6 L853.6 1658 L854.2 1654.1 L854.2 1644.1 L854.2 1617.1 L854.1 1590.1 L851.5 1561.3 L849.7 1532.6 L846.9 1503.8 L845 1475.1 L844.3 1448 L844.2 1420.9 L843.2 1393.8 L842.8 1366.7 L842.2 1339.6 L841.6 1312.5 L841.6 1285.4 L841.3 1258.3 L840.9 1231.2 L840.1 1204.1 L840.1 1179.1Z" stroke="#aeff51"/><path d="M704.8 1354.1 L702.1 1384.3 L701.7 1414.6 L699.1 1444.8 L697.2 1475.1 L696.5 1503.8 L695.6 1532.6 L693.8 1561.3 L693.7 1590.1 L692.5 1617.1 L693 1644.1 L693 1652.1 L693.5 1655.7 L695 1659.1 L697.4 1662 L700.5 1664.2 L704.1 1665.6 L708 1666.1 L709.8 1666.1 L713.7 1665.6 L717.3 1664.2 L720.5 1662 L722.8 1659.1 L724.3 1655.7 L724.8 1652.1 L724.8 1644.1 L724.3 1617.1 L724.5 1590.1 L725.1 1561.3 L724.4 1532.6 L724.1 1503.8 L724.7 1475.1 L723.3 1444.8 L721.2 1414.6 L720 1384.3 L718.4 1354.1 L706.7 1301.2Z" stroke="#fff300"/><path d="M831.9 1265.1 L828.9 1312.1 L820.7 1363.1 L819.2 1395.6 L817.8 1428.1 L816.2 1475.1 L816.6 1503.8 L815.8 1532.6 L814.3 1561.3 L814.9 1590.1 L813.7 1617.1 L813.1 1644.1 L813.1 1652.1 L813.6 1655.7 L815.1 1659.1 L817.5 1662 L820.6 1664.2 L824.2 1665.6 L828.1 1666.1 L835.1 1666.1 L839 1665.6 L842.6 1664.2 L845.7 1662 L848.1 1659.1 L849.6 1655.7 L850.1 1652.1 L850.1 1644.1 L849.4 1617.1 L849 1590.1 L847.3 1561.3 L845.5 1532.6 L843.3 1503.8 L842 1475.1 L839.8 1428.1 L839.4 1395.6 L839.2 1363.1 L837.2 1312.1 L836.7 1265.1 L835 1217.2Z" stroke="#fff300"/><path d="M703.4 1504.1 L702.6 1517.4 L701.9 1530.8 L701.4 1544.1 L697.6 1559.4 L701.6 1574.8 L697.9 1590.1 L700.4 1603.6 L698 1617.1 L699.7 1630.6 L697 1644.1 L697 1650.6 L697.4 1653.4 L698.4 1656.1 L700 1658.4 L702 1660.1 L704.5 1661.2 L707 1661.6 L712.6 1661.6 L715.2 1661.2 L717.6 1660.1 L719.7 1658.4 L721.2 1656.1 L722.2 1653.4 L722.6 1650.6 L722.6 1644.1 L720.3 1630.6 L723.2 1617.1 L719.9 1603.6 L722.9 1590.1 L719.6 1574.8 L722.1 1559.4 L719.5 1544.1 L720.7 1530.8 L720.7 1517.4 L720.2 1504.1 L706.7 1469Z" stroke="#ff9700"/><path d="M826.4 1504.1 L825.6 1517.4 L823.4 1530.8 L823.2 1544.1 L819.2 1559.4 L821.9 1574.8 L816.7 1590.1 L821.4 1603.6 L817.9 1617.1 L820.9 1630.6 L816.9 1644.1 L816.9 1650.6 L817.2 1653.4 L818.2 1656.1 L819.8 1658.4 L821.9 1660.1 L824.3 1661.2 L826.9 1661.6 L837.1 1661.6 L839.6 1661.2 L842.1 1660.1 L844.1 1658.4 L845.7 1656.1 L846.7 1653.4 L847.1 1650.6 L847.1 1644.1 L844.1 1630.6 L846.2 1617.1 L843.1 1603.6 L846.5 1590.1 L842.8 1574.8 L845 1559.4 L840.7 1544.1 L842.1 1530.8 L841.4 1517.4 L840.2 1504.1 L835 1450.5Z" stroke="#ff9700"/><path d="M703.2 1522.1 L704.4 1535.7 L700.7 1549.3 L704.2 1562.9 L700.2 1576.5 L704.1 1590.1 L700.1 1603.6 L704.5 1617.1 L700 1630.6 L703.7 1644.1 L703.7 1647.6 L703.9 1649.9 L704.4 1652.1 L705.1 1654 L706.1 1655.4 L707.3 1656.3 L708.5 1656.6 L708.5 1656.6 L709.7 1656.3 L710.9 1655.4 L711.9 1654 L712.6 1652.1 L713.1 1649.9 L713.3 1647.6 L713.3 1644.1 L717.5 1630.6 L713.8 1617.1 L717.5 1603.6 L713.1 1590.1 L717.5 1576.5 L714.7 1562.9 L718.4 1549.3 L715.5 1535.7 L718 1522.1 L708 1501.1Z" stroke="#ff3a00"/><path d="M827.5 1520.1 L827.2 1534.1 L823.4 1548.1 L827.6 1562.1 L823.4 1576.1 L826.5 1590.1 L822.1 1603.6 L824.8 1617.1 L821.6 1630.6 L825.1 1644.1 L825.1 1647.6 L825.3 1649.9 L825.9 1652.1 L826.9 1654 L828.1 1655.4 L829.6 1656.3 L831.1 1656.6 L832.8 1656.6 L834.3 1656.3 L835.8 1655.4 L837 1654 L838 1652.1 L838.6 1649.9 L838.8 1647.6 L838.8 1644.1 L842.1 1630.6 L838 1617.1 L842.4 1603.6 L837.9 1590.1 L841.7 1576.1 L838.1 1562.1 L841 1548.1 L839 1534.1 L838.7 1520.1 L834.5 1497.1Z" stroke="#ff3a00"/><circle cx="707.6" cy="1557" r="2.4" stroke="#ff0f00" stroke-width="1.6"/><circle cx="707.6" cy="1584" r="2.4" stroke="#ff0f00" stroke-width="1.6"/><circle cx="707.6" cy="1611" r="2.4" stroke="#ff0f00" stroke-width="1.6"/><circle cx="707.6" cy="1637" r="2.4" stroke="#ff0f00" stroke-width="1.6"/><circle cx="833.7" cy="1557" r="2.4" stroke="#ff0f00" stroke-width="1.6"/><circle cx="833.7" cy="1584" r="2.4" stroke="#ff0f00" stroke-width="1.6"/><circle cx="833.7" cy="1611" r="2.4" stroke="#ff0f00" stroke-width="1.6"/><circle cx="833.7" cy="1637" r="2.4" stroke="#ff0f00" stroke-width="1.6"/></g></g><rect x="726.8" y="1513.8" width="88.3" height="143" rx="7" ry="7" fill="none" stroke="#a070c8" stroke-width="1.3" opacity=".6"/><path d="M620 1722.5L620 1682.5L661.7 1682.5L661.7 1695.4L879.8 1695.4L879.8 1682.5L919.5 1682.5L919.5 1669.6L947.2 1669.6L947.2 1722.5Z" fill="#000"/></g>
<g clip-path="url(#c20)"><g filter="url(#jetd)"><rect x="1055" y="57.3" width="379.3" height="569.8" fill="#808080"/><rect x="1085" y="100" width="13" height="38.4" fill="#878787"/><rect x="1085" y="163.8" width="13" height="12.9" fill="#878787"/><rect x="1085" y="189.3" width="13" height="25.7" fill="#878787"/><rect x="1085" y="227.5" width="13" height="12.9" fill="#878787"/><rect x="1085" y="265.7" width="13" height="12.9" fill="#878787"/><rect x="1085" y="291.2" width="13" height="114.9" fill="#878787"/><rect x="1085" y="418.7" width="13" height="12.9" fill="#878787"/><rect x="1085" y="444.2" width="13" height="12.9" fill="#878787"/><rect x="1085" y="495.1" width="13" height="63.9" fill="#878787"/><rect x="1085" y="571.6" width="13" height="25.7" fill="#878787"/><rect x="1097.8" y="125.5" width="13" height="25.7" fill="#878787"/><rect x="1097.8" y="163.8" width="13" height="63.9" fill="#878787"/><rect x="1097.8" y="240.2" width="13" height="25.7" fill="#878787"/><rect x="1097.8" y="304" width="13" height="12.9" fill="#878787"/><rect x="1097.8" y="342.2" width="13" height="12.9" fill="#878787"/><rect x="1097.8" y="367.7" width="13" height="25.7" fill="#878787"/><rect x="1097.8" y="405.9" width="13" height="76.7" fill="#878787"/><rect x="1097.8" y="533.4" width="13" height="12.9" fill="#878787"/><rect x="1097.8" y="584.4" width="13" height="12.9" fill="#878787"/><rect x="1110.5" y="87.3" width="13" height="51.2" fill="#878787"/><rect x="1110.5" y="151" width="13" height="12.9" fill="#878787"/><rect x="1110.5" y="176.5" width="13" height="25.7" fill="#878787"/><rect x="1110.5" y="214.8" width="13" height="25.7" fill="#878787"/><rect x="1110.5" y="253" width="13" height="25.7" fill="#878787"/><rect x="1110.5" y="291.2" width="13" height="38.4" fill="#878787"/><rect x="1110.5" y="342.2" width="13" height="25.7" fill="#878787"/><rect x="1110.5" y="393.2" width="13" height="12.9" fill="#878787"/><rect x="1110.5" y="444.2" width="13" height="12.9" fill="#878787"/><rect x="1110.5" y="469.7" width="13" height="12.9" fill="#878787"/><rect x="1110.5" y="495.1" width="13" height="12.9" fill="#878787"/><rect x="1110.5" y="520.6" width="13" height="38.4" fill="#878787"/><rect x="1123.3" y="87.3" width="13" height="12.9" fill="#878787"/><rect x="1123.3" y="138.3" width="13" height="12.9" fill="#878787"/><rect x="1123.3" y="163.8" width="13" height="12.9" fill="#878787"/><rect x="1123.3" y="189.3" width="13" height="89.4" fill="#878787"/><rect x="1123.3" y="291.2" width="13" height="25.7" fill="#878787"/><rect x="1123.3" y="342.2" width="13" height="12.9" fill="#878787"/><rect x="1123.3" y="393.2" width="13" height="12.9" fill="#878787"/><rect x="1123.3" y="418.7" width="13" height="25.7" fill="#878787"/><rect x="1123.3" y="456.9" width="13" height="38.4" fill="#878787"/><rect x="1123.3" y="507.9" width="13" height="25.7" fill="#878787"/><rect x="1123.3" y="558.9" width="13" height="12.9" fill="#878787"/><rect x="1123.3" y="584.4" width="13" height="12.9" fill="#878787"/><rect x="1136.1" y="125.5" width="13" height="12.9" fill="#878787"/><rect x="1136.1" y="151" width="13" height="25.7" fill="#878787"/><rect x="1136.1" y="189.3" width="13" height="25.7" fill="#878787"/><rect x="1136.1" y="227.5" width="13" height="25.7" fill="#878787"/><rect x="1136.1" y="265.7" width="13" height="12.9" fill="#878787"/><rect x="1136.1" y="291.2" width="13" height="12.9" fill="#878787"/><rect x="1136.1" y="393.2" width="13" height="63.9" fill="#878787"/><rect x="1136.1" y="482.4" width="13" height="12.9" fill="#878787"/><rect x="1136.1" y="507.9" width="13" height="25.7" fill="#878787"/><rect x="1136.1" y="546.1" width="13" height="12.9" fill="#878787"/><rect x="1136.1" y="584.4" width="13" height="12.9" fill="#878787"/><rect x="1148.9" y="100" width="13" height="51.2" fill="#878787"/><rect x="1148.9" y="163.8" width="13" height="12.9" fill="#878787"/><rect x="1148.9" y="189.3" width="13" height="51.2" fill="#878787"/><rect x="1148.9" y="265.7" width="13" height="12.9" fill="#878787"/><rect x="1148.9" y="329.5" width="13" height="51.2" fill="#878787"/><rect x="1148.9" y="393.2" width="13" height="12.9" fill="#878787"/><rect x="1148.9" y="431.4" width="13" height="38.4" fill="#878787"/><rect x="1148.9" y="482.4" width="13" height="12.9" fill="#878787"/><rect x="1148.9" y="533.4" width="13" height="12.9" fill="#878787"/><rect x="1148.9" y="558.9" width="13" height="12.9" fill="#878787"/><rect x="1148.9" y="584.4" width="13" height="12.9" fill="#878787"/><rect x="1161.6" y="125.5" width="13" height="12.9" fill="#878787"/><rect x="1161.6" y="163.8" width="13" height="12.9" fill="#878787"/><rect x="1161.6" y="202" width="13" height="63.9" fill="#878787"/><rect x="1161.6" y="278.5" width="13" height="12.9" fill="#878787"/><rect x="1161.6" y="304" width="13" height="12.9" fill="#878787"/><rect x="1161.6" y="354.9" width="13" height="38.4" fill="#878787"/><rect x="1161.6" y="405.9" width="13" height="12.9" fill="#878787"/><rect x="1161.6" y="444.2" width="13" height="12.9" fill="#878787"/><rect x="1161.6" y="482.4" width="13" height="12.9" fill="#878787"/><rect x="1161.6" y="507.9" width="13" height="25.7" fill="#878787"/><rect x="1174.4" y="87.3" width="13" height="12.9" fill="#878787"/><rect x="1174.4" y="112.8" width="13" height="12.9" fill="#878787"/><rect x="1174.4" y="138.3" width="13" height="12.9" fill="#878787"/><rect x="1174.4" y="176.5" width="13" height="38.4" fill="#878787"/><rect x="1174.4" y="240.2" width="13" height="12.9" fill="#878787"/><rect x="1174.4" y="316.7" width="13" height="12.9" fill="#878787"/><rect x="1174.4" y="354.9" width="13" height="12.9" fill="#878787"/><rect x="1174.4" y="393.2" width="13" height="51.2" fill="#878787"/><rect x="1174.4" y="456.9" width="13" height="12.9" fill="#878787"/><rect x="1174.4" y="495.1" width="13" height="51.2" fill="#878787"/><rect x="1174.4" y="571.6" width="13" height="12.9" fill="#878787"/><rect x="1187.2" y="87.3" width="13" height="76.7" fill="#878787"/><rect x="1187.2" y="189.3" width="13" height="12.9" fill="#878787"/><rect x="1187.2" y="214.8" width="13" height="25.7" fill="#878787"/><rect x="1187.2" y="253" width="13" height="12.9" fill="#878787"/><rect x="1187.2" y="278.5" width="13" height="12.9" fill="#878787"/><rect x="1187.2" y="304" width="13" height="12.9" fill="#878787"/><rect x="1187.2" y="354.9" width="13" height="12.9" fill="#878787"/><rect x="1187.2" y="405.9" width="13" height="63.9" fill="#878787"/><rect x="1187.2" y="495.1" width="13" height="25.7" fill="#878787"/><rect x="1187.2" y="546.1" width="13" height="12.9" fill="#878787"/><rect x="1199.9" y="87.3" width="13" height="12.9" fill="#878787"/><rect x="1199.9" y="125.5" width="13" height="38.4" fill="#878787"/><rect x="1199.9" y="189.3" width="13" height="12.9" fill="#878787"/><rect x="1199.9" y="227.5" width="13" height="38.4" fill="#878787"/><rect x="1199.9" y="291.2" width="13" height="12.9" fill="#878787"/><rect x="1199.9" y="316.7" width="13" height="12.9" fill="#878787"/><rect x="1199.9" y="354.9" width="13" height="38.4" fill="#878787"/><rect x="1199.9" y="418.7" width="13" height="12.9" fill="#878787"/><rect x="1199.9" y="444.2" width="13" height="12.9" fill="#878787"/><rect x="1199.9" y="495.1" width="13" height="12.9" fill="#878787"/><rect x="1199.9" y="533.4" width="13" height="12.9" fill="#878787"/><rect x="1199.9" y="584.4" width="13" height="12.9" fill="#878787"/><rect x="1212.7" y="87.3" width="13" height="25.7" fill="#878787"/><rect x="1212.7" y="163.8" width="13" height="12.9" fill="#878787"/><rect x="1212.7" y="189.3" width="13" height="12.9" fill="#878787"/><rect x="1212.7" y="227.5" width="13" height="38.4" fill="#878787"/><rect x="1212.7" y="291.2" width="13" height="51.2" fill="#878787"/><rect x="1212.7" y="431.4" width="13" height="25.7" fill="#878787"/><rect x="1212.7" y="469.7" width="13" height="38.4" fill="#878787"/><rect x="1212.7" y="533.4" width="13" height="38.4" fill="#878787"/><rect x="1212.7" y="584.4" width="13" height="12.9" fill="#878787"/><rect x="1225.5" y="87.3" width="13" height="38.4" fill="#878787"/><rect x="1225.5" y="151" width="13" height="12.9" fill="#878787"/><rect x="1225.5" y="202" width="13" height="25.7" fill="#878787"/><rect x="1225.5" y="253" width="13" height="38.4" fill="#878787"/><rect x="1225.5" y="342.2" width="13" height="12.9" fill="#878787"/><rect x="1225.5" y="393.2" width="13" height="38.4" fill="#878787"/><rect x="1225.5" y="469.7" width="13" height="63.9" fill="#878787"/><rect x="1225.5" y="546.1" width="13" height="12.9" fill="#878787"/><rect x="1225.5" y="584.4" width="13" height="12.9" fill="#878787"/><rect x="1238.3" y="100" width="13" height="76.7" fill="#878787"/><rect x="1238.3" y="265.7" width="13" height="25.7" fill="#878787"/><rect x="1238.3" y="304" width="13" height="12.9" fill="#878787"/><rect x="1238.3" y="342.2" width="13" height="12.9" fill="#878787"/><rect x="1238.3" y="367.7" width="13" height="25.7" fill="#878787"/><rect x="1238.3" y="431.4" width="13" height="25.7" fill="#878787"/><rect x="1238.3" y="495.1" width="13" height="12.9" fill="#878787"/><rect x="1238.3" y="520.6" width="13" height="12.9" fill="#878787"/><rect x="1251" y="125.5" width="13" height="12.9" fill="#878787"/><rect x="1251" y="151" width="13" height="12.9" fill="#878787"/><rect x="1251" y="176.5" width="13" height="12.9" fill="#878787"/><rect x="1251" y="202" width="13" height="25.7" fill="#878787"/><rect x="1251" y="240.2" width="13" height="12.9" fill="#878787"/><rect x="1251" y="329.5" width="13" height="12.9" fill="#878787"/><rect x="1251" y="367.7" width="13" height="12.9" fill="#878787"/><rect x="1251" y="393.2" width="13" height="102.2" fill="#878787"/><rect x="1251" y="520.6" width="13" height="25.7" fill="#878787"/><rect x="1263.8" y="125.5" width="13" height="12.9" fill="#878787"/><rect x="1263.8" y="151" width="13" height="51.2" fill="#878787"/><rect x="1263.8" y="214.8" width="13" height="12.9" fill="#878787"/><rect x="1263.8" y="265.7" width="13" height="12.9" fill="#878787"/><rect x="1263.8" y="354.9" width="13" height="38.4" fill="#878787"/><rect x="1263.8" y="405.9" width="13" height="12.9" fill="#878787"/><rect x="1263.8" y="444.2" width="13" height="63.9" fill="#878787"/><rect x="1263.8" y="546.1" width="13" height="51.2" fill="#878787"/><rect x="1276.6" y="87.3" width="13" height="12.9" fill="#878787"/><rect x="1276.6" y="112.8" width="13" height="25.7" fill="#878787"/><rect x="1276.6" y="189.3" width="13" height="12.9" fill="#878787"/><rect x="1276.6" y="214.8" width="13" height="12.9" fill="#878787"/><rect x="1276.6" y="240.2" width="13" height="25.7" fill="#878787"/><rect x="1276.6" y="278.5" width="13" height="25.7" fill="#878787"/><rect x="1276.6" y="329.5" width="13" height="25.7" fill="#878787"/><rect x="1276.6" y="367.7" width="13" height="12.9" fill="#878787"/><rect x="1276.6" y="393.2" width="13" height="25.7" fill="#878787"/><rect x="1276.6" y="431.4" width="13" height="51.2" fill="#878787"/><rect x="1276.6" y="495.1" width="13" height="25.7" fill="#878787"/><rect x="1276.6" y="558.9" width="13" height="12.9" fill="#878787"/><rect x="1276.6" y="584.4" width="13" height="12.9" fill="#878787"/><rect x="1289.4" y="87.3" width="13" height="12.9" fill="#878787"/><rect x="1289.4" y="112.8" width="13" height="12.9" fill="#878787"/><rect x="1289.4" y="176.5" width="13" height="12.9" fill="#878787"/><rect x="1289.4" y="202" width="13" height="76.7" fill="#878787"/><rect x="1289.4" y="316.7" width="13" height="38.4" fill="#878787"/><rect x="1289.4" y="367.7" width="13" height="12.9" fill="#878787"/><rect x="1289.4" y="393.2" width="13" height="25.7" fill="#878787"/><rect x="1289.4" y="469.7" width="13" height="12.9" fill="#878787"/><rect x="1289.4" y="495.1" width="13" height="12.9" fill="#878787"/><rect x="1289.4" y="533.4" width="13" height="12.9" fill="#878787"/><rect x="1289.4" y="584.4" width="13" height="12.9" fill="#878787"/><rect x="1302.1" y="100" width="13" height="12.9" fill="#878787"/><rect x="1302.1" y="125.5" width="13" height="63.9" fill="#878787"/><rect x="1302.1" y="214.8" width="13" height="25.7" fill="#878787"/><rect x="1302.1" y="253" width="13" height="25.7" fill="#878787"/><rect x="1302.1" y="329.5" width="13" height="12.9" fill="#878787"/><rect x="1302.1" y="354.9" width="13" height="12.9" fill="#878787"/><rect x="1302.1" y="393.2" width="13" height="25.7" fill="#878787"/><rect x="1302.1" y="431.4" width="13" height="89.4" fill="#878787"/><rect x="1302.1" y="533.4" width="13" height="25.7" fill="#878787"/><rect x="1314.9" y="151" width="13" height="38.4" fill="#878787"/><rect x="1314.9" y="214.8" width="13" height="102.2" fill="#878787"/><rect x="1314.9" y="342.2" width="13" height="12.9" fill="#878787"/><rect x="1314.9" y="380.4" width="13" height="12.9" fill="#878787"/><rect x="1314.9" y="405.9" width="13" height="25.7" fill="#878787"/><rect x="1314.9" y="444.2" width="13" height="25.7" fill="#878787"/><rect x="1314.9" y="507.9" width="13" height="25.7" fill="#878787"/><rect x="1314.9" y="546.1" width="13" height="12.9" fill="#878787"/><rect x="1327.7" y="100" width="13" height="25.7" fill="#878787"/><rect x="1327.7" y="176.5" width="13" height="12.9" fill="#878787"/><rect x="1327.7" y="214.8" width="13" height="12.9" fill="#878787"/><rect x="1327.7" y="240.2" width="13" height="12.9" fill="#878787"/><rect x="1327.7" y="291.2" width="13" height="38.4" fill="#878787"/><rect x="1327.7" y="380.4" width="13" height="38.4" fill="#878787"/><rect x="1327.7" y="431.4" width="13" height="38.4" fill="#878787"/><rect x="1327.7" y="495.1" width="13" height="12.9" fill="#878787"/><rect x="1327.7" y="584.4" width="13" height="12.9" fill="#878787"/><rect x="1340.4" y="87.3" width="13" height="38.4" fill="#878787"/><rect x="1340.4" y="138.3" width="13" height="12.9" fill="#878787"/><rect x="1340.4" y="176.5" width="13" height="25.7" fill="#878787"/><rect x="1340.4" y="253" width="13" height="12.9" fill="#878787"/><rect x="1340.4" y="316.7" width="13" height="12.9" fill="#878787"/><rect x="1340.4" y="380.4" width="13" height="12.9" fill="#878787"/><rect x="1340.4" y="431.4" width="13" height="12.9" fill="#878787"/><rect x="1340.4" y="456.9" width="13" height="12.9" fill="#878787"/><rect x="1340.4" y="482.4" width="13" height="12.9" fill="#878787"/><rect x="1340.4" y="507.9" width="13" height="25.7" fill="#878787"/><rect x="1340.4" y="571.6" width="13" height="25.7" fill="#878787"/><rect x="1353.2" y="100" width="13" height="38.4" fill="#878787"/><rect x="1353.2" y="151" width="13" height="38.4" fill="#878787"/><rect x="1353.2" y="202" width="13" height="38.4" fill="#878787"/><rect x="1353.2" y="265.7" width="13" height="12.9" fill="#878787"/><rect x="1353.2" y="304" width="13" height="25.7" fill="#878787"/><rect x="1353.2" y="354.9" width="13" height="12.9" fill="#878787"/><rect x="1353.2" y="380.4" width="13" height="51.2" fill="#878787"/><rect x="1353.2" y="469.7" width="13" height="51.2" fill="#878787"/><rect x="1353.2" y="533.4" width="13" height="12.9" fill="#878787"/><rect x="1353.2" y="558.9" width="13" height="38.4" fill="#878787"/><rect x="1366" y="87.3" width="13" height="12.9" fill="#878787"/><rect x="1366" y="125.5" width="13" height="63.9" fill="#878787"/><rect x="1366" y="253" width="13" height="114.9" fill="#878787"/><rect x="1366" y="405.9" width="13" height="12.9" fill="#878787"/><rect x="1366" y="431.4" width="13" height="38.4" fill="#878787"/><rect x="1366" y="482.4" width="13" height="12.9" fill="#878787"/><rect x="1366" y="507.9" width="13" height="25.7" fill="#878787"/><rect x="1366" y="571.6" width="13" height="25.7" fill="#878787"/><rect x="1378.8" y="138.3" width="13" height="12.9" fill="#878787"/><rect x="1378.8" y="163.8" width="13" height="51.2" fill="#878787"/><rect x="1378.8" y="240.2" width="13" height="12.9" fill="#878787"/><rect x="1378.8" y="265.7" width="13" height="12.9" fill="#878787"/><rect x="1378.8" y="291.2" width="13" height="38.4" fill="#878787"/><rect x="1378.8" y="342.2" width="13" height="25.7" fill="#878787"/><rect x="1378.8" y="380.4" width="13" height="25.7" fill="#878787"/><rect x="1378.8" y="418.7" width="13" height="12.9" fill="#878787"/><rect x="1378.8" y="444.2" width="13" height="12.9" fill="#878787"/><rect x="1378.8" y="469.7" width="13" height="12.9" fill="#878787"/><rect x="1378.8" y="533.4" width="13" height="38.4" fill="#878787"/><rect x="1391.5" y="100" width="13" height="76.7" fill="#878787"/><rect x="1391.5" y="189.3" width="13" height="12.9" fill="#878787"/><rect x="1391.5" y="214.8" width="13" height="12.9" fill="#878787"/><rect x="1391.5" y="240.2" width="13" height="63.9" fill="#878787"/><rect x="1391.5" y="329.5" width="13" height="38.4" fill="#878787"/><rect x="1391.5" y="393.2" width="13" height="12.9" fill="#878787"/><rect x="1391.5" y="418.7" width="13" height="12.9" fill="#878787"/><rect x="1391.5" y="444.2" width="13" height="12.9" fill="#878787"/><rect x="1391.5" y="507.9" width="13" height="12.9" fill="#878787"/><rect x="1391.5" y="533.4" width="13" height="63.9" fill="#878787"/></g><path d="M1091.4 97.4 L1101.8 106.4 L1101.8 119.2 L1104.2 123.5 L1110.2 119.2 L1106.6 106.4 L1115.4 93.7M1132.9 93.7 L1129.7 96.1 L1121.5 106.4 L1121.1 119.2 L1123.8 131.9 L1116.9 135.2 L1105.4 144.7 L1104.2 147.3 L1103.5 144.7 L1091.4 140M1239.7 93.7 L1244.7 95.9 L1254.5 106.4 L1256.4 119.2 L1257.4 122.2 L1270.2 131.9 L1276.1 119.2 L1283 112.6 L1295.7 108.4 L1301 106.4 L1308.5 99.5 L1316.5 106.4 L1308.5 113.6 L1306.4 119.2 L1308.5 124.3 L1319.6 131.9 L1310 144.7 L1321.3 148.3 L1331.8 157.4 L1331.8 170.1 L1334.1 171.9 L1346.8 180.6 L1353.8 170.1 L1352.1 157.4 L1346.8 153.3 L1341.7 144.7 L1346.8 134.1 L1349.3 131.9 L1346.8 129.8 L1334.1 119.9 L1330.9 119.2 L1326.9 106.4 L1334.1 96.3 L1346.2 93.7M1300.2 93.7 L1295.7 98.7 L1283 103.3 L1274.3 93.7M1347 93.7 L1359.6 97.3 L1365 106.4 L1368 119.2 L1372.4 129 L1376.4 131.9 L1385.1 138.7 L1391.2 131.9 L1396.3 119.2 L1390.5 106.4 L1397.9 96.5M1379.9 93.7 L1372.4 97.3 L1365 93.7M1180.8 125.1 L1175.6 131.9 L1180.8 136.3 L1189.5 131.9ZM1359.6 138.5 L1353.8 144.7 L1359.6 151.7 L1365.7 144.7ZM1385.1 149.2 L1375.2 157.4 L1385.1 163.9 L1392.3 157.4ZM1091.4 161 L1104.2 160.1 L1109.4 157.4 L1116.9 152.6 L1118.7 157.4 L1116.9 161.6 L1111.3 170.1 L1116.9 173 L1123.7 170.1 L1129.7 167.3 L1138.1 157.4 L1142.5 146.5 L1144 144.7 L1142.5 139.9 L1139 144.7 L1129.7 147.1 L1123.6 144.7 L1129.7 135.1 L1134 131.9 L1142.5 128.3 L1150.7 119.2 L1147.8 106.4 L1155.2 104.7 L1160.8 106.4 L1166.1 119.2 L1168 120.2 L1169.7 119.2 L1180.8 115.5 L1189.8 106.4 L1180.8 101.6 L1170.6 93.7M1397.9 174.7 L1385.7 182.9 L1397.9 192.4M1091.4 191.4 L1098.1 182.9 L1091.4 176.2M1116.9 203.3 L1105.8 208.4 L1116.9 217.6 L1124.6 208.4ZM1357.9 208.4 L1359.6 205.9 L1361.9 208.4 L1367 221.1 L1368.2 233.9 L1359.6 240.4 L1347.1 233.9 L1351.2 221.1ZM1397.9 205.1 L1396.4 208.4 L1397.9 213.1M1142.5 209.5 L1130.3 221.1 L1142.5 227.6 L1148.9 221.1ZM1091.4 230.5 L1103 233.9 L1104.2 234.4 L1105 233.9 L1104.2 228.8 L1103.5 221.1 L1091.4 213.5M1397.9 224.8 L1393.9 221.1 L1385.1 216.9 L1376.8 208.4 L1379.6 195.6 L1372.4 187.9 L1359.6 188.8 L1348.5 195.6 L1346.8 196.7 L1340.3 195.6 L1334.1 193.5 L1321.3 189.2 L1308.5 193.1 L1295.7 187.8 L1287.2 182.9 L1295.7 172.9 L1300.9 170.1 L1302 157.4 L1306.4 144.7 L1300.6 131.9 L1295.7 129.9 L1285.2 131.9 L1283 134.1 L1270.2 131.9 L1257.4 136.6 L1250.8 144.7 L1257.4 148.7 L1270.2 150.7 L1272.2 157.4 L1274.4 170.1 L1275.8 182.9 L1283 187.5 L1287.5 195.6 L1283 200.3 L1270.2 206.2 L1267.6 208.4 L1270.2 211.8 L1283 218.1 L1293.2 208.4 L1295.7 206 L1300.7 208.4 L1308.5 212.8 L1321.3 214.6 L1334.1 212.6 L1343 221.1 L1334.1 230.6 L1326.5 233.9 L1334.1 235.5 L1340.9 246.6 L1346.8 257.4 L1356 259.4 L1359.6 260.5 L1360.9 259.4 L1372.4 251.4 L1379.2 246.6 L1385.1 240 L1397.9 243.3M1116.9 239.9 L1111.5 246.6 L1116.9 253.1 L1124.7 246.6ZM1249.6 246.6 L1257.4 238.4 L1259.3 246.6 L1257.4 252.9ZM1308.5 234.8 L1304.8 246.6 L1308.5 250.6 L1311.9 246.6ZM1334.1 258.9 L1333 259.4 L1329.6 272.1 L1324.5 284.8 L1334.1 294.2 L1341.2 297.6 L1336.4 310.3 L1346.8 317.9 L1352.6 310.3 L1359.6 306.1 L1370.7 297.6 L1369.8 284.8 L1359.6 280.7 L1347.9 272.1 L1346.8 268.9 L1336.4 259.4ZM1385.1 253.7 L1381.4 259.4 L1385.1 265.5 L1397.5 259.4ZM1091.4 263 L1098.2 272.1 L1091.4 283.5M1161.7 284.8 L1168 276.7 L1178 284.8 L1168 293.2ZM1184 284.8 L1193.6 279.7 L1198 284.8 L1193.6 293.5ZM1385.1 274.5 L1373.2 284.8 L1385.1 297.6 L1393.4 284.8ZM1091.4 286.7 L1094.7 297.6 L1104.2 304.2 L1110.5 297.6 L1116.9 288.1 L1129.7 294.1 L1142.5 293.1 L1145.7 297.6 L1142.5 300.2 L1132 310.3 L1129.7 314.6 L1126.9 323.1 L1116.9 332.3 L1109.9 323.1 L1104.2 317.8 L1099.5 323.1 L1101.3 335.8 L1104.2 346 L1116.9 337.8 L1129.7 340.1 L1139.4 348.6 L1129.7 360.3 L1128.2 361.3 L1116.9 367 L1107.1 374.1 L1111.2 386.8 L1116.9 391.1 L1129.7 386.8 L1142.5 390.8 L1155.2 398 L1159.7 386.8 L1155.2 379.4 L1146 374.1 L1150.2 361.3 L1150.9 348.6 L1150.4 335.8 L1155.2 326.5 L1162.2 335.8 L1157.2 348.6 L1168 356.1 L1180.8 356.1 L1193.6 353.6 L1206.3 355.8 L1211.6 361.3 L1209.9 374.1 L1218.9 386.8 L1206.3 397.6 L1196.4 386.8 L1202 374.1 L1193.6 370.2 L1180.8 363.6 L1169.9 374.1 L1175.4 386.8 L1180.8 392.6 L1186.1 399.6 L1193.6 408.2 L1200.4 412.3 L1206.3 416.4 L1217.3 425 L1219.1 427.5 L1220.8 425 L1224.4 412.3 L1223.6 399.6 L1231.9 389.9 L1235.7 386.8 L1237.2 374.1 L1244.7 370.3 L1257.4 368.4 L1262.7 361.3 L1270.2 350 L1273.4 361.3 L1283 369.9 L1295.7 366.9 L1300.4 361.3 L1295.7 356.9 L1283 353.7 L1271 348.6 L1276.9 335.8 L1283 334 L1293.6 323.1 L1295.7 321.2 L1301.7 323.1 L1308.5 324.7 L1314.5 335.8 L1321.3 342 L1327 348.6 L1321.3 357.3 L1317.2 361.3 L1308.5 371.9 L1305.8 374.1 L1295.7 382.9 L1283 378.9 L1272.5 386.8 L1270.2 388.5 L1267.6 386.8 L1257.4 376.9 L1248.7 386.8 L1257.4 392 L1263.2 399.6 L1270.2 406 L1276.8 399.6 L1283 392.3 L1295.7 393.8 L1308.5 391.4 L1312.2 386.8 L1321.3 379.9 L1334.1 380.6 L1346.8 376.8 L1359.6 374.3 L1368.6 386.8 L1361.5 399.6 L1372.4 411.7 L1373.8 412.3 L1372.4 413.3 L1360.9 425 L1359.6 425.9 L1355.6 425 L1355.2 412.3 L1353.2 399.6 L1346.8 398 L1344.3 399.6 L1338.1 412.3 L1334.1 417.1 L1330.5 425 L1334.1 428.7 L1346.8 428.3 L1350.8 437.8 L1346.8 444.9 L1342.3 450.5 L1346.8 453 L1356.9 463.3 L1359.6 468.8 L1363.5 476 L1372.4 485.4 L1375.3 488.8 L1372.4 495.9 L1368.3 501.5 L1372.4 508.2 L1380.6 514.3 L1377.7 527 L1372.4 533.5 L1365.5 539.7 L1359.6 544.2 L1356 539.7 L1359.6 531 L1363 527 L1359.6 524.3 L1356.4 527 L1346.8 531.5 L1336.5 527 L1338.8 514.3 L1346.8 508.7 L1354.1 501.5 L1346.8 489.2 L1346.4 488.8 L1346.8 488 L1353.1 476 L1346.8 472.9 L1334.1 471.3 L1321.3 469 L1314.3 476 L1319.6 488.8 L1310.4 501.5 L1321.3 511.8 L1327.6 514.3 L1330.7 527 L1321.3 531.3 L1313.3 539.7 L1321.3 550.6 L1324.7 552.5 L1321.3 556.6 L1308.5 556.2 L1302.8 552.5 L1295.7 542.8 L1292.3 539.7 L1295.7 533 L1308.5 527.7 L1309.3 527 L1308.5 526.4 L1301.4 514.3 L1295.7 506.5 L1290.7 514.3 L1283 521.2 L1275.6 514.3 L1270.2 506.6 L1265.5 501.5 L1257.4 494.4 L1253.4 488.8 L1249.6 476 L1247.5 463.3 L1244.7 462.8 L1232.5 450.5 L1241.6 437.8 L1244.7 436.4 L1254.4 425 L1252 412.3 L1246.8 399.6 L1244.7 394.6 L1240.5 399.6 L1238.2 412.3 L1238.2 425 L1231.9 434.1 L1226.9 437.8 L1230.9 450.5 L1219.1 459.3 L1206.3 455.8 L1199.5 463.3 L1193.6 474.4 L1180.8 468.1 L1173.5 463.3 L1168 460 L1164.5 463.3 L1155.2 468.5 L1151.1 463.3 L1142.5 458.3 L1132.7 463.3 L1142.2 476 L1142.5 476.2 L1155.2 480.2 L1168 480.5 L1175.9 488.8 L1180.8 493.6 L1193.6 490.3 L1206.3 494.7 L1216.3 488.8 L1212.2 476 L1219.1 466.7 L1231.9 470.3 L1238.8 476 L1235.9 488.8 L1244.7 495.8 L1252.1 501.5 L1244.7 510.6 L1236.3 514.3 L1244.7 517.9 L1257.4 519.4 L1263.6 527 L1259.6 539.7 L1257.4 540.5 L1256.2 539.7 L1244.7 534 L1231.9 533 L1229.8 539.7 L1231.9 543 L1237.9 552.5 L1231.9 560.4 L1226 565.2 L1219.1 571.8 L1213.8 565.2 L1217.3 552.5 L1206.3 541.3 L1198.1 539.7 L1206.3 535.7 L1219.1 531.6 L1228.8 527 L1230 514.3 L1219.1 506.1 L1206.3 508.7 L1200.4 514.3 L1193.6 521.1 L1185.1 527 L1192.5 539.7 L1193.6 541.3 L1198 552.5 L1193.6 563.3 L1186.5 552.5 L1180.8 548.2 L1169 539.7 L1168 538.6 L1164.6 539.7 L1155.2 546.3 L1148.2 552.5 L1155.2 554.4 L1162.9 565.2 L1155.2 571.8 L1144.9 565.2 L1142.5 557.3 L1137.8 565.2 L1129.7 568.8 L1117.2 565.2 L1116.9 564.6 L1111.5 552.5 L1104.2 543.4 L1102 552.5 L1091.4 561.8M1166.1 310.3 L1168 304.3 L1175.5 310.3 L1168 313.5ZM1206.3 306.3 L1204.9 310.3 L1206.3 312.5 L1209.7 310.3ZM1240.4 310.3 L1244.7 309.1 L1249.3 310.3 L1244.7 312.8ZM1397.9 301.2 L1391.7 310.3 L1391 323.1 L1397.9 325.8M1245.3 335.8 L1257.4 328.8 L1269 335.8 L1257.4 343.8 L1246.1 348.6 L1244.7 349.6 L1231.9 349.3 L1231.1 348.6 L1231.9 346.3 L1244.7 341.1ZM1385.1 330.7 L1381.2 335.8 L1385.1 339.8 L1386.9 335.8ZM1308.5 342.3 L1303.1 348.6 L1308.5 354.3 L1314.2 348.6ZM1104.2 358.7 L1103.4 361.3 L1104.2 362.3 L1104.6 361.3ZM1397.9 372.6 L1385.1 368.3 L1372.4 365.9 L1359.6 373.8 L1351.7 361.3 L1359.6 350.7 L1361.8 348.6 L1360.3 335.8 L1359.6 332.2 L1346.8 326.5 L1334.1 327.6 L1330.6 323.1 L1321.3 317.1 L1310.1 310.3 L1311.4 297.6 L1314.9 284.8 L1308.5 282 L1295.7 277.5 L1289.2 272.1 L1283 268.1 L1279.7 272.1 L1283 283.5 L1283.9 284.8 L1287.7 297.6 L1283 302 L1274 297.6 L1280.7 284.8 L1270.2 282.9 L1263.1 272.1 L1270.2 260.9 L1272.2 259.4 L1282.1 246.6 L1283 245.4 L1288 233.9 L1283 225.6 L1270.2 232.9 L1257.4 231.9 L1253.3 221.1 L1246.1 208.4 L1257.4 199.3 L1260.6 195.6 L1257.4 190.5 L1255 182.9 L1257.4 178 L1262.9 170.1 L1257.4 167.5 L1253.2 170.1 L1244.7 175.7 L1233.2 170.1 L1231.9 160.8 L1230.3 170.1 L1219.1 179.8 L1214.5 170.1 L1219.1 158 L1225.3 157.4 L1231.9 157 L1239.9 144.7 L1234.1 131.9 L1231.9 125.3 L1229.5 119.2 L1219.1 113.7 L1215.6 106.4 L1206.3 93.9 L1196.1 106.4 L1200.3 119.2 L1206.3 127.8 L1215.9 131.9 L1209.4 144.7 L1216.7 157.4 L1206.3 158.7 L1193.6 167 L1184.6 157.4 L1180.8 154.8 L1172.3 144.7 L1168 139.7 L1164.1 144.7 L1155.2 149.5 L1146.7 157.4 L1155.2 168 L1168 162.2 L1171.5 170.1 L1168 177 L1155.2 177.6 L1142.5 176.2 L1129.7 175.6 L1126.5 182.9 L1129.7 190 L1142.5 187.7 L1155.2 188.8 L1164.1 195.6 L1168 206.4 L1174.4 195.6 L1172.9 182.9 L1180.8 178.5 L1185.6 182.9 L1193.6 189.9 L1206.3 187.4 L1219.1 189.5 L1221.2 195.6 L1219.1 199.5 L1206.3 199 L1193.6 203.4 L1183 208.4 L1193.6 214.2 L1202.7 221.1 L1206.3 223.5 L1219.1 226.3 L1223 221.1 L1230.3 208.4 L1231.9 207.6 L1239 208.4 L1235.5 221.1 L1231.9 227.1 L1223.8 233.9 L1230.8 246.6 L1231.9 248.5 L1240.1 259.4 L1244.7 269.9 L1246.3 272.1 L1250 284.8 L1244.7 287.1 L1231.9 289.7 L1223.9 297.6 L1225.9 310.3 L1220.4 323.1 L1225.2 335.8 L1219.1 338.5 L1216.9 335.8 L1206.3 326.4 L1198.6 323.1 L1193.6 319.4 L1183.2 323.1 L1180.8 325.3 L1179.4 323.1 L1180.8 318.7 L1182.7 310.3 L1193.6 299.7 L1199 297.6 L1206.3 294.3 L1219.1 287 L1221.2 284.8 L1219.1 272.1 L1219.1 272.1 L1206.3 271.3 L1193.6 267.3 L1183.6 259.4 L1193.6 253.6 L1201 246.6 L1193.6 236.3 L1188.5 233.9 L1183.9 221.1 L1180.8 212.9 L1177.7 221.1 L1173.4 233.9 L1180.8 239.8 L1184.5 246.6 L1180.8 254.7 L1172.3 259.4 L1168 263.7 L1165.7 259.4 L1158.9 246.6 L1155.2 239.6 L1150.3 246.6 L1142.5 257 L1139.9 259.4 L1142.5 261.2 L1155.2 269.8 L1159.6 272.1 L1155.2 274.9 L1142.5 282.8 L1129.7 276.1 L1116.9 280.8 L1108.9 272.1 L1104.2 262 L1099.5 259.4 L1095.8 246.6 L1091.4 239.8M1168 397.4 L1158.8 399.6 L1155.2 401.5 L1152.9 412.3 L1147.3 425 L1155.2 437 L1158.7 437.8 L1168 442.4 L1172.1 437.8 L1177.5 425 L1168 414.6 L1162.3 412.3 L1168 404.3 L1170.3 399.6ZM1321.3 396.7 L1317.6 399.6 L1321.3 402.1 L1324.6 399.6ZM1116.9 411.9 L1116.2 412.3 L1106.7 425 L1106.5 437.8 L1116.9 441.1 L1123 437.8 L1124.9 425 L1129.7 413.4 L1130.6 412.3 L1129.7 410.4ZM1397.9 401.6 L1385.1 405.4 L1382 399.6 L1379.9 386.8 L1385.1 382 L1391.9 386.8 L1397.9 398.2M1091.4 424.4 L1100.2 412.3 L1104.2 404.9 L1107.6 399.6 L1104.2 394.8 L1094.7 399.6 L1091.4 400.8M1270.2 422.7 L1264.2 425 L1268.1 437.8 L1270.2 438.3 L1270.3 437.8 L1283 429.6 L1287.2 437.8 L1292 450.5 L1291.4 463.3 L1295.7 468.3 L1298.3 463.3 L1301.6 450.5 L1303.2 437.8 L1308.5 427.8 L1311.1 425 L1308.5 416.4 L1295.7 416.2 L1283 412.6ZM1206.3 433.4 L1200.4 437.8 L1206.3 443.1 L1211.8 437.8ZM1321.3 431 L1314.2 437.8 L1321.3 446.1 L1328.2 437.8ZM1397.9 429.5 L1385.1 432.2 L1382.2 425 L1385.1 421.1 L1397.9 416.4M1091.4 447.7 L1103.2 437.8 L1091.4 426.2M1129.7 442.8 L1124.9 450.5 L1129.7 458.1 L1132.6 450.5ZM1180.8 445.2 L1174.9 450.5 L1180.8 458.8 L1183.7 450.5ZM1116.9 458.5 L1108.8 463.3 L1116.9 470.1 L1124.6 463.3ZM1397.9 450.8 L1385.1 456.5 L1373.7 463.3 L1372.4 464.4 L1369.6 463.3 L1362.3 450.5 L1369.5 437.8 L1372.4 433.9 L1380.8 437.8 L1385.1 439.7 L1397.9 450.3M1384 476 L1385.1 474.7 L1388 476 L1385.1 477ZM1283 483.7 L1280.3 488.8 L1283 491.9 L1295.7 495.4 L1298.8 488.8 L1295.7 480.1ZM1091.4 500.8 L1091.6 501.5 L1091.7 514.3 L1099.5 527 L1104.2 538.1 L1109.4 527 L1116.9 521 L1122.9 514.3 L1116.9 506 L1110.7 501.5 L1116.9 497.4 L1129.3 501.5 L1129.7 501.7 L1142.5 508.2 L1147.3 514.3 L1151 527 L1155.2 535.3 L1159.4 527 L1166.1 514.3 L1168 503.2 L1168.3 501.5 L1168 501.2 L1155.2 497.2 L1142.5 494.2 L1129.7 500.5 L1127.5 488.8 L1116.9 479.7 L1104.2 478.5 L1097.1 476 L1097.5 463.3 L1091.4 456.8M1334 501.5 L1334.1 501.4 L1334.2 501.5 L1334.1 501.8ZM1397.9 521.9 L1388.3 514.3 L1397.9 503.7M1129.7 539.2 L1129.4 539.7 L1124.8 552.5 L1129.7 554.9 L1134.8 552.5 L1142.5 541.9 L1144.2 539.7 L1142.5 539.2ZM1091.4 574.1 L1098.5 578 L1104.2 582 L1108.3 590.7M1177 578 L1180.8 568.9 L1185.6 578 L1180.8 587.6ZM1121.7 590.7 L1129.7 584.6 L1142.5 585.5 L1155.2 587.9 L1161.1 590.7M1205.2 590.7 L1206.3 590.3 L1219.1 585.9 L1231.9 588.4 L1240 590.7M1259.7 590.7 L1264.8 578 L1266.1 565.2 L1267 552.5 L1270.2 546 L1275.8 552.5 L1283 557.6 L1289.6 565.2 L1283 570.7 L1276.3 578 L1283 585.1 L1295.7 584 L1307.9 590.7M1332.9 590.7 L1334.1 586.6 L1337.1 578 L1346.8 570.1 L1354.3 565.2 L1359.6 562.6 L1363.2 565.2 L1372.4 569.2 L1376.6 565.2 L1385 552.5 L1379.9 539.7 L1385.1 535.7 L1397.9 529.6M1396.4 590.7 L1391.6 578 L1385.1 573.5 L1380.9 578 L1379.3 590.7" fill="none" stroke="#80f468" stroke-width="2.45" stroke-linejoin="round" stroke-linecap="round" opacity=".9" filter="url(#soft)"/><rect x="1187.3" y="394.9" width="88.4" height="142.3" rx="7" ry="7" fill="none" stroke="#9184b0" stroke-width="1.8" opacity=".9"/></g>
<g clip-path="url(#c21)"><g filter="url(#jetd)"><rect x="1055" y="614.9" width="379.3" height="569.8" fill="#808080"/><rect x="1085" y="644.9" width="13" height="12.9" fill="#787878"/><rect x="1085" y="670.4" width="13" height="12.9" fill="#848484"/><rect x="1085" y="734.1" width="13" height="12.9" fill="#878787"/><rect x="1085" y="772.4" width="13" height="25.7" fill="#787878"/><rect x="1085" y="797.8" width="13" height="12.9" fill="#878787"/><rect x="1085" y="823.3" width="13" height="12.9" fill="#8a8a8a"/><rect x="1085" y="861.6" width="13" height="12.9" fill="#787878"/><rect x="1085" y="887.1" width="13" height="12.9" fill="#878787"/><rect x="1085" y="899.8" width="13" height="25.7" fill="#8a8a8a"/><rect x="1085" y="925.3" width="13" height="12.9" fill="#878787"/><rect x="1085" y="938" width="13" height="12.9" fill="#6f6f6f"/><rect x="1085" y="963.5" width="13" height="12.9" fill="#8a8a8a"/><rect x="1085" y="989" width="13" height="12.9" fill="#878787"/><rect x="1085" y="1014.5" width="13" height="25.7" fill="#787878"/><rect x="1085" y="1052.7" width="13" height="12.9" fill="#878787"/><rect x="1097.8" y="644.9" width="13" height="12.9" fill="#7b7b7b"/><rect x="1097.8" y="657.6" width="13" height="12.9" fill="#757575"/><rect x="1097.8" y="670.4" width="13" height="12.9" fill="#7b7b7b"/><rect x="1097.8" y="695.9" width="13" height="12.9" fill="#787878"/><rect x="1097.8" y="708.6" width="13" height="12.9" fill="#878787"/><rect x="1097.8" y="746.9" width="13" height="12.9" fill="#727272"/><rect x="1097.8" y="759.6" width="13" height="12.9" fill="#696969"/><rect x="1097.8" y="810.6" width="13" height="12.9" fill="#787878"/><rect x="1097.8" y="823.3" width="13" height="12.9" fill="#878787"/><rect x="1097.8" y="848.8" width="13" height="12.9" fill="#787878"/><rect x="1097.8" y="861.6" width="13" height="12.9" fill="#727272"/><rect x="1097.8" y="912.5" width="13" height="25.7" fill="#878787"/><rect x="1097.8" y="950.8" width="13" height="12.9" fill="#8d8d8d"/><rect x="1097.8" y="963.5" width="13" height="12.9" fill="#909090"/><rect x="1097.8" y="1027.2" width="13" height="25.7" fill="#787878"/><rect x="1097.8" y="1091" width="13" height="12.9" fill="#727272"/><rect x="1097.8" y="1103.7" width="13" height="12.9" fill="#757575"/><rect x="1097.8" y="1129.2" width="13" height="12.9" fill="#848484"/><rect x="1097.8" y="1142" width="13" height="12.9" fill="#878787"/><rect x="1110.5" y="657.6" width="13" height="12.9" fill="#787878"/><rect x="1110.5" y="670.4" width="13" height="12.9" fill="#727272"/><rect x="1110.5" y="683.1" width="13" height="12.9" fill="#787878"/><rect x="1110.5" y="695.9" width="13" height="12.9" fill="#757575"/><rect x="1110.5" y="759.6" width="13" height="12.9" fill="#787878"/><rect x="1110.5" y="836.1" width="13" height="12.9" fill="#787878"/><rect x="1110.5" y="861.6" width="13" height="12.9" fill="#7b7b7b"/><rect x="1110.5" y="899.8" width="13" height="12.9" fill="#848484"/><rect x="1110.5" y="912.5" width="13" height="12.9" fill="#8d8d8d"/><rect x="1110.5" y="925.3" width="13" height="12.9" fill="#8a8a8a"/><rect x="1110.5" y="938" width="13" height="12.9" fill="#787878"/><rect x="1110.5" y="976.3" width="13" height="12.9" fill="#787878"/><rect x="1110.5" y="1040" width="13" height="12.9" fill="#787878"/><rect x="1110.5" y="1052.7" width="13" height="25.7" fill="#878787"/><rect x="1110.5" y="1091" width="13" height="12.9" fill="#757575"/><rect x="1110.5" y="1103.7" width="13" height="12.9" fill="#787878"/><rect x="1123.3" y="644.9" width="13" height="12.9" fill="#8a8a8a"/><rect x="1123.3" y="670.4" width="13" height="12.9" fill="#696969"/><rect x="1123.3" y="683.1" width="13" height="12.9" fill="#757575"/><rect x="1123.3" y="695.9" width="13" height="12.9" fill="#6c6c6c"/><rect x="1123.3" y="708.6" width="13" height="12.9" fill="#727272"/><rect x="1123.3" y="721.4" width="13" height="12.9" fill="#757575"/><rect x="1123.3" y="772.4" width="13" height="12.9" fill="#848484"/><rect x="1123.3" y="810.6" width="13" height="12.9" fill="#878787"/><rect x="1123.3" y="861.6" width="13" height="12.9" fill="#7b7b7b"/><rect x="1123.3" y="963.5" width="13" height="12.9" fill="#757575"/><rect x="1123.3" y="976.3" width="13" height="12.9" fill="#787878"/><rect x="1123.3" y="1001.8" width="13" height="12.9" fill="#7b7b7b"/><rect x="1123.3" y="1027.2" width="13" height="12.9" fill="#878787"/><rect x="1123.3" y="1078.2" width="13" height="12.9" fill="#848484"/><rect x="1136.1" y="644.9" width="13" height="12.9" fill="#909090"/><rect x="1136.1" y="657.6" width="13" height="12.9" fill="#848484"/><rect x="1136.1" y="670.4" width="13" height="12.9" fill="#787878"/><rect x="1136.1" y="695.9" width="13" height="12.9" fill="#8a8a8a"/><rect x="1136.1" y="708.6" width="13" height="12.9" fill="#939393"/><rect x="1136.1" y="721.4" width="13" height="12.9" fill="#8d8d8d"/><rect x="1136.1" y="746.9" width="13" height="25.7" fill="#878787"/><rect x="1136.1" y="772.4" width="13" height="12.9" fill="#8d8d8d"/><rect x="1136.1" y="785.1" width="13" height="12.9" fill="#939393"/><rect x="1136.1" y="797.8" width="13" height="12.9" fill="#8a8a8a"/><rect x="1136.1" y="887.1" width="13" height="12.9" fill="#787878"/><rect x="1136.1" y="912.5" width="13" height="12.9" fill="#727272"/><rect x="1136.1" y="925.3" width="13" height="51.2" fill="#757575"/><rect x="1136.1" y="976.3" width="13" height="25.7" fill="#6f6f6f"/><rect x="1136.1" y="1001.8" width="13" height="12.9" fill="#5a5a5a"/><rect x="1136.1" y="1014.5" width="13" height="12.9" fill="#515151"/><rect x="1136.1" y="1027.2" width="13" height="12.9" fill="#6c6c6c"/><rect x="1136.1" y="1040" width="13" height="12.9" fill="#515151"/><rect x="1136.1" y="1052.7" width="13" height="12.9" fill="#7b7b7b"/><rect x="1136.1" y="1065.5" width="13" height="25.7" fill="#757575"/><rect x="1136.1" y="1103.7" width="13" height="12.9" fill="#878787"/><rect x="1148.9" y="644.9" width="13" height="12.9" fill="#8a8a8a"/><rect x="1148.9" y="708.6" width="13" height="12.9" fill="#878787"/><rect x="1148.9" y="734.1" width="13" height="12.9" fill="#727272"/><rect x="1148.9" y="785.1" width="13" height="12.9" fill="#787878"/><rect x="1148.9" y="797.8" width="13" height="12.9" fill="#727272"/><rect x="1148.9" y="810.6" width="13" height="38.4" fill="#787878"/><rect x="1148.9" y="887.1" width="13" height="12.9" fill="#7b7b7b"/><rect x="1148.9" y="899.8" width="13" height="12.9" fill="#787878"/><rect x="1148.9" y="976.3" width="13" height="12.9" fill="#787878"/><rect x="1148.9" y="989" width="13" height="12.9" fill="#878787"/><rect x="1148.9" y="1014.5" width="13" height="12.9" fill="#727272"/><rect x="1148.9" y="1091" width="13" height="12.9" fill="#575757"/><rect x="1161.6" y="644.9" width="13" height="12.9" fill="#878787"/><rect x="1161.6" y="657.6" width="13" height="12.9" fill="#757575"/><rect x="1161.6" y="670.4" width="13" height="12.9" fill="#6c6c6c"/><rect x="1161.6" y="683.1" width="13" height="12.9" fill="#6f6f6f"/><rect x="1161.6" y="695.9" width="13" height="12.9" fill="#696969"/><rect x="1161.6" y="708.6" width="13" height="12.9" fill="#727272"/><rect x="1161.6" y="721.4" width="13" height="51.2" fill="#787878"/><rect x="1161.6" y="785.1" width="13" height="12.9" fill="#787878"/><rect x="1161.6" y="823.3" width="13" height="12.9" fill="#757575"/><rect x="1161.6" y="836.1" width="13" height="12.9" fill="#727272"/><rect x="1161.6" y="848.8" width="13" height="12.9" fill="#787878"/><rect x="1161.6" y="861.6" width="13" height="12.9" fill="#878787"/><rect x="1161.6" y="874.3" width="13" height="12.9" fill="#9f9f9f"/><rect x="1161.6" y="887.1" width="13" height="12.9" fill="#a8a8a8"/><rect x="1161.6" y="899.8" width="13" height="38.4" fill="#ababab"/><rect x="1161.6" y="938" width="13" height="25.7" fill="#a8a8a8"/><rect x="1161.6" y="963.5" width="13" height="12.9" fill="#9c9c9c"/><rect x="1161.6" y="976.3" width="13" height="12.9" fill="#909090"/><rect x="1161.6" y="989" width="13" height="25.7" fill="#a2a2a2"/><rect x="1161.6" y="1014.5" width="13" height="12.9" fill="#8a8a8a"/><rect x="1161.6" y="1040" width="13" height="12.9" fill="#878787"/><rect x="1161.6" y="1052.7" width="13" height="12.9" fill="#ababab"/><rect x="1161.6" y="1065.5" width="13" height="12.9" fill="#909090"/><rect x="1161.6" y="1078.2" width="13" height="12.9" fill="#969696"/><rect x="1161.6" y="1091" width="13" height="12.9" fill="#a5a5a5"/><rect x="1161.6" y="1103.7" width="13" height="12.9" fill="#848484"/><rect x="1174.4" y="644.9" width="13" height="12.9" fill="#878787"/><rect x="1174.4" y="670.4" width="13" height="12.9" fill="#8a8a8a"/><rect x="1174.4" y="683.1" width="13" height="12.9" fill="#878787"/><rect x="1174.4" y="695.9" width="13" height="12.9" fill="#8a8a8a"/><rect x="1174.4" y="708.6" width="13" height="25.7" fill="#878787"/><rect x="1174.4" y="746.9" width="13" height="12.9" fill="#848484"/><rect x="1174.4" y="810.6" width="13" height="12.9" fill="#7b7b7b"/><rect x="1174.4" y="823.3" width="13" height="12.9" fill="#727272"/><rect x="1174.4" y="836.1" width="13" height="12.9" fill="#6f6f6f"/><rect x="1174.4" y="848.8" width="13" height="12.9" fill="#757575"/><rect x="1174.4" y="887.1" width="13" height="12.9" fill="#696969"/><rect x="1174.4" y="899.8" width="13" height="12.9" fill="#575757"/><rect x="1174.4" y="912.5" width="13" height="25.7" fill="#545454"/><rect x="1174.4" y="938" width="13" height="12.9" fill="#4e4e4e"/><rect x="1174.4" y="950.8" width="13" height="25.7" fill="#454545"/><rect x="1174.4" y="976.3" width="13" height="12.9" fill="#606060"/><rect x="1174.4" y="989" width="13" height="12.9" fill="#757575"/><rect x="1174.4" y="1052.7" width="13" height="12.9" fill="#8d8d8d"/><rect x="1174.4" y="1065.5" width="13" height="12.9" fill="#8a8a8a"/><rect x="1174.4" y="1078.2" width="13" height="12.9" fill="#878787"/><rect x="1174.4" y="1091" width="13" height="12.9" fill="#6c6c6c"/><rect x="1187.2" y="708.6" width="13" height="12.9" fill="#787878"/><rect x="1187.2" y="721.4" width="13" height="12.9" fill="#757575"/><rect x="1187.2" y="734.1" width="13" height="12.9" fill="#6c6c6c"/><rect x="1187.2" y="746.9" width="13" height="12.9" fill="#636363"/><rect x="1187.2" y="759.6" width="13" height="12.9" fill="#666666"/><rect x="1187.2" y="772.4" width="13" height="12.9" fill="#6c6c6c"/><rect x="1187.2" y="785.1" width="13" height="12.9" fill="#7b7b7b"/><rect x="1187.2" y="797.8" width="13" height="25.7" fill="#878787"/><rect x="1187.2" y="823.3" width="13" height="12.9" fill="#8a8a8a"/><rect x="1187.2" y="836.1" width="13" height="12.9" fill="#878787"/><rect x="1187.2" y="861.6" width="13" height="12.9" fill="#8a8a8a"/><rect x="1187.2" y="874.3" width="13" height="12.9" fill="#8d8d8d"/><rect x="1187.2" y="887.1" width="13" height="12.9" fill="#848484"/><rect x="1187.2" y="912.5" width="13" height="12.9" fill="#8a8a8a"/><rect x="1187.2" y="925.3" width="13" height="12.9" fill="#848484"/><rect x="1187.2" y="950.8" width="13" height="12.9" fill="#878787"/><rect x="1187.2" y="963.5" width="13" height="12.9" fill="#9f9f9f"/><rect x="1187.2" y="1001.8" width="13" height="12.9" fill="#878787"/><rect x="1187.2" y="1014.5" width="13" height="12.9" fill="#9f9f9f"/><rect x="1187.2" y="1065.5" width="13" height="12.9" fill="#a8a8a8"/><rect x="1187.2" y="1078.2" width="13" height="12.9" fill="#bdbdbd"/><rect x="1187.2" y="1091" width="13" height="12.9" fill="#8d8d8d"/><rect x="1187.2" y="1103.7" width="13" height="12.9" fill="#787878"/><rect x="1199.9" y="695.9" width="13" height="12.9" fill="#787878"/><rect x="1199.9" y="708.6" width="13" height="12.9" fill="#727272"/><rect x="1199.9" y="721.4" width="13" height="25.7" fill="#757575"/><rect x="1199.9" y="746.9" width="13" height="12.9" fill="#6f6f6f"/><rect x="1199.9" y="759.6" width="13" height="12.9" fill="#727272"/><rect x="1199.9" y="772.4" width="13" height="12.9" fill="#757575"/><rect x="1199.9" y="785.1" width="13" height="12.9" fill="#787878"/><rect x="1199.9" y="848.8" width="13" height="38.4" fill="#7b7b7b"/><rect x="1199.9" y="887.1" width="13" height="12.9" fill="#727272"/><rect x="1199.9" y="899.8" width="13" height="38.4" fill="#757575"/><rect x="1199.9" y="938" width="13" height="12.9" fill="#727272"/><rect x="1199.9" y="950.8" width="13" height="12.9" fill="#6f6f6f"/><rect x="1199.9" y="963.5" width="13" height="12.9" fill="#727272"/><rect x="1199.9" y="976.3" width="13" height="12.9" fill="#6f6f6f"/><rect x="1199.9" y="989" width="13" height="12.9" fill="#757575"/><rect x="1212.7" y="644.9" width="13" height="12.9" fill="#8d8d8d"/><rect x="1212.7" y="657.6" width="13" height="12.9" fill="#878787"/><rect x="1212.7" y="683.1" width="13" height="25.7" fill="#787878"/><rect x="1212.7" y="708.6" width="13" height="12.9" fill="#727272"/><rect x="1212.7" y="721.4" width="13" height="12.9" fill="#6f6f6f"/><rect x="1212.7" y="734.1" width="13" height="12.9" fill="#5d5d5d"/><rect x="1212.7" y="746.9" width="13" height="12.9" fill="#666666"/><rect x="1212.7" y="759.6" width="13" height="12.9" fill="#5a5a5a"/><rect x="1212.7" y="772.4" width="13" height="12.9" fill="#5d5d5d"/><rect x="1212.7" y="785.1" width="13" height="12.9" fill="#575757"/><rect x="1212.7" y="797.8" width="13" height="25.7" fill="#696969"/><rect x="1212.7" y="823.3" width="13" height="38.4" fill="#6c6c6c"/><rect x="1212.7" y="861.6" width="13" height="25.7" fill="#666666"/><rect x="1212.7" y="887.1" width="13" height="12.9" fill="#696969"/><rect x="1212.7" y="899.8" width="13" height="12.9" fill="#6c6c6c"/><rect x="1212.7" y="912.5" width="13" height="12.9" fill="#6f6f6f"/><rect x="1212.7" y="925.3" width="13" height="12.9" fill="#727272"/><rect x="1212.7" y="938" width="13" height="12.9" fill="#787878"/><rect x="1212.7" y="950.8" width="13" height="12.9" fill="#7b7b7b"/><rect x="1212.7" y="976.3" width="13" height="12.9" fill="#6f6f6f"/><rect x="1212.7" y="989" width="13" height="12.9" fill="#5a5a5a"/><rect x="1212.7" y="1001.8" width="13" height="12.9" fill="#727272"/><rect x="1212.7" y="1014.5" width="13" height="12.9" fill="#6f6f6f"/><rect x="1212.7" y="1027.2" width="13" height="12.9" fill="#727272"/><rect x="1212.7" y="1040" width="13" height="12.9" fill="#696969"/><rect x="1212.7" y="1052.7" width="13" height="12.9" fill="#424242"/><rect x="1212.7" y="1065.5" width="13" height="12.9" fill="#5a5a5a"/><rect x="1212.7" y="1091" width="13" height="12.9" fill="#c0c0c0"/><rect x="1212.7" y="1103.7" width="13" height="38.4" fill="#787878"/><rect x="1212.7" y="1142" width="13" height="12.9" fill="#7b7b7b"/><rect x="1225.5" y="644.9" width="13" height="25.7" fill="#8d8d8d"/><rect x="1225.5" y="670.4" width="13" height="12.9" fill="#8a8a8a"/><rect x="1225.5" y="683.1" width="13" height="12.9" fill="#a2a2a2"/><rect x="1225.5" y="695.9" width="13" height="25.7" fill="#909090"/><rect x="1225.5" y="721.4" width="13" height="38.4" fill="#939393"/><rect x="1225.5" y="759.6" width="13" height="12.9" fill="#909090"/><rect x="1225.5" y="772.4" width="13" height="12.9" fill="#848484"/><rect x="1225.5" y="836.1" width="13" height="12.9" fill="#878787"/><rect x="1225.5" y="848.8" width="13" height="25.7" fill="#8d8d8d"/><rect x="1225.5" y="874.3" width="13" height="12.9" fill="#909090"/><rect x="1225.5" y="887.1" width="13" height="12.9" fill="#8a8a8a"/><rect x="1225.5" y="912.5" width="13" height="12.9" fill="#727272"/><rect x="1225.5" y="925.3" width="13" height="25.7" fill="#6f6f6f"/><rect x="1225.5" y="950.8" width="13" height="12.9" fill="#6c6c6c"/><rect x="1225.5" y="963.5" width="13" height="12.9" fill="#545454"/><rect x="1225.5" y="976.3" width="13" height="12.9" fill="#757575"/><rect x="1225.5" y="989" width="13" height="25.7" fill="#787878"/><rect x="1225.5" y="1014.5" width="13" height="12.9" fill="#757575"/><rect x="1225.5" y="1027.2" width="13" height="12.9" fill="#787878"/><rect x="1225.5" y="1040" width="13" height="12.9" fill="#757575"/><rect x="1225.5" y="1065.5" width="13" height="12.9" fill="#8d8d8d"/><rect x="1225.5" y="1078.2" width="13" height="12.9" fill="#c3c3c3"/><rect x="1225.5" y="1103.7" width="13" height="12.9" fill="#6c6c6c"/><rect x="1225.5" y="1129.2" width="13" height="25.7" fill="#787878"/><rect x="1238.3" y="644.9" width="13" height="12.9" fill="#9c9c9c"/><rect x="1238.3" y="657.6" width="13" height="12.9" fill="#969696"/><rect x="1238.3" y="670.4" width="13" height="12.9" fill="#939393"/><rect x="1238.3" y="683.1" width="13" height="12.9" fill="#909090"/><rect x="1238.3" y="695.9" width="13" height="12.9" fill="#8d8d8d"/><rect x="1238.3" y="708.6" width="13" height="12.9" fill="#969696"/><rect x="1238.3" y="721.4" width="13" height="12.9" fill="#9f9f9f"/><rect x="1238.3" y="759.6" width="13" height="12.9" fill="#878787"/><rect x="1238.3" y="772.4" width="13" height="12.9" fill="#8a8a8a"/><rect x="1238.3" y="785.1" width="13" height="25.7" fill="#8d8d8d"/><rect x="1238.3" y="810.6" width="13" height="12.9" fill="#939393"/><rect x="1238.3" y="823.3" width="13" height="12.9" fill="#969696"/><rect x="1238.3" y="836.1" width="13" height="12.9" fill="#a5a5a5"/><rect x="1238.3" y="848.8" width="13" height="12.9" fill="#969696"/><rect x="1238.3" y="861.6" width="13" height="12.9" fill="#a2a2a2"/><rect x="1238.3" y="874.3" width="13" height="12.9" fill="#ababab"/><rect x="1238.3" y="887.1" width="13" height="12.9" fill="#a8a8a8"/><rect x="1238.3" y="899.8" width="13" height="12.9" fill="#a5a5a5"/><rect x="1238.3" y="912.5" width="13" height="12.9" fill="#a8a8a8"/><rect x="1238.3" y="925.3" width="13" height="12.9" fill="#b4b4b4"/><rect x="1238.3" y="938" width="13" height="25.7" fill="#b7b7b7"/><rect x="1238.3" y="963.5" width="13" height="12.9" fill="#b4b4b4"/><rect x="1238.3" y="976.3" width="13" height="12.9" fill="#b1b1b1"/><rect x="1238.3" y="989" width="13" height="12.9" fill="#9f9f9f"/><rect x="1238.3" y="1001.8" width="13" height="12.9" fill="#8a8a8a"/><rect x="1238.3" y="1014.5" width="13" height="25.7" fill="#878787"/><rect x="1238.3" y="1052.7" width="13" height="12.9" fill="#8a8a8a"/><rect x="1238.3" y="1065.5" width="13" height="12.9" fill="#c3c3c3"/><rect x="1238.3" y="1078.2" width="13" height="12.9" fill="#8a8a8a"/><rect x="1238.3" y="1091" width="13" height="12.9" fill="#696969"/><rect x="1238.3" y="1116.5" width="13" height="12.9" fill="#848484"/><rect x="1238.3" y="1129.2" width="13" height="25.7" fill="#878787"/><rect x="1251" y="708.6" width="13" height="12.9" fill="#8a8a8a"/><rect x="1251" y="734.1" width="13" height="12.9" fill="#6f6f6f"/><rect x="1251" y="746.9" width="13" height="12.9" fill="#666666"/><rect x="1251" y="759.6" width="13" height="12.9" fill="#696969"/><rect x="1251" y="772.4" width="13" height="12.9" fill="#666666"/><rect x="1251" y="785.1" width="13" height="25.7" fill="#636363"/><rect x="1251" y="810.6" width="13" height="12.9" fill="#666666"/><rect x="1251" y="823.3" width="13" height="12.9" fill="#6f6f6f"/><rect x="1251" y="836.1" width="13" height="12.9" fill="#727272"/><rect x="1251" y="848.8" width="13" height="12.9" fill="#6f6f6f"/><rect x="1251" y="861.6" width="13" height="12.9" fill="#727272"/><rect x="1251" y="874.3" width="13" height="12.9" fill="#696969"/><rect x="1251" y="887.1" width="13" height="12.9" fill="#6f6f6f"/><rect x="1251" y="899.8" width="13" height="12.9" fill="#787878"/><rect x="1251" y="950.8" width="13" height="25.7" fill="#909090"/><rect x="1251" y="976.3" width="13" height="25.7" fill="#939393"/><rect x="1251" y="1001.8" width="13" height="12.9" fill="#8a8a8a"/><rect x="1251" y="1014.5" width="13" height="12.9" fill="#878787"/><rect x="1251" y="1040" width="13" height="12.9" fill="#6f6f6f"/><rect x="1251" y="1052.7" width="13" height="12.9" fill="#545454"/><rect x="1251" y="1065.5" width="13" height="12.9" fill="#6c6c6c"/><rect x="1251" y="1091" width="13" height="12.9" fill="#393939"/><rect x="1251" y="1116.5" width="13" height="25.7" fill="#878787"/><rect x="1251" y="1142" width="13" height="12.9" fill="#8a8a8a"/><rect x="1263.8" y="644.9" width="13" height="12.9" fill="#7b7b7b"/><rect x="1263.8" y="657.6" width="13" height="12.9" fill="#787878"/><rect x="1263.8" y="670.4" width="13" height="12.9" fill="#757575"/><rect x="1263.8" y="708.6" width="13" height="12.9" fill="#878787"/><rect x="1263.8" y="759.6" width="13" height="38.4" fill="#757575"/><rect x="1263.8" y="823.3" width="13" height="25.7" fill="#8a8a8a"/><rect x="1263.8" y="848.8" width="13" height="12.9" fill="#878787"/><rect x="1263.8" y="938" width="13" height="12.9" fill="#757575"/><rect x="1263.8" y="950.8" width="13" height="12.9" fill="#878787"/><rect x="1263.8" y="963.5" width="13" height="12.9" fill="#a2a2a2"/><rect x="1263.8" y="976.3" width="13" height="12.9" fill="#c0c0c0"/><rect x="1263.8" y="989" width="13" height="25.7" fill="#d5d5d5"/><rect x="1263.8" y="1014.5" width="13" height="12.9" fill="#b4b4b4"/><rect x="1263.8" y="1027.2" width="13" height="12.9" fill="#9f9f9f"/><rect x="1263.8" y="1040" width="13" height="12.9" fill="#969696"/><rect x="1263.8" y="1052.7" width="13" height="12.9" fill="#999999"/><rect x="1263.8" y="1065.5" width="13" height="12.9" fill="#a2a2a2"/><rect x="1263.8" y="1078.2" width="13" height="12.9" fill="#ababab"/><rect x="1263.8" y="1091" width="13" height="12.9" fill="#e7e7e7"/><rect x="1263.8" y="1103.7" width="13" height="12.9" fill="#939393"/><rect x="1276.6" y="708.6" width="13" height="12.9" fill="#878787"/><rect x="1276.6" y="721.4" width="13" height="12.9" fill="#848484"/><rect x="1276.6" y="797.8" width="13" height="12.9" fill="#727272"/><rect x="1276.6" y="810.6" width="13" height="12.9" fill="#757575"/><rect x="1276.6" y="823.3" width="13" height="12.9" fill="#6c6c6c"/><rect x="1276.6" y="836.1" width="13" height="25.7" fill="#696969"/><rect x="1276.6" y="861.6" width="13" height="12.9" fill="#6c6c6c"/><rect x="1276.6" y="874.3" width="13" height="12.9" fill="#636363"/><rect x="1276.6" y="887.1" width="13" height="12.9" fill="#727272"/><rect x="1276.6" y="925.3" width="13" height="12.9" fill="#787878"/><rect x="1276.6" y="938" width="13" height="12.9" fill="#6f6f6f"/><rect x="1276.6" y="950.8" width="13" height="12.9" fill="#606060"/><rect x="1276.6" y="963.5" width="13" height="12.9" fill="#575757"/><rect x="1276.6" y="976.3" width="13" height="12.9" fill="#5d5d5d"/><rect x="1276.6" y="989" width="13" height="12.9" fill="#666666"/><rect x="1276.6" y="1001.8" width="13" height="12.9" fill="#515151"/><rect x="1276.6" y="1014.5" width="13" height="12.9" fill="#3f3f3f"/><rect x="1276.6" y="1027.2" width="13" height="12.9" fill="#3c3c3c"/><rect x="1276.6" y="1040" width="13" height="12.9" fill="#484848"/><rect x="1276.6" y="1052.7" width="13" height="12.9" fill="#4e4e4e"/><rect x="1276.6" y="1065.5" width="13" height="12.9" fill="#606060"/><rect x="1276.6" y="1078.2" width="13" height="12.9" fill="#787878"/><rect x="1276.6" y="1091" width="13" height="12.9" fill="#757575"/><rect x="1276.6" y="1116.5" width="13" height="38.4" fill="#878787"/><rect x="1289.4" y="644.9" width="13" height="12.9" fill="#8d8d8d"/><rect x="1289.4" y="657.6" width="13" height="12.9" fill="#878787"/><rect x="1289.4" y="683.1" width="13" height="12.9" fill="#848484"/><rect x="1289.4" y="734.1" width="13" height="12.9" fill="#787878"/><rect x="1289.4" y="746.9" width="13" height="12.9" fill="#7b7b7b"/><rect x="1289.4" y="772.4" width="13" height="12.9" fill="#787878"/><rect x="1289.4" y="887.1" width="13" height="12.9" fill="#848484"/><rect x="1289.4" y="899.8" width="13" height="12.9" fill="#909090"/><rect x="1289.4" y="912.5" width="13" height="12.9" fill="#8a8a8a"/><rect x="1289.4" y="925.3" width="13" height="12.9" fill="#8d8d8d"/><rect x="1289.4" y="938" width="13" height="12.9" fill="#8a8a8a"/><rect x="1289.4" y="989" width="13" height="12.9" fill="#787878"/><rect x="1289.4" y="1014.5" width="13" height="12.9" fill="#878787"/><rect x="1289.4" y="1027.2" width="13" height="12.9" fill="#969696"/><rect x="1289.4" y="1040" width="13" height="12.9" fill="#aeaeae"/><rect x="1289.4" y="1052.7" width="13" height="12.9" fill="#a5a5a5"/><rect x="1289.4" y="1065.5" width="13" height="12.9" fill="#ababab"/><rect x="1289.4" y="1078.2" width="13" height="12.9" fill="#dedede"/><rect x="1289.4" y="1091" width="13" height="12.9" fill="#d8d8d8"/><rect x="1289.4" y="1103.7" width="13" height="12.9" fill="#9c9c9c"/><rect x="1289.4" y="1129.2" width="13" height="12.9" fill="#8a8a8a"/><rect x="1302.1" y="683.1" width="13" height="25.7" fill="#878787"/><rect x="1302.1" y="759.6" width="13" height="12.9" fill="#878787"/><rect x="1302.1" y="772.4" width="13" height="25.7" fill="#8a8a8a"/><rect x="1302.1" y="797.8" width="13" height="12.9" fill="#939393"/><rect x="1302.1" y="810.6" width="13" height="25.7" fill="#8d8d8d"/><rect x="1302.1" y="887.1" width="13" height="12.9" fill="#787878"/><rect x="1302.1" y="925.3" width="13" height="12.9" fill="#878787"/><rect x="1302.1" y="938" width="13" height="12.9" fill="#a2a2a2"/><rect x="1302.1" y="950.8" width="13" height="12.9" fill="#aeaeae"/><rect x="1302.1" y="963.5" width="13" height="12.9" fill="#b1b1b1"/><rect x="1302.1" y="976.3" width="13" height="12.9" fill="#ababab"/><rect x="1302.1" y="989" width="13" height="12.9" fill="#969696"/><rect x="1302.1" y="1027.2" width="13" height="25.7" fill="#878787"/><rect x="1302.1" y="1052.7" width="13" height="12.9" fill="#8a8a8a"/><rect x="1302.1" y="1065.5" width="13" height="12.9" fill="#909090"/><rect x="1302.1" y="1078.2" width="13" height="12.9" fill="#9c9c9c"/><rect x="1302.1" y="1091" width="13" height="12.9" fill="#999999"/><rect x="1302.1" y="1103.7" width="13" height="12.9" fill="#8a8a8a"/><rect x="1314.9" y="683.1" width="13" height="12.9" fill="#787878"/><rect x="1314.9" y="695.9" width="13" height="12.9" fill="#878787"/><rect x="1314.9" y="734.1" width="13" height="12.9" fill="#878787"/><rect x="1314.9" y="759.6" width="13" height="25.7" fill="#878787"/><rect x="1314.9" y="785.1" width="13" height="12.9" fill="#8d8d8d"/><rect x="1314.9" y="823.3" width="13" height="12.9" fill="#8d8d8d"/><rect x="1314.9" y="874.3" width="13" height="12.9" fill="#848484"/><rect x="1314.9" y="938" width="13" height="25.7" fill="#878787"/><rect x="1314.9" y="976.3" width="13" height="12.9" fill="#757575"/><rect x="1314.9" y="1014.5" width="13" height="51.2" fill="#757575"/><rect x="1314.9" y="1078.2" width="13" height="12.9" fill="#757575"/><rect x="1327.7" y="657.6" width="13" height="12.9" fill="#787878"/><rect x="1327.7" y="670.4" width="13" height="12.9" fill="#7b7b7b"/><rect x="1327.7" y="708.6" width="13" height="12.9" fill="#878787"/><rect x="1327.7" y="746.9" width="13" height="12.9" fill="#6f6f6f"/><rect x="1327.7" y="759.6" width="13" height="12.9" fill="#7b7b7b"/><rect x="1327.7" y="785.1" width="13" height="12.9" fill="#787878"/><rect x="1327.7" y="797.8" width="13" height="12.9" fill="#727272"/><rect x="1327.7" y="836.1" width="13" height="12.9" fill="#787878"/><rect x="1327.7" y="861.6" width="13" height="12.9" fill="#757575"/><rect x="1327.7" y="912.5" width="13" height="12.9" fill="#878787"/><rect x="1327.7" y="1001.8" width="13" height="12.9" fill="#878787"/><rect x="1327.7" y="1014.5" width="13" height="12.9" fill="#848484"/><rect x="1327.7" y="1040" width="13" height="12.9" fill="#787878"/><rect x="1327.7" y="1065.5" width="13" height="12.9" fill="#7b7b7b"/><rect x="1340.4" y="657.6" width="13" height="12.9" fill="#757575"/><rect x="1340.4" y="683.1" width="13" height="12.9" fill="#848484"/><rect x="1340.4" y="734.1" width="13" height="25.7" fill="#878787"/><rect x="1340.4" y="785.1" width="13" height="12.9" fill="#7b7b7b"/><rect x="1340.4" y="797.8" width="13" height="12.9" fill="#757575"/><rect x="1340.4" y="823.3" width="13" height="12.9" fill="#787878"/><rect x="1340.4" y="836.1" width="13" height="12.9" fill="#7b7b7b"/><rect x="1340.4" y="848.8" width="13" height="12.9" fill="#757575"/><rect x="1340.4" y="874.3" width="13" height="12.9" fill="#878787"/><rect x="1340.4" y="925.3" width="13" height="12.9" fill="#7b7b7b"/><rect x="1340.4" y="1040" width="13" height="12.9" fill="#6f6f6f"/><rect x="1340.4" y="1103.7" width="13" height="12.9" fill="#8a8a8a"/><rect x="1353.2" y="644.9" width="13" height="12.9" fill="#848484"/><rect x="1353.2" y="670.4" width="13" height="12.9" fill="#878787"/><rect x="1353.2" y="683.1" width="13" height="12.9" fill="#8d8d8d"/><rect x="1353.2" y="708.6" width="13" height="12.9" fill="#7b7b7b"/><rect x="1353.2" y="721.4" width="13" height="12.9" fill="#757575"/><rect x="1353.2" y="759.6" width="13" height="12.9" fill="#757575"/><rect x="1353.2" y="772.4" width="13" height="12.9" fill="#848484"/><rect x="1353.2" y="797.8" width="13" height="12.9" fill="#727272"/><rect x="1353.2" y="810.6" width="13" height="12.9" fill="#757575"/><rect x="1353.2" y="861.6" width="13" height="12.9" fill="#757575"/><rect x="1353.2" y="912.5" width="13" height="12.9" fill="#787878"/><rect x="1353.2" y="925.3" width="13" height="12.9" fill="#7b7b7b"/><rect x="1353.2" y="950.8" width="13" height="12.9" fill="#757575"/><rect x="1353.2" y="963.5" width="13" height="12.9" fill="#787878"/><rect x="1353.2" y="976.3" width="13" height="12.9" fill="#7b7b7b"/><rect x="1353.2" y="1001.8" width="13" height="12.9" fill="#848484"/><rect x="1353.2" y="1014.5" width="13" height="12.9" fill="#8a8a8a"/><rect x="1353.2" y="1040" width="13" height="12.9" fill="#787878"/><rect x="1353.2" y="1078.2" width="13" height="12.9" fill="#727272"/><rect x="1353.2" y="1091" width="13" height="12.9" fill="#878787"/><rect x="1353.2" y="1116.5" width="13" height="12.9" fill="#848484"/><rect x="1366" y="657.6" width="13" height="12.9" fill="#878787"/><rect x="1366" y="695.9" width="13" height="12.9" fill="#787878"/><rect x="1366" y="708.6" width="13" height="12.9" fill="#757575"/><rect x="1366" y="721.4" width="13" height="25.7" fill="#787878"/><rect x="1366" y="746.9" width="13" height="12.9" fill="#7b7b7b"/><rect x="1366" y="772.4" width="13" height="12.9" fill="#8a8a8a"/><rect x="1366" y="836.1" width="13" height="12.9" fill="#878787"/><rect x="1366" y="848.8" width="13" height="12.9" fill="#7b7b7b"/><rect x="1366" y="861.6" width="13" height="12.9" fill="#727272"/><rect x="1366" y="874.3" width="13" height="12.9" fill="#848484"/><rect x="1366" y="912.5" width="13" height="12.9" fill="#757575"/><rect x="1366" y="963.5" width="13" height="12.9" fill="#757575"/><rect x="1366" y="976.3" width="13" height="12.9" fill="#787878"/><rect x="1366" y="1001.8" width="13" height="12.9" fill="#757575"/><rect x="1366" y="1040" width="13" height="12.9" fill="#7b7b7b"/><rect x="1366" y="1052.7" width="13" height="12.9" fill="#848484"/><rect x="1366" y="1078.2" width="13" height="12.9" fill="#757575"/><rect x="1366" y="1091" width="13" height="12.9" fill="#848484"/><rect x="1378.8" y="657.6" width="13" height="12.9" fill="#909090"/><rect x="1378.8" y="695.9" width="13" height="25.7" fill="#757575"/><rect x="1378.8" y="746.9" width="13" height="12.9" fill="#878787"/><rect x="1378.8" y="785.1" width="13" height="12.9" fill="#787878"/><rect x="1378.8" y="810.6" width="13" height="12.9" fill="#848484"/><rect x="1378.8" y="836.1" width="13" height="12.9" fill="#7b7b7b"/><rect x="1378.8" y="848.8" width="13" height="12.9" fill="#787878"/><rect x="1378.8" y="861.6" width="13" height="12.9" fill="#757575"/><rect x="1378.8" y="925.3" width="13" height="12.9" fill="#757575"/><rect x="1378.8" y="938" width="13" height="12.9" fill="#787878"/><rect x="1378.8" y="1014.5" width="13" height="12.9" fill="#7b7b7b"/><rect x="1378.8" y="1027.2" width="13" height="12.9" fill="#8a8a8a"/><rect x="1378.8" y="1065.5" width="13" height="12.9" fill="#878787"/><rect x="1378.8" y="1103.7" width="13" height="12.9" fill="#787878"/><rect x="1391.5" y="683.1" width="13" height="12.9" fill="#7b7b7b"/><rect x="1391.5" y="695.9" width="13" height="12.9" fill="#727272"/><rect x="1391.5" y="746.9" width="13" height="12.9" fill="#8a8a8a"/><rect x="1391.5" y="785.1" width="13" height="25.7" fill="#787878"/><rect x="1391.5" y="823.3" width="13" height="12.9" fill="#8a8a8a"/><rect x="1391.5" y="848.8" width="13" height="12.9" fill="#787878"/><rect x="1391.5" y="861.6" width="13" height="12.9" fill="#757575"/><rect x="1391.5" y="950.8" width="13" height="12.9" fill="#757575"/><rect x="1391.5" y="989" width="13" height="12.9" fill="#787878"/><rect x="1391.5" y="1014.5" width="13" height="12.9" fill="#757575"/><rect x="1391.5" y="1065.5" width="13" height="12.9" fill="#8d8d8d"/><rect x="1391.5" y="1103.7" width="13" height="12.9" fill="#878787"/><rect x="1391.5" y="1129.2" width="13" height="12.9" fill="#787878"/></g><path d="M1180.8 946.1 L1179.9 957.2 L1179.5 969.9 L1180.8 974 L1182 969.9 L1182.1 957.2ZM1283 1011.3 L1281.4 1020.9 L1280.8 1033.6 L1282 1046.4 L1283 1058.3 L1283.7 1046.4 L1285.3 1033.6 L1285.5 1020.9ZM1219.1 1055.7 L1216.9 1059.1 L1219.1 1064.8 L1221.3 1059.1ZM1257.4 1093.6 L1252.2 1097.3 L1257.4 1100.7 L1258.8 1097.3Z" fill="none" stroke="#00b2ff" stroke-width="2.45" stroke-linejoin="round" stroke-linecap="round" opacity=".9" filter="url(#soft)"/><path d="M1219.1 733.3 L1213.6 740.5 L1218 753.2 L1212.7 766 L1214.8 778.7 L1213.5 791.5 L1219.1 801.6 L1223.8 791.5 L1221.7 778.7 L1222.1 766 L1219.3 753.2 L1221.5 740.5ZM1193.6 749.4 L1192.4 753.2 L1193.6 764.8 L1197.1 753.2ZM1257.4 752.6 L1257.2 753.2 L1257.4 755.7 L1257.7 753.2ZM1257.4 773.5 L1257 778.7 L1256.2 791.5 L1256.7 804.2 L1257.4 817 L1257.4 817.1 L1257.5 817 L1258.4 804.2 L1259.9 791.5 L1258.5 778.7ZM1283 877.1 L1282.2 880.7 L1283 882.5 L1283.8 880.7ZM1180.8 895.6 L1178.4 906.2 L1178.1 918.9 L1178.1 931.7 L1177.3 944.4 L1176.6 957.2 L1175.7 969.9 L1179 982.6 L1180.8 987 L1183.6 982.6 L1185.5 969.9 L1187.2 957.2 L1187.1 944.4 L1185.5 931.7 L1185.1 918.9 L1185.2 906.2ZM1283 951.8 L1281 957.2 L1280.5 969.9 L1281.9 982.6 L1282.9 995.4 L1280.9 1008.1 L1278.6 1020.9 L1277.5 1033.6 L1277.9 1046.4 L1278.8 1059.1 L1281.6 1071.9 L1283 1075.4 L1284.1 1071.9 L1286.6 1059.1 L1286.9 1046.4 L1288.9 1033.6 L1289.9 1020.9 L1288.8 1008.1 L1283.1 995.4 L1286.5 982.6 L1287.9 969.9 L1285.4 957.2ZM1231.9 959.7 L1225.8 969.9 L1231.9 977 L1234.4 969.9ZM1219.1 988.1 L1213.1 995.4 L1219.1 1001.7 L1224.6 995.4ZM1142.5 1000.8 L1137.4 1008.1 L1136.5 1020.9 L1142.5 1030.5 L1150.8 1020.9 L1147.1 1008.1ZM1142.5 1036.8 L1136.7 1046.4 L1142.5 1052.9 L1148.6 1046.4ZM1219.1 1047.1 L1211.5 1059.1 L1215.3 1071.9 L1219.1 1076.1 L1222.3 1071.9 L1226.8 1059.1ZM1257.4 1050.4 L1253.4 1059.1 L1257.4 1068.4 L1260.6 1059.1ZM1155.2 1092.9 L1150.5 1097.3 L1155.2 1101.7 L1157.7 1097.3ZM1257.4 1088.7 L1245.4 1097.3 L1257.4 1105.2 L1260.7 1097.3Z" fill="none" stroke="#1affe5" stroke-width="2.45" stroke-linejoin="round" stroke-linecap="round" opacity=".9" filter="url(#soft)"/><path d="M1192.1 651.3 L1186.2 664 L1189.5 676.8 L1188.8 689.5 L1192.4 702.3 L1186.7 715 L1185.9 727.7 L1183 740.5 L1182.9 753.2 L1181.4 766 L1180.8 778.5 L1178.9 766 L1175.6 753.2 L1176.8 740.5 L1175 727.7 L1176.6 715 L1176.4 702.3 L1177.3 689.5 L1176.3 676.8 L1177.4 664 L1168 656.8 L1155.2 662.9 L1153 664 L1142.5 669.6 L1129.7 665.2 L1126.4 664 L1118.3 651.3M1256.8 651.3 L1257.4 658 L1259.2 664 L1259.4 676.8 L1259.8 689.5 L1264.4 702.3 L1270.2 704.4 L1272.9 702.3 L1278.3 689.5 L1283 682.1 L1287.6 676.8 L1288 664 L1283 656.9 L1277.7 651.3M1317.7 651.3 L1321.3 656.5 L1324.5 664 L1321.3 668 L1312.8 676.8 L1315.2 689.5 L1321.3 695.8 L1334.1 702 L1340.2 689.5 L1342.1 676.8 L1346.8 673.5 L1359.2 664 L1349.3 651.3M1091.4 669.9 L1097.7 676.8 L1104.2 686.8 L1106.7 689.5 L1104.2 691.9 L1094.2 702.3 L1104.2 708 L1114.4 715 L1110.7 727.7 L1116.9 732 L1124.8 740.5 L1129.7 744.9 L1134.8 740.5 L1135.4 727.7 L1134.7 715 L1138.3 702.3 L1141.5 689.5 L1142.5 687.9 L1155.2 686.6 L1156 689.5 L1157.2 702.3 L1159.6 715 L1159.3 727.7 L1155.2 730.5 L1145.1 740.5 L1151.6 753.2 L1155.2 760.7 L1158.5 766 L1168 775.4 L1180.7 778.7 L1168 782.1 L1155.2 780.6 L1151.2 791.5 L1147.9 804.2 L1146.6 817 L1146.4 829.7 L1144.4 842.4 L1142.5 844.8 L1129.7 847.3 L1125.8 842.4 L1119.8 829.7 L1120.8 817 L1116.9 805.8 L1104.2 804.6 L1092.2 817 L1104.2 823 L1115.2 829.7 L1104.3 842.4 L1104.2 842.6 L1091.4 849.1M1397.9 672.7 L1385.1 674.4 L1377.9 676.8 L1376.5 689.5 L1372.4 692.4 L1362.5 702.3 L1359.6 705.3 L1346.8 712.7 L1345.3 715 L1340.3 727.7 L1346.8 732.1 L1355.1 740.5 L1356.3 753.2 L1351 766 L1346.8 773.6 L1340.8 766 L1342.8 753.2 L1338.3 740.5 L1334.1 734.1 L1330 740.5 L1321.3 751.8 L1319.2 753.2 L1321.3 754.6 L1328.6 766 L1331.4 778.7 L1329.9 791.5 L1321.4 804.2 L1325 817 L1334.1 827 L1335.7 829.7 L1334.1 831 L1321.3 840.9 L1314.9 842.4 L1308.5 847.1 L1303.4 842.4 L1295.7 833.7 L1295 829.7 L1293.9 817 L1295.1 804.2 L1295.7 801.7 L1298.2 791.5 L1300.5 778.7 L1300.4 766 L1302.7 753.2 L1307.3 740.5 L1295.7 728.8 L1283 735.9 L1270.2 736.9 L1257.4 730.1 L1246.7 740.5 L1246.2 753.2 L1247.6 766 L1248 778.7 L1248.4 791.5 L1248.6 804.2 L1250 817 L1252.2 829.7 L1253.9 842.4 L1252.3 855.2 L1253.6 867.9 L1253 880.7 L1253.8 893.4 L1255.2 906.2 L1256.3 918.9 L1257.3 931.7 L1257.4 933.3 L1261.3 944.4 L1270.2 951.2 L1272.9 957.2 L1276.1 969.9 L1278.6 982.6 L1280 995.4 L1278.4 1008.1 L1275.9 1020.9 L1274.2 1033.6 L1273.9 1046.4 L1274.5 1059.1 L1276.7 1071.9 L1281.1 1084.6 L1281.8 1097.3 L1281.8 1110.1 L1283 1113 L1283.8 1110.1 L1284.3 1097.3 L1283.9 1084.6 L1288.4 1071.9 L1290.2 1059.1 L1290 1046.4 L1292.5 1033.6 L1294.4 1020.9 L1295.7 1009.5 L1297.8 1008.1 L1298.9 995.4 L1296.8 982.6 L1296.4 969.9 L1295.7 959.8 L1295.5 957.2 L1290.8 944.4 L1287.2 931.7 L1283.8 918.9 L1283 912.1 L1279.5 906.2 L1283 905.6 L1292.3 893.4 L1295.7 881.6 L1300.9 893.4 L1308.5 904.9 L1310.6 906.2 L1308.5 909.1 L1306.1 918.9 L1308.5 922.4 L1321.3 919.1 L1321.3 918.9 L1334.1 908.1 L1336.9 906.2 L1334.1 898.6 L1321.3 893.4 L1321.3 893.4 L1308.5 883.4 L1297.8 880.7 L1308.5 876.3 L1317.1 867.9 L1318.3 855.2 L1321.3 850.8 L1324.4 855.2 L1323.1 867.9 L1334.1 877.4 L1346.8 873.2 L1355.8 880.7 L1359.6 891.3 L1364 880.7 L1372.4 876.9 L1381.2 880.7 L1385.1 886.7 L1397.9 887.4M1397.9 766.5 L1391 778.7 L1385.1 782.7 L1376.4 791.5 L1379.4 804.2 L1385.1 808.6 L1397.9 812.7M1091.4 797.8 L1104.2 803.6 L1116.9 800.8 L1118.3 804.2 L1129.7 808.7 L1133.4 804.2 L1129.7 795.9 L1121.7 791.5 L1116.9 788.6 L1104.2 780.5 L1103.1 778.7 L1104.2 778.4 L1116.9 774.2 L1129.7 770.6 L1133.2 766 L1129.7 760.6 L1116.9 756.4 L1114.9 753.2 L1109.9 740.5 L1104.2 732.8 L1100.7 740.5 L1092.4 753.2 L1091.4 755.6M1182.6 804.2 L1193.6 797.2 L1201.1 804.2 L1201.5 817 L1203.3 829.7 L1205.1 842.4 L1199.3 855.2 L1202.2 867.9 L1202.4 880.7 L1197.6 893.4 L1197.7 906.2 L1199.6 918.9 L1197.9 931.7 L1193.6 943.8 L1192.2 931.7 L1191.2 918.9 L1192.2 906.2 L1191 893.4 L1183.1 880.7 L1182.3 867.9 L1189.9 855.2 L1189.3 842.4 L1188.2 829.7 L1186.5 817ZM1269.8 804.2 L1270.2 803.2 L1271 804.2 L1273.9 817 L1274.4 829.7 L1274.5 842.4 L1273.7 855.2 L1272.5 867.9 L1271 880.7 L1270.2 884.9 L1269.2 880.7 L1267.2 867.9 L1265.8 855.2 L1264.7 842.4 L1265.2 829.7 L1268.2 817ZM1354.2 842.4 L1359.6 831.5 L1372.4 835.2 L1379 842.4 L1372.4 849.3 L1359.6 851.3ZM1397.9 840.4 L1385.1 834.6 L1379.6 829.7 L1372.4 818.9 L1371.3 817 L1370 804.2 L1365.7 791.5 L1359.6 787 L1351.6 778.7 L1359.6 774.3 L1372.4 768.8 L1378.4 766 L1377.7 753.2 L1385.1 742.4 L1388.5 740.5 L1385.1 733.9 L1383.5 727.7 L1385.1 726.2 L1397.6 715 L1397.9 714.8M1295.7 855.2 L1295.7 854.7 L1296.2 855.2 L1298.9 867.9 L1295.7 877.7 L1295 867.9ZM1091.4 881.8 L1095.4 880.7 L1104.2 879.4 L1116.9 875.8 L1129.7 876.9 L1142.5 878.5 L1155.2 878.7 L1157.5 867.9 L1168 860.7 L1178.9 867.9 L1179.7 880.7 L1176.3 893.4 L1174.5 906.2 L1174.3 918.9 L1174.3 931.7 L1173.7 944.4 L1173.3 957.2 L1172 969.9 L1172.4 982.6 L1177.5 995.4 L1180 1008.1 L1177.1 1020.9 L1176.1 1033.6 L1180.8 1036.9 L1189.9 1033.6 L1182.3 1020.9 L1183.8 1008.1 L1190 995.4 L1193.6 983.3 L1197.2 995.4 L1203 1008.1 L1205.5 1020.9 L1195.3 1033.6 L1206.3 1038.4 L1208 1046.4 L1206.3 1055.5 L1202.7 1059.1 L1206.3 1061.9 L1207.8 1071.9 L1206.3 1083.7 L1206.3 1084.6 L1206.3 1087.4 L1219.1 1084.6 L1219.1 1084.6 L1228.8 1071.9 L1231.9 1060.7 L1233.7 1059.1 L1242.7 1046.4 L1238.1 1033.6 L1239 1020.9 L1237 1008.1 L1234.8 995.4 L1234 982.6 L1237.8 969.9 L1235.4 957.2 L1234.8 944.4 L1235.1 931.7 L1235.3 918.9 L1232.3 906.2 L1231.9 904.8 L1227.6 893.4 L1226.7 880.7 L1227.2 867.9 L1226.6 855.2 L1228.2 842.4 L1230.8 829.7 L1231.9 823.8 L1233.2 817 L1233.7 804.2 L1232.2 791.5 L1231.9 790.8 L1230.2 778.7 L1228.2 766 L1226.5 753.2 L1227.5 740.5 L1225.1 727.7 L1225.3 715 L1223.6 702.3 L1221.7 689.5 L1223.5 676.8 L1219.1 671.7 L1209.8 664 L1207.7 651.3M1104.2 899.9 L1102.2 906.2 L1104.2 909.1 L1107.9 906.2ZM1397.9 899.7 L1391.7 906.2 L1385.1 913.7 L1373.8 906.2 L1372.4 903.9 L1369.3 906.2 L1359.6 908.8 L1346.8 916.9 L1345.5 918.9 L1334.1 930 L1330.4 931.7 L1331.6 944.4 L1334.1 948.2 L1346.8 955.3 L1347.3 957.2 L1346.8 958.3 L1341.2 969.9 L1336.3 982.6 L1334.1 994.6 L1333.1 982.6 L1321.3 970.2 L1318.8 982.6 L1320 995.4 L1315.3 1008.1 L1310.6 1020.9 L1314.5 1033.6 L1313.1 1046.4 L1315 1059.1 L1319.2 1071.9 L1317.9 1084.6 L1321.3 1094.4 L1331.1 1084.6 L1334.1 1080.4 L1345.6 1084.6 L1342.1 1097.3 L1346.8 1100.2 L1350.4 1097.3 L1359.6 1093.2 L1372.4 1092.9 L1380.5 1097.3 L1376.1 1110.1 L1384.1 1122.8 L1385.1 1124 L1387.5 1135.6 L1397.9 1144.6M1371.5 944.4 L1372.4 943.8 L1372.6 944.4 L1372.4 945ZM1397.9 932.1 L1397.7 931.7 L1397.9 930.7M1192.3 957.2 L1193.6 944.9 L1197.4 957.2 L1202.5 969.9 L1193.6 982.5 L1189 969.9ZM1091.4 957.8 L1091.8 957.2 L1104.2 945.7 L1116.9 956.1 L1118.3 957.2 L1116.9 960.7 L1115.9 969.9 L1106.3 982.6 L1104.2 989.2 L1101.7 995.4 L1091.4 1003.2M1384.3 969.9 L1385.1 966.6 L1393.6 969.9 L1385.1 973.6ZM1121.9 995.4 L1129.7 990.4 L1132.8 995.4 L1129.7 1001.3ZM1382.2 995.4 L1385.1 990 L1387.4 995.4 L1385.1 999.6ZM1111.9 1008.1 L1116.9 1005.3 L1118.7 1008.1 L1123.8 1020.9 L1129.7 1023.3 L1133 1033.6 L1129.7 1046.2 L1116.9 1035.6 L1114.9 1033.6 L1108.4 1020.9ZM1193.6 1037.6 L1190.6 1046.4 L1193.6 1048.6 L1195.7 1046.4ZM1091.4 1049.4 L1104.2 1056.7 L1116.9 1052.6 L1129.7 1047.2 L1132 1059.1 L1129.7 1064.1 L1126.9 1071.9 L1129.7 1075.2 L1133.6 1084.6 L1137.7 1097.3 L1142.5 1098 L1155.2 1109.1 L1161.9 1097.3 L1155.2 1085.4 L1152.7 1084.6 L1155.2 1079.6 L1157.9 1071.9 L1155.2 1063.9 L1151 1059.1 L1155.2 1053.1 L1158.9 1046.4 L1163.9 1033.6 L1162.7 1020.9 L1156.2 1008.1 L1155.2 1004.5 L1151.4 995.4 L1155.2 989.4 L1159.3 982.6 L1156.6 969.9 L1155.3 957.2 L1156.5 944.4 L1155.8 931.7 L1156.5 918.9 L1157 906.2 L1156.7 893.4 L1155.2 881.4 L1142.5 882 L1129.7 886.4 L1124.8 893.4 L1129.7 898.5 L1136.2 906.2 L1133 918.9 L1133 931.7 L1133.1 944.4 L1129.7 950.1 L1125 944.4 L1116.9 939.9 L1104.2 942 L1091.4 935.9M1397.9 1053.6 L1391.6 1059.1 L1397.9 1060.6M1346.1 1071.9 L1346.8 1070.7 L1347.9 1071.9 L1346.8 1078.4ZM1397.9 1084.4 L1385.1 1084 L1372.4 1072.8 L1370 1071.9 L1365.4 1059.1 L1372.4 1052.6 L1385.1 1053 L1391 1046.4 L1385.1 1044.4 L1372.4 1037.5 L1359.6 1038.8 L1352.3 1033.6 L1346.8 1021.9 L1334.1 1030.2 L1329.6 1020.9 L1326.3 1008.1 L1334.1 995.5 L1346 1008.1 L1346.8 1015.9 L1347.8 1008.1 L1349.1 995.4 L1359.6 989.3 L1366 995.4 L1364.3 1008.1 L1372.4 1019.9 L1374 1020.9 L1385.1 1025 L1396.9 1033.6 L1397.9 1037.3M1334.1 1108.9 L1330.2 1110.1 L1332.5 1122.8 L1334.1 1126.1 L1334.9 1122.8 L1334.7 1110.1ZM1397.9 1119.3 L1390.9 1110.1 L1390.2 1097.3 L1397.9 1085.2M1308.5 1133.3 L1307.9 1135.6 L1308.5 1137.4 L1309.8 1135.6ZM1091.4 1141.2 L1095.6 1135.6 L1104.2 1125.7 L1114.4 1135.6 L1116.9 1140.5 L1129.7 1139.9 L1139.3 1148.3M1190.6 1148.3 L1193.6 1144.6 L1206.3 1137.9 L1209.8 1148.3M1238 1148.3 L1238.6 1135.6 L1237.4 1122.8 L1244.7 1115.6 L1253.2 1110.1 L1257.4 1109.7 L1262.6 1097.3 L1258.5 1084.6 L1262.1 1071.9 L1265.4 1059.1 L1263 1046.4 L1257.9 1033.6 L1257.4 1031.9 L1255.7 1033.6 L1245.7 1046.4 L1247.1 1059.1 L1254.6 1071.9 L1254 1084.6 L1244.7 1088.7 L1232.2 1097.3 L1231.9 1097.7 L1219.1 1108.7 L1206.3 1106.8 L1193.6 1105.5 L1188 1097.3 L1180.8 1088.4 L1176.5 1097.3 L1180.8 1109.9 L1181.2 1110.1 L1183.4 1122.8 L1180.8 1127 L1177.7 1122.8 L1168 1117.7 L1155.2 1120 L1152.3 1122.8 L1142.5 1128 L1129.7 1125.4 L1128.2 1122.8 L1129.7 1120.6 L1130.6 1110.1 L1129.7 1104.3 L1128.7 1097.3 L1116.9 1085.5 L1115 1084.6 L1108.2 1071.9 L1104.2 1064.3 L1099.3 1071.9 L1096.6 1084.6 L1094.2 1097.3 L1094.2 1110.1 L1091.4 1115.7M1273.3 1148.3 L1272.5 1135.6 L1270.2 1125.3 L1267.5 1135.6 L1267.7 1148.3M1375.7 1148.3 L1372.4 1142.3 L1368.2 1148.3" fill="none" stroke="#80f468" stroke-width="2.45" stroke-linejoin="round" stroke-linecap="round" opacity=".9" filter="url(#soft)"/><path d="M1245.5 651.3 L1244.7 657.7 L1242.8 651.3M1229.4 689.5 L1231.9 685.2 L1238.1 689.5 L1231.9 695.2ZM1238.3 727.7 L1244.7 718.5 L1247.2 727.7 L1244.7 730.3ZM1239.8 842.4 L1244.7 832.9 L1247.4 842.4 L1244.7 853.2ZM1238.9 867.9 L1244.7 857.4 L1247 867.9 L1248 880.7 L1248.1 893.4 L1248.1 906.2 L1249.1 918.9 L1251.2 931.7 L1252.2 944.4 L1254.1 957.2 L1254.6 969.9 L1254.5 982.6 L1250.8 995.4 L1244.7 998.8 L1243 995.4 L1239.5 982.6 L1241.2 969.9 L1239.7 957.2 L1239.3 944.4 L1239.6 931.7 L1241 918.9 L1240.6 906.2 L1238 893.4 L1236.1 880.7ZM1165.2 880.7 L1168 877 L1170.5 880.7 L1171.1 893.4 L1170.7 906.2 L1170.6 918.9 L1170.5 931.7 L1170.1 944.4 L1170 957.2 L1168.2 969.9 L1168 971.9 L1167.4 969.9 L1163.3 957.2 L1163.9 944.4 L1163.2 931.7 L1163.3 918.9 L1163.5 906.2 L1163.8 893.4ZM1303.8 944.4 L1308.5 940.3 L1312.6 944.4 L1315.4 957.2 L1314.9 969.9 L1312.9 982.6 L1308.5 994.1 L1303.5 982.6 L1302.5 969.9 L1302.5 957.2ZM1192.5 969.9 L1193.6 966.3 L1195.6 969.9 L1193.6 972.7ZM1263.2 969.9 L1270.2 965.4 L1271.8 969.9 L1275.3 982.6 L1277.1 995.4 L1275.9 1008.1 L1273.1 1020.9 L1270.9 1033.6 L1270.2 1042 L1268.1 1033.6 L1262.6 1020.9 L1260.1 1008.1 L1258.5 995.4 L1259.3 982.6ZM1163.8 995.4 L1168 988.7 L1170.5 995.4 L1171.2 1008.1 L1168 1013 L1164.9 1008.1ZM1191.3 1020.9 L1193.6 1017.5 L1196 1020.9 L1193.6 1023.5ZM1293.2 1046.4 L1295.7 1034.9 L1302.3 1046.4 L1301.5 1059.1 L1304.3 1071.9 L1308.5 1082.4 L1309.1 1084.6 L1308.7 1097.3 L1308.5 1097.6 L1297.1 1110.1 L1295.7 1111 L1295 1110.1 L1287.6 1097.3 L1287.1 1084.6 L1292.7 1071.9 L1293.9 1059.1ZM1162.6 1059.1 L1168 1052.9 L1175.7 1059.1 L1168 1067.5ZM1187.2 1071.9 L1193.6 1066.6 L1199 1071.9 L1200.9 1084.6 L1193.6 1094.3 L1185.1 1084.6ZM1234.9 1071.9 L1244.7 1062.5 L1250.9 1071.9 L1244.7 1081.3 L1241.4 1084.6 L1231.9 1092.6 L1226.9 1097.3 L1219.1 1104.3 L1211.2 1097.3 L1219.1 1089.6 L1223.9 1084.6 L1231.9 1074.9ZM1268.3 1071.9 L1270.2 1059.1 L1271.7 1071.9 L1274.8 1084.6 L1279 1097.3 L1270.2 1109.3 L1264.4 1097.3 L1265.3 1084.6ZM1166.1 1097.3 L1168 1088 L1170.6 1097.3 L1168 1102Z" fill="none" stroke="#e5ff1a" stroke-width="2.45" stroke-linejoin="round" stroke-linecap="round" opacity=".9" filter="url(#soft)"/><path d="M1244.2 931.7 L1244.7 929.1 L1245.2 931.7 L1245.9 944.4 L1245.7 957.2 L1245 969.9 L1244.7 975.1 L1244.5 969.9 L1244.1 957.2 L1243.8 944.4ZM1266.3 982.6 L1270.2 976.6 L1272.1 982.6 L1274.2 995.4 L1273.4 1008.1 L1270.4 1020.9 L1270.2 1021.9 L1269.7 1020.9 L1264.5 1008.1 L1263.4 995.4ZM1240.8 1071.9 L1244.7 1068.1 L1247.1 1071.9 L1244.7 1075.6ZM1191.3 1084.6 L1193.6 1078.5 L1195.5 1084.6 L1193.6 1087.2ZM1228.7 1084.6 L1231.9 1080.7 L1235.7 1084.6 L1231.9 1087.8ZM1290.3 1084.6 L1295.7 1073.8 L1304 1084.6 L1303.4 1097.3 L1295.7 1105.1 L1290.9 1097.3ZM1216.3 1097.3 L1219.1 1094.6 L1221.9 1097.3 L1219.1 1099.8ZM1266.3 1097.3 L1270.2 1086.1 L1276.1 1097.3 L1270.2 1105.4Z" fill="none" stroke="#ffb300" stroke-width="2.45" stroke-linejoin="round" stroke-linecap="round" opacity=".9" filter="url(#soft)"/><path d="M1268.4 995.4 L1270.2 989.5 L1271.3 995.4 L1270.9 1008.1 L1270.2 1011.2 L1268.9 1008.1ZM1293.5 1084.6 L1295.7 1080.2 L1299.1 1084.6 L1298.2 1097.3 L1295.7 1099.8 L1294.2 1097.3ZM1268.1 1097.3 L1270.2 1091.4 L1273.3 1097.3 L1270.2 1101.6Z" fill="none" stroke="#ff4c00" stroke-width="2.45" stroke-linejoin="round" stroke-linecap="round" opacity=".9" filter="url(#soft)"/><path d="M1270 1097.3 L1270.2 1096.8 L1270.5 1097.3 L1270.2 1097.7Z" fill="none" stroke="#e50000" stroke-width="2.45" stroke-linejoin="round" stroke-linecap="round" opacity=".9" filter="url(#soft)"/><rect x="1187.3" y="952.5" width="88.4" height="142.3" rx="7" ry="7" fill="none" stroke="#9184b0" stroke-width="1.8" opacity=".9"/></g>
<g clip-path="url(#c22)"><g filter="url(#jetd)"><rect x="1055" y="1173" width="379.3" height="569.8" fill="#808080"/><rect x="1085" y="1203" width="13" height="12.9" fill="#8d8d8d"/><rect x="1085" y="1228.5" width="13" height="12.9" fill="#757575"/><rect x="1085" y="1266.7" width="13" height="12.9" fill="#757575"/><rect x="1085" y="1305" width="13" height="12.9" fill="#727272"/><rect x="1085" y="1317.7" width="13" height="12.9" fill="#757575"/><rect x="1085" y="1368.7" width="13" height="12.9" fill="#8d8d8d"/><rect x="1085" y="1406.9" width="13" height="12.9" fill="#787878"/><rect x="1085" y="1419.7" width="13" height="12.9" fill="#6f6f6f"/><rect x="1085" y="1432.4" width="13" height="12.9" fill="#787878"/><rect x="1085" y="1470.6" width="13" height="12.9" fill="#848484"/><rect x="1085" y="1508.9" width="13" height="12.9" fill="#848484"/><rect x="1085" y="1547.1" width="13" height="12.9" fill="#848484"/><rect x="1085" y="1598.1" width="13" height="12.9" fill="#878787"/><rect x="1085" y="1610.8" width="13" height="12.9" fill="#8a8a8a"/><rect x="1085" y="1623.6" width="13" height="12.9" fill="#909090"/><rect x="1085" y="1636.3" width="13" height="12.9" fill="#8a8a8a"/><rect x="1085" y="1674.6" width="13" height="12.9" fill="#7b7b7b"/><rect x="1085" y="1687.3" width="13" height="12.9" fill="#787878"/><rect x="1097.8" y="1241.2" width="13" height="12.9" fill="#8d8d8d"/><rect x="1097.8" y="1266.7" width="13" height="12.9" fill="#787878"/><rect x="1097.8" y="1330.5" width="13" height="12.9" fill="#878787"/><rect x="1097.8" y="1406.9" width="13" height="12.9" fill="#878787"/><rect x="1097.8" y="1470.6" width="13" height="12.9" fill="#8d8d8d"/><rect x="1097.8" y="1521.6" width="13" height="12.9" fill="#787878"/><rect x="1097.8" y="1534.4" width="13" height="12.9" fill="#6f6f6f"/><rect x="1097.8" y="1559.9" width="13" height="25.7" fill="#787878"/><rect x="1097.8" y="1598.1" width="13" height="25.7" fill="#787878"/><rect x="1097.8" y="1623.6" width="13" height="25.7" fill="#8d8d8d"/><rect x="1097.8" y="1649.1" width="13" height="12.9" fill="#939393"/><rect x="1097.8" y="1661.8" width="13" height="12.9" fill="#8d8d8d"/><rect x="1097.8" y="1674.6" width="13" height="12.9" fill="#848484"/><rect x="1110.5" y="1203" width="13" height="12.9" fill="#545454"/><rect x="1110.5" y="1215.7" width="13" height="12.9" fill="#5d5d5d"/><rect x="1110.5" y="1241.2" width="13" height="12.9" fill="#999999"/><rect x="1110.5" y="1254" width="13" height="12.9" fill="#969696"/><rect x="1110.5" y="1266.7" width="13" height="12.9" fill="#8a8a8a"/><rect x="1110.5" y="1279.5" width="13" height="25.7" fill="#969696"/><rect x="1110.5" y="1305" width="13" height="12.9" fill="#a8a8a8"/><rect x="1110.5" y="1317.7" width="13" height="12.9" fill="#aeaeae"/><rect x="1110.5" y="1330.5" width="13" height="12.9" fill="#9c9c9c"/><rect x="1110.5" y="1343.2" width="13" height="12.9" fill="#8d8d8d"/><rect x="1110.5" y="1355.9" width="13" height="12.9" fill="#8a8a8a"/><rect x="1110.5" y="1368.7" width="13" height="12.9" fill="#878787"/><rect x="1110.5" y="1432.4" width="13" height="12.9" fill="#878787"/><rect x="1110.5" y="1445.2" width="13" height="12.9" fill="#848484"/><rect x="1110.5" y="1457.9" width="13" height="12.9" fill="#878787"/><rect x="1110.5" y="1470.6" width="13" height="12.9" fill="#909090"/><rect x="1110.5" y="1483.4" width="13" height="12.9" fill="#8a8a8a"/><rect x="1110.5" y="1496.1" width="13" height="12.9" fill="#757575"/><rect x="1110.5" y="1508.9" width="13" height="12.9" fill="#4e4e4e"/><rect x="1110.5" y="1521.6" width="13" height="12.9" fill="#575757"/><rect x="1110.5" y="1534.4" width="13" height="12.9" fill="#2a2a2a"/><rect x="1110.5" y="1547.1" width="13" height="12.9" fill="#1e1e1e"/><rect x="1110.5" y="1559.9" width="13" height="12.9" fill="#363636"/><rect x="1110.5" y="1572.6" width="13" height="12.9" fill="#4b4b4b"/><rect x="1110.5" y="1585.3" width="13" height="12.9" fill="#575757"/><rect x="1110.5" y="1610.8" width="13" height="12.9" fill="#909090"/><rect x="1110.5" y="1623.6" width="13" height="12.9" fill="#bababa"/><rect x="1110.5" y="1636.3" width="13" height="12.9" fill="#cfcfcf"/><rect x="1110.5" y="1649.1" width="13" height="12.9" fill="#b7b7b7"/><rect x="1110.5" y="1661.8" width="13" height="12.9" fill="#909090"/><rect x="1123.3" y="1203" width="13" height="12.9" fill="#7b7b7b"/><rect x="1123.3" y="1215.7" width="13" height="12.9" fill="#757575"/><rect x="1123.3" y="1228.5" width="13" height="12.9" fill="#515151"/><rect x="1123.3" y="1241.2" width="13" height="12.9" fill="#454545"/><rect x="1123.3" y="1254" width="13" height="12.9" fill="#333333"/><rect x="1123.3" y="1266.7" width="13" height="25.7" fill="#303030"/><rect x="1123.3" y="1292.2" width="13" height="12.9" fill="#363636"/><rect x="1123.3" y="1305" width="13" height="12.9" fill="#424242"/><rect x="1123.3" y="1317.7" width="13" height="12.9" fill="#666666"/><rect x="1123.3" y="1330.5" width="13" height="12.9" fill="#757575"/><rect x="1123.3" y="1394.2" width="13" height="12.9" fill="#878787"/><rect x="1123.3" y="1406.9" width="13" height="12.9" fill="#9c9c9c"/><rect x="1123.3" y="1419.7" width="13" height="12.9" fill="#aeaeae"/><rect x="1123.3" y="1432.4" width="13" height="12.9" fill="#b1b1b1"/><rect x="1123.3" y="1445.2" width="13" height="12.9" fill="#b7b7b7"/><rect x="1123.3" y="1457.9" width="13" height="12.9" fill="#bababa"/><rect x="1123.3" y="1470.6" width="13" height="12.9" fill="#b4b4b4"/><rect x="1123.3" y="1483.4" width="13" height="12.9" fill="#a8a8a8"/><rect x="1123.3" y="1496.1" width="13" height="12.9" fill="#8a8a8a"/><rect x="1123.3" y="1508.9" width="13" height="12.9" fill="#a8a8a8"/><rect x="1123.3" y="1521.6" width="13" height="12.9" fill="#c3c3c3"/><rect x="1123.3" y="1534.4" width="13" height="12.9" fill="#d2d2d2"/><rect x="1123.3" y="1547.1" width="13" height="12.9" fill="#cfcfcf"/><rect x="1123.3" y="1559.9" width="13" height="12.9" fill="#cccccc"/><rect x="1123.3" y="1572.6" width="13" height="12.9" fill="#bababa"/><rect x="1123.3" y="1585.3" width="13" height="25.7" fill="#b1b1b1"/><rect x="1123.3" y="1610.8" width="13" height="12.9" fill="#969696"/><rect x="1123.3" y="1623.6" width="13" height="12.9" fill="#8a8a8a"/><rect x="1123.3" y="1636.3" width="13" height="12.9" fill="#878787"/><rect x="1123.3" y="1649.1" width="13" height="12.9" fill="#727272"/><rect x="1136.1" y="1254" width="13" height="12.9" fill="#727272"/><rect x="1136.1" y="1305" width="13" height="12.9" fill="#757575"/><rect x="1136.1" y="1330.5" width="13" height="76.7" fill="#6f6f6f"/><rect x="1136.1" y="1406.9" width="13" height="12.9" fill="#666666"/><rect x="1136.1" y="1419.7" width="13" height="12.9" fill="#696969"/><rect x="1136.1" y="1432.4" width="13" height="12.9" fill="#606060"/><rect x="1136.1" y="1445.2" width="13" height="12.9" fill="#5a5a5a"/><rect x="1136.1" y="1457.9" width="13" height="12.9" fill="#515151"/><rect x="1136.1" y="1470.6" width="13" height="12.9" fill="#575757"/><rect x="1136.1" y="1483.4" width="13" height="12.9" fill="#5d5d5d"/><rect x="1136.1" y="1496.1" width="13" height="12.9" fill="#575757"/><rect x="1136.1" y="1508.9" width="13" height="12.9" fill="#545454"/><rect x="1136.1" y="1521.6" width="13" height="12.9" fill="#3f3f3f"/><rect x="1136.1" y="1534.4" width="13" height="12.9" fill="#2a2a2a"/><rect x="1136.1" y="1547.1" width="13" height="12.9" fill="#363636"/><rect x="1136.1" y="1559.9" width="13" height="12.9" fill="#3c3c3c"/><rect x="1136.1" y="1572.6" width="13" height="12.9" fill="#4b4b4b"/><rect x="1136.1" y="1585.3" width="13" height="12.9" fill="#515151"/><rect x="1136.1" y="1598.1" width="13" height="12.9" fill="#3f3f3f"/><rect x="1136.1" y="1610.8" width="13" height="12.9" fill="#2d2d2d"/><rect x="1136.1" y="1623.6" width="13" height="12.9" fill="#3f3f3f"/><rect x="1136.1" y="1636.3" width="13" height="12.9" fill="#515151"/><rect x="1136.1" y="1649.1" width="13" height="12.9" fill="#363636"/><rect x="1136.1" y="1661.8" width="13" height="12.9" fill="#7b7b7b"/><rect x="1148.9" y="1203" width="13" height="12.9" fill="#696969"/><rect x="1148.9" y="1215.7" width="13" height="38.4" fill="#6c6c6c"/><rect x="1148.9" y="1254" width="13" height="12.9" fill="#666666"/><rect x="1148.9" y="1266.7" width="13" height="12.9" fill="#6c6c6c"/><rect x="1148.9" y="1279.5" width="13" height="12.9" fill="#6f6f6f"/><rect x="1148.9" y="1292.2" width="13" height="12.9" fill="#757575"/><rect x="1148.9" y="1305" width="13" height="12.9" fill="#6f6f6f"/><rect x="1148.9" y="1317.7" width="13" height="51.2" fill="#6c6c6c"/><rect x="1148.9" y="1368.7" width="13" height="12.9" fill="#696969"/><rect x="1148.9" y="1381.4" width="13" height="12.9" fill="#666666"/><rect x="1148.9" y="1394.2" width="13" height="12.9" fill="#696969"/><rect x="1148.9" y="1406.9" width="13" height="25.7" fill="#666666"/><rect x="1148.9" y="1432.4" width="13" height="12.9" fill="#606060"/><rect x="1148.9" y="1445.2" width="13" height="12.9" fill="#515151"/><rect x="1148.9" y="1457.9" width="13" height="12.9" fill="#4b4b4b"/><rect x="1148.9" y="1470.6" width="13" height="12.9" fill="#545454"/><rect x="1148.9" y="1483.4" width="13" height="12.9" fill="#575757"/><rect x="1148.9" y="1496.1" width="13" height="12.9" fill="#5a5a5a"/><rect x="1148.9" y="1508.9" width="13" height="12.9" fill="#575757"/><rect x="1148.9" y="1521.6" width="13" height="12.9" fill="#4e4e4e"/><rect x="1148.9" y="1534.4" width="13" height="38.4" fill="#4b4b4b"/><rect x="1148.9" y="1572.6" width="13" height="25.7" fill="#4e4e4e"/><rect x="1148.9" y="1598.1" width="13" height="25.7" fill="#4b4b4b"/><rect x="1148.9" y="1623.6" width="13" height="25.7" fill="#484848"/><rect x="1148.9" y="1649.1" width="13" height="12.9" fill="#333333"/><rect x="1161.6" y="1292.2" width="13" height="12.9" fill="#848484"/><rect x="1161.6" y="1445.2" width="13" height="12.9" fill="#7b7b7b"/><rect x="1161.6" y="1483.4" width="13" height="12.9" fill="#7b7b7b"/><rect x="1161.6" y="1508.9" width="13" height="12.9" fill="#7b7b7b"/><rect x="1161.6" y="1534.4" width="13" height="12.9" fill="#757575"/><rect x="1161.6" y="1547.1" width="13" height="12.9" fill="#6f6f6f"/><rect x="1161.6" y="1559.9" width="13" height="38.4" fill="#696969"/><rect x="1161.6" y="1598.1" width="13" height="12.9" fill="#666666"/><rect x="1161.6" y="1610.8" width="13" height="12.9" fill="#636363"/><rect x="1161.6" y="1623.6" width="13" height="12.9" fill="#666666"/><rect x="1161.6" y="1636.3" width="13" height="12.9" fill="#636363"/><rect x="1161.6" y="1649.1" width="13" height="12.9" fill="#5a5a5a"/><rect x="1161.6" y="1661.8" width="13" height="12.9" fill="#757575"/><rect x="1174.4" y="1203" width="13" height="25.7" fill="#878787"/><rect x="1174.4" y="1228.5" width="13" height="25.7" fill="#8a8a8a"/><rect x="1174.4" y="1254" width="13" height="12.9" fill="#878787"/><rect x="1174.4" y="1266.7" width="13" height="12.9" fill="#848484"/><rect x="1174.4" y="1292.2" width="13" height="25.7" fill="#8d8d8d"/><rect x="1174.4" y="1317.7" width="13" height="25.7" fill="#8a8a8a"/><rect x="1174.4" y="1343.2" width="13" height="12.9" fill="#878787"/><rect x="1174.4" y="1355.9" width="13" height="12.9" fill="#8d8d8d"/><rect x="1174.4" y="1368.7" width="13" height="12.9" fill="#8a8a8a"/><rect x="1174.4" y="1394.2" width="13" height="12.9" fill="#878787"/><rect x="1174.4" y="1406.9" width="13" height="38.4" fill="#8a8a8a"/><rect x="1174.4" y="1445.2" width="13" height="38.4" fill="#8d8d8d"/><rect x="1174.4" y="1483.4" width="13" height="25.7" fill="#8a8a8a"/><rect x="1174.4" y="1508.9" width="13" height="12.9" fill="#878787"/><rect x="1174.4" y="1521.6" width="13" height="12.9" fill="#8a8a8a"/><rect x="1174.4" y="1534.4" width="13" height="12.9" fill="#878787"/><rect x="1174.4" y="1559.9" width="13" height="12.9" fill="#a2a2a2"/><rect x="1174.4" y="1572.6" width="13" height="12.9" fill="#848484"/><rect x="1174.4" y="1610.8" width="13" height="12.9" fill="#7b7b7b"/><rect x="1187.2" y="1496.1" width="13" height="12.9" fill="#878787"/><rect x="1199.9" y="1203" width="13" height="25.7" fill="#6f6f6f"/><rect x="1199.9" y="1228.5" width="13" height="12.9" fill="#6c6c6c"/><rect x="1199.9" y="1241.2" width="13" height="12.9" fill="#6f6f6f"/><rect x="1199.9" y="1254" width="13" height="25.7" fill="#727272"/><rect x="1199.9" y="1279.5" width="13" height="12.9" fill="#6f6f6f"/><rect x="1199.9" y="1292.2" width="13" height="38.4" fill="#727272"/><rect x="1199.9" y="1330.5" width="13" height="12.9" fill="#757575"/><rect x="1199.9" y="1343.2" width="13" height="102.2" fill="#787878"/><rect x="1199.9" y="1445.2" width="13" height="51.2" fill="#757575"/><rect x="1199.9" y="1496.1" width="13" height="25.7" fill="#787878"/><rect x="1199.9" y="1521.6" width="13" height="63.9" fill="#757575"/><rect x="1199.9" y="1585.3" width="13" height="12.9" fill="#787878"/><rect x="1212.7" y="1598.1" width="13" height="12.9" fill="#848484"/><rect x="1212.7" y="1610.8" width="13" height="12.9" fill="#878787"/><rect x="1212.7" y="1623.6" width="13" height="12.9" fill="#8a8a8a"/><rect x="1212.7" y="1636.3" width="13" height="25.7" fill="#878787"/><rect x="1212.7" y="1661.8" width="13" height="51.2" fill="#848484"/><rect x="1225.5" y="1496.1" width="13" height="12.9" fill="#848484"/><rect x="1225.5" y="1508.9" width="13" height="12.9" fill="#878787"/><rect x="1225.5" y="1521.6" width="13" height="51.2" fill="#8a8a8a"/><rect x="1225.5" y="1572.6" width="13" height="25.7" fill="#8d8d8d"/><rect x="1225.5" y="1598.1" width="13" height="63.9" fill="#909090"/><rect x="1225.5" y="1661.8" width="13" height="12.9" fill="#8a8a8a"/><rect x="1225.5" y="1674.6" width="13" height="12.9" fill="#848484"/><rect x="1238.3" y="1203" width="13" height="12.9" fill="#909090"/><rect x="1238.3" y="1215.7" width="13" height="12.9" fill="#939393"/><rect x="1238.3" y="1228.5" width="13" height="12.9" fill="#909090"/><rect x="1238.3" y="1241.2" width="13" height="12.9" fill="#939393"/><rect x="1238.3" y="1254" width="13" height="63.9" fill="#909090"/><rect x="1238.3" y="1317.7" width="13" height="114.9" fill="#8d8d8d"/><rect x="1238.3" y="1432.4" width="13" height="38.4" fill="#8a8a8a"/><rect x="1238.3" y="1470.6" width="13" height="12.9" fill="#878787"/><rect x="1251" y="1203" width="13" height="25.7" fill="#727272"/><rect x="1251" y="1228.5" width="13" height="38.4" fill="#6f6f6f"/><rect x="1251" y="1266.7" width="13" height="12.9" fill="#727272"/><rect x="1251" y="1279.5" width="13" height="12.9" fill="#6f6f6f"/><rect x="1251" y="1292.2" width="13" height="63.9" fill="#727272"/><rect x="1251" y="1355.9" width="13" height="12.9" fill="#6f6f6f"/><rect x="1251" y="1368.7" width="13" height="12.9" fill="#727272"/><rect x="1251" y="1381.4" width="13" height="25.7" fill="#6f6f6f"/><rect x="1251" y="1406.9" width="13" height="25.7" fill="#6c6c6c"/><rect x="1251" y="1432.4" width="13" height="76.7" fill="#696969"/><rect x="1251" y="1508.9" width="13" height="38.4" fill="#666666"/><rect x="1251" y="1547.1" width="13" height="51.2" fill="#696969"/><rect x="1251" y="1598.1" width="13" height="51.2" fill="#6c6c6c"/><rect x="1251" y="1649.1" width="13" height="12.9" fill="#757575"/><rect x="1263.8" y="1203" width="13" height="25.7" fill="#727272"/><rect x="1263.8" y="1228.5" width="13" height="25.7" fill="#6f6f6f"/><rect x="1263.8" y="1254" width="13" height="12.9" fill="#6c6c6c"/><rect x="1263.8" y="1266.7" width="13" height="25.7" fill="#6f6f6f"/><rect x="1263.8" y="1292.2" width="13" height="38.4" fill="#727272"/><rect x="1263.8" y="1330.5" width="13" height="114.9" fill="#6f6f6f"/><rect x="1263.8" y="1445.2" width="13" height="38.4" fill="#727272"/><rect x="1263.8" y="1483.4" width="13" height="12.9" fill="#6f6f6f"/><rect x="1263.8" y="1496.1" width="13" height="51.2" fill="#727272"/><rect x="1263.8" y="1547.1" width="13" height="12.9" fill="#757575"/><rect x="1263.8" y="1559.9" width="13" height="12.9" fill="#6f6f6f"/><rect x="1263.8" y="1572.6" width="13" height="25.7" fill="#6c6c6c"/><rect x="1263.8" y="1598.1" width="13" height="25.7" fill="#6f6f6f"/><rect x="1263.8" y="1623.6" width="13" height="25.7" fill="#6c6c6c"/><rect x="1276.6" y="1636.3" width="13" height="12.9" fill="#8d8d8d"/><rect x="1276.6" y="1649.1" width="13" height="12.9" fill="#878787"/><rect x="1276.6" y="1700.1" width="13" height="12.9" fill="#878787"/><rect x="1289.4" y="1228.5" width="13" height="12.9" fill="#8a8a8a"/><rect x="1289.4" y="1241.2" width="13" height="25.7" fill="#878787"/><rect x="1289.4" y="1266.7" width="13" height="12.9" fill="#8a8a8a"/><rect x="1289.4" y="1279.5" width="13" height="12.9" fill="#8d8d8d"/><rect x="1289.4" y="1292.2" width="13" height="12.9" fill="#909090"/><rect x="1289.4" y="1305" width="13" height="12.9" fill="#969696"/><rect x="1289.4" y="1317.7" width="13" height="12.9" fill="#939393"/><rect x="1289.4" y="1330.5" width="13" height="25.7" fill="#909090"/><rect x="1289.4" y="1355.9" width="13" height="38.4" fill="#939393"/><rect x="1289.4" y="1394.2" width="13" height="12.9" fill="#909090"/><rect x="1289.4" y="1406.9" width="13" height="12.9" fill="#8a8a8a"/><rect x="1289.4" y="1419.7" width="13" height="12.9" fill="#909090"/><rect x="1289.4" y="1432.4" width="13" height="12.9" fill="#999999"/><rect x="1289.4" y="1445.2" width="13" height="12.9" fill="#969696"/><rect x="1289.4" y="1457.9" width="13" height="12.9" fill="#9c9c9c"/><rect x="1289.4" y="1470.6" width="13" height="12.9" fill="#999999"/><rect x="1289.4" y="1483.4" width="13" height="38.4" fill="#969696"/><rect x="1289.4" y="1521.6" width="13" height="12.9" fill="#939393"/><rect x="1289.4" y="1534.4" width="13" height="12.9" fill="#8a8a8a"/><rect x="1289.4" y="1598.1" width="13" height="12.9" fill="#999999"/><rect x="1289.4" y="1610.8" width="13" height="12.9" fill="#a5a5a5"/><rect x="1289.4" y="1623.6" width="13" height="12.9" fill="#b1b1b1"/><rect x="1289.4" y="1636.3" width="13" height="12.9" fill="#c9c9c9"/><rect x="1289.4" y="1649.1" width="13" height="12.9" fill="#b7b7b7"/><rect x="1289.4" y="1661.8" width="13" height="12.9" fill="#909090"/><rect x="1289.4" y="1700.1" width="13" height="12.9" fill="#878787"/><rect x="1302.1" y="1203" width="13" height="12.9" fill="#848484"/><rect x="1302.1" y="1215.7" width="13" height="25.7" fill="#878787"/><rect x="1302.1" y="1355.9" width="13" height="12.9" fill="#848484"/><rect x="1302.1" y="1419.7" width="13" height="12.9" fill="#8d8d8d"/><rect x="1302.1" y="1432.4" width="13" height="12.9" fill="#8a8a8a"/><rect x="1302.1" y="1445.2" width="13" height="12.9" fill="#878787"/><rect x="1302.1" y="1457.9" width="13" height="25.7" fill="#8a8a8a"/><rect x="1302.1" y="1483.4" width="13" height="25.7" fill="#878787"/><rect x="1302.1" y="1508.9" width="13" height="12.9" fill="#8a8a8a"/><rect x="1302.1" y="1547.1" width="13" height="12.9" fill="#727272"/><rect x="1302.1" y="1559.9" width="13" height="12.9" fill="#757575"/><rect x="1302.1" y="1572.6" width="13" height="25.7" fill="#787878"/><rect x="1302.1" y="1598.1" width="13" height="12.9" fill="#666666"/><rect x="1302.1" y="1636.3" width="13" height="12.9" fill="#8d8d8d"/><rect x="1302.1" y="1649.1" width="13" height="12.9" fill="#878787"/><rect x="1314.9" y="1203" width="13" height="12.9" fill="#8a8a8a"/><rect x="1314.9" y="1228.5" width="13" height="12.9" fill="#757575"/><rect x="1314.9" y="1241.2" width="13" height="12.9" fill="#5a5a5a"/><rect x="1314.9" y="1254" width="13" height="12.9" fill="#666666"/><rect x="1314.9" y="1266.7" width="13" height="12.9" fill="#727272"/><rect x="1314.9" y="1279.5" width="13" height="12.9" fill="#6f6f6f"/><rect x="1314.9" y="1292.2" width="13" height="63.9" fill="#6c6c6c"/><rect x="1314.9" y="1355.9" width="13" height="12.9" fill="#757575"/><rect x="1314.9" y="1406.9" width="13" height="25.7" fill="#878787"/><rect x="1314.9" y="1445.2" width="13" height="12.9" fill="#969696"/><rect x="1314.9" y="1521.6" width="13" height="12.9" fill="#757575"/><rect x="1314.9" y="1534.4" width="13" height="12.9" fill="#4e4e4e"/><rect x="1314.9" y="1547.1" width="13" height="12.9" fill="#757575"/><rect x="1314.9" y="1559.9" width="13" height="25.7" fill="#787878"/><rect x="1314.9" y="1598.1" width="13" height="12.9" fill="#878787"/><rect x="1314.9" y="1623.6" width="13" height="12.9" fill="#696969"/><rect x="1314.9" y="1636.3" width="13" height="25.7" fill="#515151"/><rect x="1314.9" y="1661.8" width="13" height="12.9" fill="#6f6f6f"/><rect x="1314.9" y="1674.6" width="13" height="25.7" fill="#787878"/><rect x="1327.7" y="1203" width="13" height="12.9" fill="#8a8a8a"/><rect x="1327.7" y="1228.5" width="13" height="12.9" fill="#878787"/><rect x="1327.7" y="1292.2" width="13" height="12.9" fill="#8a8a8a"/><rect x="1327.7" y="1317.7" width="13" height="12.9" fill="#787878"/><rect x="1327.7" y="1330.5" width="13" height="12.9" fill="#757575"/><rect x="1327.7" y="1343.2" width="13" height="12.9" fill="#787878"/><rect x="1327.7" y="1381.4" width="13" height="12.9" fill="#6f6f6f"/><rect x="1327.7" y="1394.2" width="13" height="12.9" fill="#6c6c6c"/><rect x="1327.7" y="1406.9" width="13" height="25.7" fill="#727272"/><rect x="1327.7" y="1432.4" width="13" height="25.7" fill="#6f6f6f"/><rect x="1327.7" y="1483.4" width="13" height="12.9" fill="#8a8a8a"/><rect x="1327.7" y="1534.4" width="13" height="12.9" fill="#939393"/><rect x="1327.7" y="1547.1" width="13" height="12.9" fill="#ababab"/><rect x="1327.7" y="1559.9" width="13" height="12.9" fill="#bababa"/><rect x="1327.7" y="1572.6" width="13" height="12.9" fill="#9f9f9f"/><rect x="1327.7" y="1585.3" width="13" height="12.9" fill="#878787"/><rect x="1327.7" y="1598.1" width="13" height="12.9" fill="#939393"/><rect x="1327.7" y="1610.8" width="13" height="12.9" fill="#ababab"/><rect x="1327.7" y="1623.6" width="13" height="12.9" fill="#b4b4b4"/><rect x="1327.7" y="1636.3" width="13" height="12.9" fill="#a2a2a2"/><rect x="1327.7" y="1687.3" width="13" height="12.9" fill="#7b7b7b"/><rect x="1340.4" y="1228.5" width="13" height="38.4" fill="#878787"/><rect x="1340.4" y="1266.7" width="13" height="12.9" fill="#8a8a8a"/><rect x="1340.4" y="1279.5" width="13" height="12.9" fill="#909090"/><rect x="1340.4" y="1292.2" width="13" height="12.9" fill="#878787"/><rect x="1340.4" y="1305" width="13" height="25.7" fill="#8a8a8a"/><rect x="1340.4" y="1355.9" width="13" height="12.9" fill="#8a8a8a"/><rect x="1340.4" y="1368.7" width="13" height="12.9" fill="#8d8d8d"/><rect x="1340.4" y="1381.4" width="13" height="25.7" fill="#878787"/><rect x="1340.4" y="1419.7" width="13" height="12.9" fill="#878787"/><rect x="1340.4" y="1508.9" width="13" height="25.7" fill="#787878"/><rect x="1340.4" y="1534.4" width="13" height="12.9" fill="#757575"/><rect x="1340.4" y="1559.9" width="13" height="12.9" fill="#8a8a8a"/><rect x="1340.4" y="1598.1" width="13" height="12.9" fill="#727272"/><rect x="1340.4" y="1610.8" width="13" height="12.9" fill="#6f6f6f"/><rect x="1340.4" y="1649.1" width="13" height="12.9" fill="#757575"/><rect x="1340.4" y="1661.8" width="13" height="12.9" fill="#787878"/><rect x="1353.2" y="1203" width="13" height="12.9" fill="#8a8a8a"/><rect x="1353.2" y="1266.7" width="13" height="12.9" fill="#848484"/><rect x="1353.2" y="1279.5" width="13" height="12.9" fill="#8a8a8a"/><rect x="1353.2" y="1368.7" width="13" height="12.9" fill="#848484"/><rect x="1353.2" y="1406.9" width="13" height="25.7" fill="#878787"/><rect x="1353.2" y="1432.4" width="13" height="25.7" fill="#8a8a8a"/><rect x="1353.2" y="1508.9" width="13" height="12.9" fill="#787878"/><rect x="1353.2" y="1521.6" width="13" height="12.9" fill="#696969"/><rect x="1353.2" y="1534.4" width="13" height="12.9" fill="#636363"/><rect x="1353.2" y="1547.1" width="13" height="12.9" fill="#727272"/><rect x="1353.2" y="1559.9" width="13" height="12.9" fill="#787878"/><rect x="1353.2" y="1572.6" width="13" height="12.9" fill="#696969"/><rect x="1353.2" y="1585.3" width="13" height="12.9" fill="#636363"/><rect x="1353.2" y="1598.1" width="13" height="12.9" fill="#3f3f3f"/><rect x="1353.2" y="1610.8" width="13" height="25.7" fill="#1b1b1b"/><rect x="1353.2" y="1636.3" width="13" height="12.9" fill="#3c3c3c"/><rect x="1353.2" y="1649.1" width="13" height="12.9" fill="#575757"/><rect x="1353.2" y="1661.8" width="13" height="12.9" fill="#666666"/><rect x="1353.2" y="1674.6" width="13" height="12.9" fill="#6f6f6f"/><rect x="1353.2" y="1700.1" width="13" height="12.9" fill="#787878"/><rect x="1366" y="1203" width="13" height="12.9" fill="#878787"/><rect x="1366" y="1228.5" width="13" height="12.9" fill="#727272"/><rect x="1366" y="1254" width="13" height="12.9" fill="#939393"/><rect x="1366" y="1266.7" width="13" height="12.9" fill="#8d8d8d"/><rect x="1366" y="1317.7" width="13" height="12.9" fill="#7b7b7b"/><rect x="1366" y="1330.5" width="13" height="12.9" fill="#787878"/><rect x="1366" y="1355.9" width="13" height="12.9" fill="#787878"/><rect x="1366" y="1368.7" width="13" height="12.9" fill="#8d8d8d"/><rect x="1366" y="1381.4" width="13" height="12.9" fill="#878787"/><rect x="1366" y="1406.9" width="13" height="12.9" fill="#848484"/><rect x="1366" y="1419.7" width="13" height="12.9" fill="#878787"/><rect x="1366" y="1432.4" width="13" height="12.9" fill="#8a8a8a"/><rect x="1366" y="1445.2" width="13" height="12.9" fill="#7b7b7b"/><rect x="1366" y="1470.6" width="13" height="12.9" fill="#8a8a8a"/><rect x="1366" y="1483.4" width="13" height="12.9" fill="#8d8d8d"/><rect x="1366" y="1496.1" width="13" height="12.9" fill="#848484"/><rect x="1366" y="1547.1" width="13" height="12.9" fill="#757575"/><rect x="1366" y="1585.3" width="13" height="25.7" fill="#6f6f6f"/><rect x="1366" y="1610.8" width="13" height="12.9" fill="#727272"/><rect x="1366" y="1623.6" width="13" height="12.9" fill="#6c6c6c"/><rect x="1366" y="1636.3" width="13" height="12.9" fill="#454545"/><rect x="1366" y="1649.1" width="13" height="12.9" fill="#666666"/><rect x="1366" y="1661.8" width="13" height="25.7" fill="#727272"/><rect x="1366" y="1687.3" width="13" height="25.7" fill="#757575"/><rect x="1378.8" y="1241.2" width="13" height="12.9" fill="#757575"/><rect x="1378.8" y="1254" width="13" height="12.9" fill="#878787"/><rect x="1378.8" y="1266.7" width="13" height="12.9" fill="#8d8d8d"/><rect x="1378.8" y="1279.5" width="13" height="12.9" fill="#787878"/><rect x="1378.8" y="1305" width="13" height="12.9" fill="#787878"/><rect x="1378.8" y="1330.5" width="13" height="12.9" fill="#787878"/><rect x="1378.8" y="1343.2" width="13" height="12.9" fill="#727272"/><rect x="1378.8" y="1355.9" width="13" height="12.9" fill="#848484"/><rect x="1378.8" y="1432.4" width="13" height="12.9" fill="#878787"/><rect x="1378.8" y="1470.6" width="13" height="12.9" fill="#7b7b7b"/><rect x="1378.8" y="1483.4" width="13" height="12.9" fill="#878787"/><rect x="1378.8" y="1496.1" width="13" height="12.9" fill="#909090"/><rect x="1378.8" y="1508.9" width="13" height="12.9" fill="#8d8d8d"/><rect x="1378.8" y="1534.4" width="13" height="12.9" fill="#787878"/><rect x="1378.8" y="1547.1" width="13" height="12.9" fill="#727272"/><rect x="1378.8" y="1610.8" width="13" height="12.9" fill="#878787"/><rect x="1378.8" y="1623.6" width="13" height="12.9" fill="#909090"/><rect x="1378.8" y="1649.1" width="13" height="12.9" fill="#6f6f6f"/><rect x="1378.8" y="1661.8" width="13" height="12.9" fill="#787878"/><rect x="1378.8" y="1674.6" width="13" height="12.9" fill="#7b7b7b"/><rect x="1391.5" y="1215.7" width="13" height="12.9" fill="#848484"/><rect x="1391.5" y="1254" width="13" height="12.9" fill="#848484"/><rect x="1391.5" y="1266.7" width="13" height="12.9" fill="#878787"/><rect x="1391.5" y="1292.2" width="13" height="12.9" fill="#787878"/><rect x="1391.5" y="1330.5" width="13" height="12.9" fill="#757575"/><rect x="1391.5" y="1343.2" width="13" height="12.9" fill="#727272"/><rect x="1391.5" y="1355.9" width="13" height="12.9" fill="#8a8a8a"/><rect x="1391.5" y="1406.9" width="13" height="38.4" fill="#878787"/><rect x="1391.5" y="1457.9" width="13" height="12.9" fill="#787878"/><rect x="1391.5" y="1470.6" width="13" height="25.7" fill="#878787"/><rect x="1391.5" y="1508.9" width="13" height="12.9" fill="#8a8a8a"/><rect x="1391.5" y="1521.6" width="13" height="12.9" fill="#878787"/><rect x="1391.5" y="1547.1" width="13" height="12.9" fill="#727272"/><rect x="1391.5" y="1559.9" width="13" height="12.9" fill="#7b7b7b"/><rect x="1391.5" y="1572.6" width="13" height="12.9" fill="#787878"/><rect x="1391.5" y="1598.1" width="13" height="12.9" fill="#878787"/><rect x="1391.5" y="1623.6" width="13" height="12.9" fill="#878787"/><rect x="1391.5" y="1636.3" width="13" height="12.9" fill="#8a8a8a"/><rect x="1391.5" y="1661.8" width="13" height="12.9" fill="#7b7b7b"/></g><path d="M1129.7 1264 L1129.2 1273.1 L1129.3 1285.8 L1129.7 1291.3 L1130.2 1285.8 L1130.3 1273.1ZM1116.9 1537.8 L1115 1540.7 L1114.3 1553.5 L1116.9 1564.3 L1118.4 1553.5 L1117.7 1540.7ZM1142.5 1535.8 L1141.9 1540.7 L1142.5 1549.3 L1145.6 1540.7ZM1142.5 1612.8 L1141.7 1617.2 L1142.5 1622.1 L1145.3 1617.2ZM1359.6 1608.9 L1355.8 1617.2 L1356.5 1630 L1359.6 1638.9 L1363.4 1630 L1363.2 1617.2Z" fill="none" stroke="#004dff" stroke-width="2.45" stroke-linejoin="round" stroke-linecap="round" opacity=".9" filter="url(#soft)"/><path d="M1129.7 1239.3 L1128.4 1247.6 L1126.5 1260.4 L1125.6 1273.1 L1126.1 1285.8 L1126.8 1298.6 L1128.2 1311.3 L1129.7 1315.4 L1132.6 1311.3 L1133.6 1298.6 L1134.3 1285.8 L1134.4 1273.1 L1134.6 1260.4 L1131.6 1247.6ZM1155.2 1461.1 L1150.7 1464.3 L1155.2 1466.7 L1155.7 1464.3ZM1142.5 1520.3 L1141.2 1528 L1139.9 1540.7 L1140.6 1553.5 L1141 1566.2 L1142.1 1579 L1142.5 1584.6 L1150.9 1579 L1155.2 1574.6 L1156.4 1566.2 L1156.3 1553.5 L1155.8 1540.7 L1155.2 1534.1 L1153.8 1528ZM1116.9 1530.6 L1110.4 1540.7 L1111 1553.5 L1112.6 1566.2 L1116.6 1579 L1116.9 1580.3 L1117 1579 L1118.8 1566.2 L1120.2 1553.5 L1119.6 1540.7ZM1142.5 1594.6 L1141.1 1604.5 L1138.6 1617.2 L1140 1630 L1142.5 1639.6 L1150.2 1642.7 L1142.5 1645 L1137.9 1655.4 L1142.5 1659.5 L1155.2 1659.9 L1163.2 1655.4 L1156.8 1642.7 L1156.9 1630 L1155.9 1617.2 L1156 1604.5 L1155.2 1598.8ZM1359.6 1599.9 L1356.6 1604.5 L1352 1617.2 L1353.2 1630 L1356.5 1642.7 L1359.6 1650.5 L1372.4 1645.8 L1374.2 1642.7 L1372.4 1640 L1367.5 1630 L1366.9 1617.2 L1362.9 1604.5Z" fill="none" stroke="#00b2ff" stroke-width="2.45" stroke-linejoin="round" stroke-linecap="round" opacity=".9" filter="url(#soft)"/><path d="M1112.3 1209.4 L1113.7 1222.1 L1116.9 1226 L1121.9 1222.1 L1122.7 1209.4M1129.7 1227.3 L1123.3 1234.9 L1124.5 1247.6 L1123.1 1260.4 L1122 1273.1 L1122.9 1285.8 L1123.3 1298.6 L1125.1 1311.3 L1129.7 1324.1 L1129.7 1324.2 L1129.8 1324.1 L1138.9 1311.3 L1138.3 1298.6 L1138.5 1285.8 L1138.6 1273.1 L1139.8 1260.4 L1137.1 1247.6 L1135.8 1234.9ZM1321.3 1241.8 L1317.4 1247.6 L1321.3 1259.9 L1325 1247.6ZM1155.2 1413.1 L1151.3 1413.3 L1151.6 1426 L1142.5 1430 L1141.4 1438.8 L1140.8 1451.5 L1139.8 1464.3 L1140.3 1477 L1140.8 1489.8 L1138.9 1502.5 L1139.9 1515.3 L1138.7 1528 L1138 1540.7 L1138.5 1553.5 L1138.7 1566.2 L1139.2 1579 L1139.6 1591.7 L1138.2 1604.5 L1135.6 1617.2 L1135.6 1630 L1137.5 1642.7 L1132.4 1655.4 L1142.5 1664.4 L1155.2 1664.5 L1168 1660.5 L1172.3 1655.4 L1170 1642.7 L1168.1 1630 L1169.9 1617.2 L1168 1607.2 L1167.6 1604.5 L1166.4 1591.7 L1167.1 1579 L1166.6 1566.2 L1164.8 1553.5 L1163.6 1540.7 L1161.8 1528 L1161 1515.3 L1160.1 1502.5 L1160.7 1489.8 L1160.5 1477 L1162.1 1464.3 L1161.6 1451.5 L1157.6 1438.8 L1155.8 1426 L1155.3 1413.3ZM1116.9 1507.1 L1110.9 1515.3 L1110.9 1528 L1105.8 1540.7 L1107.7 1553.5 L1107.5 1566.2 L1109.4 1579 L1111.9 1591.7 L1116.9 1596.8 L1119.2 1591.7 L1120 1579 L1121 1566.2 L1122.1 1553.5 L1121.6 1540.7 L1118.8 1528 L1120.4 1515.3ZM1257.4 1513.7 L1257.3 1515.3 L1257.4 1525.8 L1257.7 1515.3ZM1321.3 1533.2 L1315.1 1540.7 L1321.3 1548.7 L1325.6 1540.7ZM1359.6 1536.2 L1358.3 1540.7 L1359.6 1542.3 L1360.6 1540.7ZM1359.6 1584.7 L1357.8 1591.7 L1350.2 1604.5 L1348.2 1617.2 L1349.9 1630 L1351.4 1642.7 L1353.1 1655.4 L1359 1668.2 L1359.6 1669.6 L1360.6 1668.2 L1372.4 1655.7 L1372.6 1655.4 L1379.9 1642.7 L1372.4 1631.7 L1371.5 1630 L1370.6 1617.2 L1369.7 1604.5 L1362.7 1591.7ZM1321.3 1632 L1316.8 1642.7 L1316.2 1655.4 L1321.3 1664.3 L1327 1655.4 L1324.6 1642.7Z" fill="none" stroke="#1affe5" stroke-width="2.45" stroke-linejoin="round" stroke-linecap="round" opacity=".9" filter="url(#soft)"/><path d="M1105.2 1209.4 L1104.7 1222.1 L1104.2 1227.2 L1091.4 1225M1190.9 1209.4 L1193.5 1222.1 L1191.7 1234.9 L1193.6 1247.4 L1193.6 1247.6 L1195.2 1260.4 L1194.6 1273.1 L1193.6 1277 L1188.3 1285.8 L1193.6 1297.3 L1193.8 1298.6 L1193.6 1304.1 L1193.2 1311.3 L1193.6 1313.4 L1195.3 1324.1 L1195.1 1336.8 L1196.2 1349.6 L1196.6 1362.3 L1193.6 1374.5 L1193.5 1375.1 L1189 1387.8 L1191.4 1400.5 L1193.3 1413.3 L1193.6 1417.7 L1194.1 1426 L1195.2 1438.8 L1194.9 1451.5 L1194.5 1464.3 L1196 1477 L1197.3 1489.8 L1199 1502.5 L1196.1 1515.3 L1196.8 1528 L1195.3 1540.7 L1194.3 1553.5 L1196.1 1566.2 L1193.6 1578.9 L1193.5 1579 L1182.7 1591.7 L1180.8 1593.1 L1180.5 1591.7 L1178.4 1579 L1173 1566.2 L1178.4 1553.5 L1175.2 1540.7 L1170.6 1528 L1173.2 1515.3 L1171.7 1502.5 L1172.3 1489.8 L1168.9 1477 L1169.8 1464.3 L1171.9 1451.5 L1168.4 1438.8 L1168 1433.3 L1167.8 1426 L1168 1422.8 L1169.5 1413.3 L1168.3 1400.5 L1172.4 1387.8 L1168.5 1375.1 L1168 1368.4 L1167.8 1362.3 L1168 1359.9 L1169.9 1349.6 L1168 1339.7 L1167.7 1336.8 L1168 1334.1 L1169.7 1324.1 L1168 1320.4 L1165.6 1311.3 L1163.5 1298.6 L1168 1285.9 L1168 1285.8 L1172.2 1273.1 L1173.2 1260.4 L1171.5 1247.6 L1169.3 1234.9 L1168 1230.4 L1166.9 1222.1 L1166.3 1209.4M1231.8 1209.4 L1231.9 1209.5 L1231.9 1209.4M1251.7 1209.4 L1252 1222.1 L1251.4 1234.9 L1251.5 1247.6 L1251.5 1260.4 L1251.4 1273.1 L1251 1285.8 L1251.7 1298.6 L1251.4 1311.3 L1250.9 1324.1 L1250.6 1336.8 L1250.9 1349.6 L1250.7 1362.3 L1250.7 1375.1 L1250.2 1387.8 L1250.3 1400.5 L1249.9 1413.3 L1249.9 1426 L1249.1 1438.8 L1248.9 1451.5 L1248.5 1464.3 L1248 1477 L1245.4 1489.8 L1244.7 1495.8 L1241.8 1502.5 L1239.7 1515.3 L1241.6 1528 L1241.4 1540.7 L1242.1 1553.5 L1241.7 1566.2 L1242 1579 L1241.9 1591.7 L1243.1 1604.5 L1242.6 1617.2 L1242.4 1630 L1243 1642.7 L1243.3 1655.4 L1243.4 1668.2 L1240.6 1680.9 L1236 1693.7 L1231.9 1704.9 L1231.5 1706.4M1346.8 1216.6 L1340.9 1222.1 L1346.8 1224.8 L1353.1 1222.1ZM1384.5 1209.4 L1385.1 1210.2 L1386.1 1209.4M1397.9 1238.8 L1393.7 1234.9 L1385.1 1229 L1378.1 1222.1 L1372.4 1217.4 L1364 1222.1 L1359.6 1228.4 L1356.7 1234.9 L1359.6 1246.2 L1360.4 1247.6 L1372.4 1249.9 L1385.1 1254.3 L1397.9 1253.3M1091.4 1259.7 L1093.1 1247.6 L1104.2 1236.6 L1116.9 1236.9 L1120.7 1247.6 L1119.8 1260.4 L1118.5 1273.1 L1119.8 1285.8 L1119.8 1298.6 L1122 1311.3 L1125.1 1324.1 L1126.2 1336.8 L1129.7 1348.3 L1130.6 1349.6 L1129.7 1354.7 L1127.9 1362.3 L1125.2 1375.1 L1129.7 1383.7 L1130.8 1387.8 L1134.1 1400.5 L1136.6 1413.3 L1138.4 1426 L1137.4 1438.8 L1137.3 1451.5 L1136.7 1464.3 L1136.9 1477 L1136.5 1489.8 L1132.2 1502.5 L1136 1515.3 L1136.2 1528 L1136 1540.7 L1136.3 1553.5 L1136.4 1566.2 L1136.3 1579 L1136.2 1591.7 L1135.3 1604.5 L1132.5 1617.2 L1131.3 1630 L1131.4 1642.7 L1129.7 1647.3 L1127.3 1655.4 L1127.2 1668.2 L1116.9 1680.6 L1116 1680.9 L1109 1693.7 L1116.9 1702.3 L1125.2 1693.7 L1129.7 1687.7 L1142.5 1688.9 L1155.2 1689.8 L1164.2 1693.7 L1159.5 1706.4M1231.9 1270.5 L1231.3 1273.1 L1230.4 1285.8 L1231.9 1297.6 L1232.1 1285.8 L1232 1273.1ZM1397.9 1288 L1395.8 1285.8 L1385.1 1281 L1372.4 1285.8 L1377 1298.6 L1372.4 1310.7 L1370.3 1311.3 L1363.6 1324.1 L1359.6 1332.2 L1346.8 1335.2 L1339.6 1324.1 L1337.4 1311.3 L1334.1 1308 L1330.1 1298.6 L1331.6 1285.8 L1331.8 1273.1 L1334.1 1268.1 L1338.8 1260.4 L1334.1 1253.1 L1332.9 1247.6 L1328.9 1234.9 L1321.3 1224.7 L1314.1 1234.9 L1309 1247.6 L1309.6 1260.4 L1311.9 1273.1 L1310.6 1285.8 L1309.4 1298.6 L1310.8 1311.3 L1310.8 1324.1 L1308.5 1331.3 L1306.4 1336.8 L1308.5 1343.7 L1310.1 1349.6 L1312.9 1362.3 L1316.6 1375.1 L1308.5 1387.5 L1308.4 1387.8 L1308.5 1389.1 L1313.9 1400.5 L1321.3 1402.4 L1326.6 1413.3 L1326.3 1426 L1322.1 1438.8 L1329 1451.5 L1321.3 1462.8 L1318.1 1464.3 L1320.1 1477 L1321.3 1481.8 L1334.1 1478.8 L1346.4 1489.8 L1337 1502.5 L1336.4 1515.3 L1338 1528 L1342.5 1540.7 L1345.6 1553.5 L1346.8 1557.9 L1354.4 1566.2 L1347.2 1579 L1346.8 1580.8 L1341.9 1591.7 L1342.2 1604.5 L1343.4 1617.2 L1346.3 1630 L1346 1642.7 L1334.6 1655.4 L1337.5 1668.2 L1346.8 1677.4 L1348.3 1680.9 L1351.7 1693.7 L1346.8 1702.5 L1342.3 1693.7 L1334.1 1683.6 L1331.6 1680.9 L1332.5 1668.2 L1333.9 1655.4 L1328.7 1642.7 L1325 1630 L1321.3 1617.2 L1321.3 1617 L1318.1 1604.5 L1321.3 1595.7 L1326 1591.7 L1323.4 1579 L1322.6 1566.2 L1324 1553.5 L1330.3 1540.7 L1330.6 1528 L1321.3 1518.1 L1312.1 1528 L1308.5 1537.9 L1307.3 1540.7 L1296.1 1553.5 L1297.3 1566.2 L1295.7 1574.2 L1283 1576.9 L1280.5 1566.2 L1279.8 1553.5 L1279.6 1540.7 L1281.2 1528 L1279.7 1515.3 L1281.7 1502.5 L1283 1495.8 L1283.7 1489.8 L1283 1482.9 L1282.1 1477 L1279.5 1464.3 L1281.3 1451.5 L1281.2 1438.8 L1282.3 1426 L1283 1423.7 L1286.2 1413.3 L1284.3 1400.5 L1283 1395.5 L1281.2 1387.8 L1283 1376.8 L1283.3 1375.1 L1283.4 1362.3 L1284.3 1349.6 L1284.6 1336.8 L1284.2 1324.1 L1283.2 1311.3 L1284.5 1298.6 L1283 1291.8 L1281.7 1285.8 L1283 1274.2 L1283.2 1273.1 L1283 1272.2 L1281.6 1260.4 L1281 1247.6 L1282.3 1234.9 L1283 1232.3 L1289.3 1222.1 L1295.6 1209.4M1397.9 1324.2 L1385.1 1327.3 L1381.4 1324.1 L1385.1 1321.1 L1397.9 1323.8M1091.4 1341.9 L1094.3 1336.8 L1104.2 1326.2 L1104.6 1324.1 L1104.2 1318.9 L1102.4 1311.3 L1104.2 1300.3 L1104.4 1298.6 L1104.2 1297.6 L1098.3 1285.8 L1104.2 1281.4 L1109.6 1273.1 L1104.2 1264.8 L1091.4 1260.5M1104.2 1370.9 L1103.3 1375.1 L1096.9 1387.8 L1104.2 1394.4 L1114.4 1387.8 L1106 1375.1ZM1397.9 1371.6 L1385.1 1371.6 L1383.5 1375.1 L1380.9 1387.8 L1379 1400.5 L1380.1 1413.3 L1380.7 1426 L1385.1 1430.2 L1389.1 1426 L1389.3 1413.3 L1390.6 1400.5 L1397.9 1391.9M1116.9 1397 L1115.8 1400.5 L1116.9 1401.6 L1117.5 1400.5ZM1359.6 1389 L1354.9 1400.5 L1359.6 1405 L1367.8 1400.5ZM1397.9 1450 L1385.1 1446.5 L1372.4 1446.8 L1367.8 1451.5 L1372.4 1459.9 L1384.8 1464.3 L1380.7 1477 L1385.1 1481.9 L1390.6 1477 L1397.9 1470.4M1091.4 1469.8 L1104.2 1467.1 L1109 1464.3 L1107.6 1451.5 L1108 1438.8 L1109.1 1426 L1104.2 1424.2 L1097.1 1413.3 L1091.4 1401M1321.3 1493.1 L1316.5 1502.5 L1321.3 1510.7 L1331.7 1502.5ZM1091.4 1508.3 L1104.2 1508.3 L1104.8 1515.3 L1104.2 1518.6 L1094.7 1528 L1091.4 1536.7M1397.9 1540.1 L1385.1 1530.8 L1378.5 1528 L1372.4 1516.6 L1372 1515.3 L1363.3 1502.5 L1359.6 1495.2 L1349.2 1489.8 L1356.6 1477 L1359.6 1473.1 L1366.4 1464.3 L1359.6 1461 L1350.6 1451.5 L1348 1438.8 L1346.8 1437 L1342.6 1426 L1344.4 1413.3 L1343.3 1400.5 L1342.7 1387.8 L1335.4 1375.1 L1336.8 1362.3 L1346.5 1349.6 L1346.8 1347.8 L1359.6 1344 L1362.1 1349.6 L1360.2 1362.3 L1372.4 1367.3 L1380.1 1362.3 L1385.1 1358.5 L1397.9 1357M1091.4 1543.1 L1104.2 1552.6 L1104.3 1553.5 L1104.2 1555.2 L1095.9 1566.2 L1091.4 1577.7M1368.4 1566.2 L1372.4 1563.3 L1385.1 1563.5 L1390.3 1566.2 L1390.6 1579 L1385.1 1585.3 L1372.4 1581 L1371 1579ZM1091.4 1595.3 L1098.4 1604.5 L1099 1617.2 L1104.2 1621.7 L1108.3 1617.2 L1116.9 1605.4 L1117.2 1604.5 L1122.9 1591.7 L1122.9 1579 L1123.2 1566.2 L1124 1553.5 L1123.5 1540.7 L1121.8 1528 L1124 1515.3 L1123.9 1502.5 L1116.9 1495.4 L1104.2 1493.6 L1091.4 1494.2M1397.9 1655.6 L1397.9 1655.4 L1387.4 1642.7 L1385.1 1641.3 L1379.4 1630 L1380.8 1617.2 L1385.1 1606 L1386.4 1604.5 L1393.2 1591.7 L1397.9 1587.8M1270.2 1674.4 L1266.4 1680.9 L1262 1693.7 L1270.2 1705.7 L1281.1 1693.7 L1276.9 1680.9ZM1382 1693.7 L1385.1 1689.5 L1391.8 1693.7 L1385.1 1699.2ZM1397.9 1686.2 L1394.9 1680.9 L1397.9 1677.6M1095.8 1706.4 L1101.6 1693.7 L1097.9 1680.9 L1091.4 1672.1M1198.2 1706.4 L1202 1693.7 L1201.5 1680.9 L1195.8 1668.2 L1196.2 1655.4 L1193.6 1654.6 L1188.2 1642.7 L1186.9 1630 L1189.1 1617.2 L1191.5 1604.5 L1193.6 1601.6 L1200.5 1604.5 L1206.3 1607.5 L1207.9 1604.5 L1213.6 1591.7 L1217.6 1579 L1219.1 1568.6 L1219.5 1566.2 L1219.2 1553.5 L1219.6 1540.7 L1220.3 1528 L1222.6 1515.3 L1224.1 1502.5 L1231.9 1493 L1239.2 1489.8 L1236 1477 L1234.9 1464.3 L1234.4 1451.5 L1234.4 1438.8 L1231.9 1426 L1232.3 1413.3 L1232.1 1400.5 L1231.9 1396.9 L1227.1 1387.8 L1229.1 1375.1 L1219.1 1371.3 L1217.5 1362.3 L1215.2 1349.6 L1216 1336.8 L1216.9 1324.1 L1216.8 1311.3 L1216.9 1298.6 L1217.7 1285.8 L1216.6 1273.1 L1216 1260.4 L1216.9 1247.6 L1217.1 1234.9 L1217.4 1222.1 L1218 1209.4M1252.8 1706.4 L1253.7 1693.7 L1252.9 1680.9 L1248.4 1668.2 L1257.4 1665.1 L1268.6 1655.4 L1270.2 1654.6 L1277.5 1642.7 L1280.9 1630 L1282.4 1617.2 L1282.6 1604.5 L1283 1602 L1288.1 1591.7 L1295.7 1581.9 L1299.4 1591.7 L1302.2 1604.5 L1307.8 1617.2 L1308.5 1629.6 L1308.5 1630 L1311.4 1642.7 L1310 1655.4 L1309.7 1668.2 L1312.5 1680.9 L1308.5 1688.2 L1297.3 1693.7 L1307.2 1706.4M1315.5 1706.4 L1321.3 1705.5 L1324.2 1706.4" fill="none" stroke="#80f468" stroke-width="2.45" stroke-linejoin="round" stroke-linecap="round" opacity=".9" filter="url(#soft)"/><path d="M1111.8 1311.3 L1116.9 1301.3 L1118.9 1311.3 L1120.5 1324.1 L1117.5 1336.8 L1116.9 1338.5 L1115.7 1336.8 L1111.6 1324.1ZM1127.7 1413.3 L1129.7 1411 L1130.6 1413.3 L1133.7 1426 L1133.5 1438.8 L1133.8 1451.5 L1133.7 1464.3 L1133.4 1477 L1132.1 1489.8 L1129.7 1495.8 L1123.8 1489.8 L1120.2 1477 L1121.6 1464.3 L1122 1451.5 L1122.2 1438.8 L1123.5 1426ZM1293.8 1464.3 L1295.7 1455.8 L1298.1 1464.3 L1296.1 1477 L1295.7 1478.5 L1295.5 1477ZM1127.6 1515.3 L1129.7 1509 L1132.1 1515.3 L1133.8 1528 L1134 1540.7 L1134.2 1553.5 L1134.1 1566.2 L1133.4 1579 L1132.8 1591.7 L1132.5 1604.5 L1129.7 1616.2 L1123.6 1604.5 L1126.5 1591.7 L1125.9 1579 L1125.4 1566.2 L1125.8 1553.5 L1125.4 1540.7 L1124.8 1528ZM1329.9 1553.5 L1334.1 1543.6 L1338.8 1553.5 L1342.6 1566.2 L1336.6 1579 L1334.1 1582.1 L1331.9 1579 L1327.6 1566.2ZM1178.9 1566.2 L1180.8 1562.7 L1184.2 1566.2 L1180.8 1570ZM1291.5 1617.2 L1295.7 1604.5 L1299.7 1617.2 L1301.8 1630 L1306 1642.7 L1303.4 1655.4 L1295.7 1665 L1287.9 1655.4 L1285.4 1642.7 L1289.2 1630ZM1328.7 1617.2 L1334.1 1607 L1338 1617.2 L1340.4 1630 L1337.1 1642.7 L1334.1 1646 L1332.7 1642.7 L1329.3 1630ZM1107.6 1630 L1116.9 1620.2 L1125.5 1630 L1126.5 1642.7 L1122.5 1655.4 L1116.9 1665.3 L1106.3 1655.4 L1106.2 1642.7Z" fill="none" stroke="#e5ff1a" stroke-width="2.45" stroke-linejoin="round" stroke-linecap="round" opacity=".9" filter="url(#soft)"/><path d="M1128.6 1451.5 L1129.7 1441.8 L1130.3 1451.5 L1130.6 1464.3 L1130 1477 L1129.7 1478.8 L1129.1 1477 L1127.9 1464.3ZM1127.8 1528 L1129.7 1520.1 L1131.3 1528 L1132.1 1540.7 L1132 1553.5 L1131.9 1566.2 L1130.5 1579 L1129.7 1588.4 L1128.8 1579 L1127.6 1566.2 L1127.7 1553.5 L1127.4 1540.7ZM1332.6 1566.2 L1334.1 1559.9 L1336 1566.2 L1334.1 1569.8ZM1114.7 1630 L1116.9 1627.6 L1119 1630 L1122.1 1642.7 L1117.6 1655.4 L1116.9 1656.7 L1115.6 1655.4 L1111.2 1642.7ZM1333.7 1630 L1334.1 1627.2 L1334.5 1630 L1334.1 1631.3ZM1290.8 1642.7 L1295.7 1631.3 L1300.7 1642.7 L1296.6 1655.4 L1295.7 1656.6 L1294.8 1655.4Z" fill="none" stroke="#ffb300" stroke-width="2.45" stroke-linejoin="round" stroke-linecap="round" opacity=".9" filter="url(#soft)"/><path d="M1129.3 1540.7 L1129.7 1535.9 L1130.1 1540.7 L1129.9 1553.5 L1129.7 1561.1 L1129.6 1553.5ZM1116.2 1642.7 L1116.9 1640.4 L1117.6 1642.7 L1116.9 1644.6Z" fill="none" stroke="#ff4c00" stroke-width="2.45" stroke-linejoin="round" stroke-linecap="round" opacity=".9" filter="url(#soft)"/><rect x="1187.3" y="1510.6" width="88.4" height="142.3" rx="7" ry="7" fill="none" stroke="#9184b0" stroke-width="1.8" opacity=".9"/></g>
</svg>
</body></html>
